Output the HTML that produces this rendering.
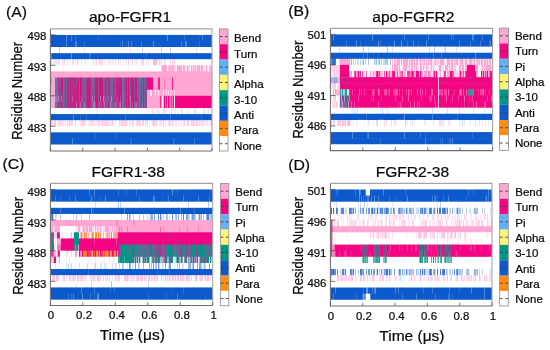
<!DOCTYPE html>
<html lang="en"><head><meta charset="utf-8"><title>Secondary structure timelines</title>
<style>html,body{margin:0;padding:0;background:#fff;overflow:hidden}svg{display:block}text{font-family:'Liberation Sans', Arial, Helvetica, sans-serif;fill:#0a0a0a;stroke:#0a0a0a;stroke-width:0.22px}</style></head><body>
<svg width="550" height="350" viewBox="0 0 550 350">
<defs><filter id="soft" x="-2%" y="-2%" width="104%" height="104%" color-interpolation-filters="sRGB"><feGaussianBlur stdDeviation="0.7 0.42"/></filter>
<clipPath id="clipA"><rect x="50.40" y="28.90" width="161.60" height="122.00"/></clipPath>
<clipPath id="clipB"><rect x="330.40" y="28.40" width="162.20" height="122.20"/></clipPath>
<clipPath id="clipC"><rect x="50.40" y="183.40" width="162.30" height="122.10"/></clipPath>
<clipPath id="clipD"><rect x="330.40" y="183.40" width="161.60" height="122.50"/></clipPath>
</defs>
<rect width="550" height="350" fill="#fff"/>
<g clip-path="url(#clipA)"><g filter="url(#soft)" transform="translate(51.00,28.80) scale(1.0000,1.0150)">
<rect x="0" y="0" width="162" height="6.5" fill="#ffffff"/>
<rect x="0" y="6" width="15" height="6.5" fill="#0c5acc"/>
<rect x="25" y="6" width="22" height="6.5" fill="#0c5acc"/>
<rect x="48" y="6" width="68" height="6.5" fill="#0c5acc"/>
<rect x="117" y="6" width="16" height="6.5" fill="#0c5acc"/>
<rect x="134" y="6" width="13" height="6.5" fill="#0c5acc"/>
<rect x="152" y="6" width="10" height="6.5" fill="#0c5acc"/>
<path d="M15 6h1v6.5h-1zM116 6h1v6.5h-1z" fill="#548ad8"/>
<path d="M16 6h4v6.5h-4zM21 6h3v6.5h-3zM148 6h3v6.5h-3z" fill="#0c5acc"/>
<path d="M20 6h1v6.5h-1z" fill="#3c78d8"/>
<path d="M24 6h1v6.5h-1z" fill="#3678d8"/>
<path d="M47 6h1v6.5h-1z" fill="#2a6cd2"/>
<path d="M133 6h1v6.5h-1z" fill="#3072d2"/>
<path d="M147 6h1v6.5h-1z" fill="#1e66d2"/>
<path d="M151 6h1v6.5h-1z" fill="#427ed8"/>
<rect x="0" y="12" width="15" height="6.5" fill="#0c5acc"/>
<rect x="16" y="12" width="8" height="6.5" fill="#0c5acc"/>
<rect x="26" y="12" width="7" height="6.5" fill="#0c5acc"/>
<rect x="34" y="12" width="35" height="6.5" fill="#0c5acc"/>
<rect x="81" y="12" width="9" height="6.5" fill="#0c5acc"/>
<rect x="91" y="12" width="11" height="6.5" fill="#0c5acc"/>
<rect x="103" y="12" width="27" height="6.5" fill="#0c5acc"/>
<rect x="136" y="12" width="12" height="6.5" fill="#0c5acc"/>
<rect x="149" y="12" width="13" height="6.5" fill="#0c5acc"/>
<path d="M15 12h1v6.5h-1zM24 12h1v6.5h-1zM71 12h1v6.5h-1z" fill="#4884d8"/>
<path d="M25 12h1v6.5h-1zM80 12h1v6.5h-1z" fill="#427ed8"/>
<path d="M33 12h1v6.5h-1z" fill="#3072d2"/>
<path d="M69 12h1v6.5h-1z" fill="#2466d2"/>
<path d="M70 12h1v6.5h-1zM72 12h3v6.5h-3zM76 12h1v6.5h-1zM78 12h2v6.5h-2zM131 12h3v6.5h-3z" fill="#0c5acc"/>
<path d="M75 12h1v6.5h-1z" fill="#246cd2"/>
<path d="M77 12h1v6.5h-1z" fill="#4e8ad8"/>
<path d="M90 12h1v6.5h-1zM130 12h1v6.5h-1z" fill="#3c78d8"/>
<path d="M102 12h1v6.5h-1z" fill="#548ad8"/>
<path d="M134 12h2v6.5h-2z" fill="#4e84d8"/>
<path d="M148 12h1v6.5h-1z" fill="#2a72d2"/>
<rect x="0" y="18" width="8" height="6.5" fill="#ffffff"/>
<rect x="9" y="18" width="24" height="6.5" fill="#ffffff"/>
<rect x="34" y="18" width="45" height="6.5" fill="#ffffff"/>
<rect x="80" y="18" width="11" height="6.5" fill="#ffffff"/>
<rect x="92" y="18" width="18" height="6.5" fill="#ffffff"/>
<rect x="111" y="18" width="8" height="6.5" fill="#ffffff"/>
<rect x="120" y="18" width="25" height="6.5" fill="#ffffff"/>
<rect x="146" y="18" width="16" height="6.5" fill="#ffffff"/>
<path d="M8 18h1v6.5h-1z" fill="#baccf0"/>
<path d="M33 18h1v6.5h-1zM79 18h1v6.5h-1z" fill="#deeaf6"/>
<path d="M91 18h1v6.5h-1z" fill="#ccdef6"/>
<path d="M110 18h1v6.5h-1z" fill="#c6d8f0"/>
<path d="M119 18h1v6.5h-1z" fill="#bad2f0"/>
<path d="M145 18h1v6.5h-1z" fill="#d8e4f6"/>
<rect x="1" y="24" width="19" height="6.5" fill="#0c5acc"/>
<rect x="21" y="24" width="17" height="6.5" fill="#0c5acc"/>
<rect x="40" y="24" width="55" height="6.5" fill="#0c5acc"/>
<rect x="96" y="24" width="66" height="6.5" fill="#0c5acc"/>
<path d="M0 24h1v6.5h-1z" fill="#427ed8"/>
<path d="M20 24h1v6.5h-1z" fill="#548ad8"/>
<path d="M38 24h1v6.5h-1z" fill="#3072d2"/>
<path d="M39 24h1v6.5h-1z" fill="#2a6cd2"/>
<path d="M95 24h1v6.5h-1z" fill="#246cd2"/>
<rect x="35" y="30" width="7" height="6.5" fill="#ffffff"/>
<rect x="124" y="30" width="38" height="6.5" fill="#ffffff"/>
<path d="M0 30h1v6.5h-1zM13 30h1v6.5h-1zM49 30h1v6.5h-1zM67 30h1v6.5h-1zM77 30h1v6.5h-1zM123 30h1v6.5h-1z" fill="#fccce4"/>
<path d="M1 30h1v6.5h-1zM6 30h1v6.5h-1zM9 30h2v6.5h-2zM14 30h2v6.5h-2zM17 30h1v6.5h-1zM19 30h2v6.5h-2zM23 30h1v6.5h-1zM25 30h1v6.5h-1zM28 30h2v6.5h-2zM31 30h3v6.5h-3zM43 30h1v6.5h-1zM46 30h1v6.5h-1zM52 30h1v6.5h-1zM54 30h3v6.5h-3zM60 30h1v6.5h-1zM63 30h1v6.5h-1zM65 30h2v6.5h-2zM68 30h1v6.5h-1zM70 30h2v6.5h-2zM73 30h2v6.5h-2zM76 30h1v6.5h-1zM78 30h1v6.5h-1zM80 30h1v6.5h-1zM82 30h2v6.5h-2zM86 30h4v6.5h-4zM93 30h2v6.5h-2zM96 30h1v6.5h-1zM98 30h4v6.5h-4zM107 30h1v6.5h-1zM111 30h2v6.5h-2zM115 30h4v6.5h-4zM120 30h1v6.5h-1zM122 30h1v6.5h-1z" fill="#ffffff"/>
<path d="M2 30h3v6.5h-3zM27 30h1v6.5h-1zM44 30h1v6.5h-1zM48 30h1v6.5h-1zM50 30h1v6.5h-1zM85 30h1v6.5h-1zM95 30h1v6.5h-1zM109 30h2v6.5h-2zM114 30h1v6.5h-1zM119 30h1v6.5h-1z" fill="#fce4f0"/>
<path d="M5 30h1v6.5h-1zM121 30h1v6.5h-1z" fill="#fcd8f0"/>
<path d="M7 30h1v6.5h-1zM22 30h1v6.5h-1zM26 30h1v6.5h-1zM34 30h1v6.5h-1zM45 30h1v6.5h-1zM81 30h1v6.5h-1zM91 30h2v6.5h-2zM108 30h1v6.5h-1z" fill="#fcd2ea"/>
<path d="M8 30h1v6.5h-1zM24 30h1v6.5h-1zM47 30h1v6.5h-1zM58 30h1v6.5h-1zM61 30h2v6.5h-2zM84 30h1v6.5h-1z" fill="#fceaf6"/>
<path d="M11 30h1v6.5h-1zM18 30h1v6.5h-1zM53 30h1v6.5h-1zM57 30h1v6.5h-1zM72 30h1v6.5h-1zM79 30h1v6.5h-1z" fill="#fcf0f6"/>
<path d="M12 30h1v6.5h-1zM16 30h1v6.5h-1zM30 30h1v6.5h-1zM64 30h1v6.5h-1zM69 30h1v6.5h-1zM75 30h1v6.5h-1zM90 30h1v6.5h-1zM97 30h1v6.5h-1zM106 30h1v6.5h-1z" fill="#fcdef0"/>
<path d="M21 30h1v6.5h-1zM42 30h1v6.5h-1zM51 30h1v6.5h-1zM59 30h1v6.5h-1zM113 30h1v6.5h-1z" fill="#fcd8ea"/>
<path d="M102 30h4v6.5h-4z" fill="#fcbade"/>
<rect x="0" y="36" width="6" height="6.5" fill="#ffffff"/>
<rect x="13" y="36" width="53" height="6.5" fill="#ffffff"/>
<rect x="67" y="36" width="10" height="6.5" fill="#ffffff"/>
<rect x="78" y="36" width="10" height="6.5" fill="#ffffff"/>
<rect x="89" y="36" width="21" height="6.5" fill="#ffffff"/>
<path d="M6 36h1v6.5h-1zM12 36h1v6.5h-1zM134 36h1v6.5h-1zM152 36h1v6.5h-1z" fill="#fcf0f6"/>
<path d="M7 36h5v6.5h-5z" fill="#ffffff"/>
<path d="M66 36h1v6.5h-1zM125 36h1v6.5h-1zM139 36h1v6.5h-1zM154 36h1v6.5h-1zM157 36h1v6.5h-1zM160 36h2v6.5h-2z" fill="#fcf6fc"/>
<path d="M77 36h1v6.5h-1z" fill="#fcf0fc"/>
<path d="M88 36h1v6.5h-1zM131 36h1v6.5h-1z" fill="#fceaf6"/>
<path d="M110 36h1v6.5h-1zM117 36h1v6.5h-1zM120 36h1v6.5h-1zM158 36h1v6.5h-1z" fill="#fcc6e4"/>
<path d="M111 36h5v6.5h-5zM118 36h2v6.5h-2zM121 36h2v6.5h-2zM126 36h5v6.5h-5zM132 36h2v6.5h-2zM136 36h1v6.5h-1zM140 36h1v6.5h-1zM142 36h1v6.5h-1zM144 36h1v6.5h-1zM146 36h3v6.5h-3zM150 36h2v6.5h-2zM155 36h1v6.5h-1zM159 36h1v6.5h-1z" fill="#ffa6d3"/>
<path d="M116 36h1v6.5h-1zM156 36h1v6.5h-1z" fill="#fce4f0"/>
<path d="M123 36h1v6.5h-1zM138 36h1v6.5h-1zM149 36h1v6.5h-1z" fill="#fcd2ea"/>
<path d="M124 36h1v6.5h-1zM137 36h1v6.5h-1z" fill="#fccce4"/>
<path d="M135 36h1v6.5h-1zM145 36h1v6.5h-1zM153 36h1v6.5h-1z" fill="#fcdef0"/>
<path d="M141 36h1v6.5h-1z" fill="#fcd8ea"/>
<path d="M143 36h1v6.5h-1z" fill="#fcc0e4"/>
<rect x="0" y="42" width="162" height="6.5" fill="#ffa6d3"/>
<rect x="96" y="48" width="6" height="6.5" fill="#f20482"/>
<rect x="114" y="48" width="7" height="6.5" fill="#ffa6d3"/>
<rect x="122" y="48" width="40" height="6.5" fill="#ffa6d3"/>
<path d="M0 48h1v6.5h-1zM113 48h1v6.5h-1z" fill="#fc78ba"/>
<path d="M1 48h3v6.5h-3zM102 48h5v6.5h-5zM109 48h4v6.5h-4z" fill="#ffa6d3"/>
<path d="M4 48h3v6.5h-3z" fill="#6078a8"/>
<path d="M7 48h1v6.5h-1zM39 48h1v6.5h-1zM68 48h1v6.5h-1z" fill="#ae308a"/>
<path d="M8 48h1v6.5h-1zM40 48h1v6.5h-1zM47 48h1v6.5h-1zM73 48h1v6.5h-1z" fill="#7e5a9c"/>
<path d="M9 48h1v6.5h-1zM94 48h2v6.5h-2z" fill="#904890"/>
<path d="M10 48h2v6.5h-2zM27 48h1v6.5h-1zM29 48h2v6.5h-2zM37 48h2v6.5h-2zM44 48h3v6.5h-3zM48 48h3v6.5h-3zM69 48h2v6.5h-2zM75 48h1v6.5h-1zM77 48h1v6.5h-1zM80 48h3v6.5h-3zM84 48h2v6.5h-2zM92 48h1v6.5h-1z" fill="#d81278"/>
<path d="M12 48h1v6.5h-1z" fill="#6072a8"/>
<path d="M13 48h1v6.5h-1zM15 48h1v6.5h-1zM34 48h1v6.5h-1zM52 48h1v6.5h-1zM59 48h3v6.5h-3zM64 48h1v6.5h-1zM76 48h1v6.5h-1zM83 48h1v6.5h-1z" fill="#76609c"/>
<path d="M14 48h1v6.5h-1z" fill="#d2187e"/>
<path d="M16 48h1v6.5h-1zM18 48h5v6.5h-5zM57 48h1v6.5h-1z" fill="#ba2a84"/>
<path d="M17 48h1v6.5h-1z" fill="#9c3c90"/>
<path d="M23 48h2v6.5h-2zM26 48h1v6.5h-1z" fill="#b42a84"/>
<path d="M25 48h1v6.5h-1z" fill="#8a549c"/>
<path d="M28 48h1v6.5h-1z" fill="#72669c"/>
<path d="M31 48h2v6.5h-2z" fill="#72609c"/>
<path d="M33 48h1v6.5h-1zM35 48h1v6.5h-1zM55 48h1v6.5h-1z" fill="#845496"/>
<path d="M36 48h1v6.5h-1z" fill="#cc187e"/>
<path d="M41 48h3v6.5h-3z" fill="#845a9c"/>
<path d="M51 48h1v6.5h-1zM74 48h1v6.5h-1z" fill="#b43084"/>
<path d="M53 48h1v6.5h-1z" fill="#84549c"/>
<path d="M54 48h1v6.5h-1zM65 48h3v6.5h-3z" fill="#c02484"/>
<path d="M56 48h1v6.5h-1zM62 48h1v6.5h-1z" fill="#964890"/>
<path d="M58 48h1v6.5h-1z" fill="#cc1e7e"/>
<path d="M63 48h1v6.5h-1z" fill="#a23c90"/>
<path d="M71 48h2v6.5h-2z" fill="#6078ae"/>
<path d="M78 48h1v6.5h-1z" fill="#9c4290"/>
<path d="M79 48h1v6.5h-1z" fill="#904e96"/>
<path d="M86 48h1v6.5h-1z" fill="#7860a2"/>
<path d="M87 48h1v6.5h-1z" fill="#7e60a2"/>
<path d="M88 48h2v6.5h-2z" fill="#666ca8"/>
<path d="M90 48h1v6.5h-1z" fill="#a83c8a"/>
<path d="M91 48h1v6.5h-1z" fill="#6672a8"/>
<path d="M93 48h1v6.5h-1z" fill="#78609c"/>
<path d="M107 48h2v6.5h-2zM121 48h1v6.5h-1z" fill="#f61e90"/>
<rect x="96" y="54" width="6" height="6.5" fill="#f20482"/>
<rect x="114" y="54" width="7" height="6.5" fill="#ffa6d3"/>
<rect x="122" y="54" width="40" height="6.5" fill="#ffa6d3"/>
<path d="M0 54h4v6.5h-4zM102 54h5v6.5h-5zM109 54h4v6.5h-4z" fill="#ffa6d3"/>
<path d="M4 54h3v6.5h-3z" fill="#6078a8"/>
<path d="M7 54h1v6.5h-1zM39 54h1v6.5h-1z" fill="#ae308a"/>
<path d="M8 54h2v6.5h-2zM95 54h1v6.5h-1z" fill="#904890"/>
<path d="M10 54h2v6.5h-2zM27 54h1v6.5h-1zM29 54h2v6.5h-2zM37 54h2v6.5h-2zM44 54h3v6.5h-3zM48 54h4v6.5h-4zM68 54h3v6.5h-3zM75 54h1v6.5h-1zM77 54h1v6.5h-1zM80 54h1v6.5h-1zM82 54h1v6.5h-1zM84 54h2v6.5h-2zM90 54h1v6.5h-1zM92 54h1v6.5h-1z" fill="#d81278"/>
<path d="M12 54h1v6.5h-1z" fill="#6072a8"/>
<path d="M13 54h1v6.5h-1zM15 54h1v6.5h-1zM34 54h1v6.5h-1zM52 54h1v6.5h-1zM59 54h3v6.5h-3zM64 54h1v6.5h-1zM76 54h1v6.5h-1zM83 54h1v6.5h-1z" fill="#76609c"/>
<path d="M14 54h1v6.5h-1z" fill="#d2187e"/>
<path d="M16 54h3v6.5h-3zM21 54h2v6.5h-2z" fill="#ba2a84"/>
<path d="M19 54h1v6.5h-1z" fill="#c61e84"/>
<path d="M20 54h1v6.5h-1z" fill="#a83c90"/>
<path d="M23 54h1v6.5h-1z" fill="#964890"/>
<path d="M24 54h3v6.5h-3zM81 54h1v6.5h-1z" fill="#b42a84"/>
<path d="M28 54h1v6.5h-1z" fill="#72669c"/>
<path d="M31 54h1v6.5h-1zM78 54h1v6.5h-1zM93 54h1v6.5h-1z" fill="#78609c"/>
<path d="M32 54h1v6.5h-1z" fill="#72609c"/>
<path d="M33 54h1v6.5h-1zM55 54h2v6.5h-2z" fill="#845496"/>
<path d="M35 54h1v6.5h-1zM94 54h1v6.5h-1z" fill="#a8368a"/>
<path d="M36 54h1v6.5h-1z" fill="#cc187e"/>
<path d="M40 54h1v6.5h-1z" fill="#9c4290"/>
<path d="M41 54h3v6.5h-3z" fill="#845a9c"/>
<path d="M47 54h1v6.5h-1z" fill="#7e5a9c"/>
<path d="M53 54h1v6.5h-1z" fill="#84549c"/>
<path d="M54 54h1v6.5h-1zM67 54h1v6.5h-1z" fill="#c02484"/>
<path d="M57 54h1v6.5h-1z" fill="#a83690"/>
<path d="M58 54h1v6.5h-1z" fill="#cc1e7e"/>
<path d="M62 54h1v6.5h-1z" fill="#ba2484"/>
<path d="M63 54h1v6.5h-1z" fill="#904896"/>
<path d="M65 54h2v6.5h-2z" fill="#c61e7e"/>
<path d="M71 54h1v6.5h-1z" fill="#6078ae"/>
<path d="M72 54h1v6.5h-1z" fill="#8a549c"/>
<path d="M73 54h1v6.5h-1z" fill="#785a9c"/>
<path d="M74 54h1v6.5h-1z" fill="#b43084"/>
<path d="M79 54h1v6.5h-1zM87 54h1v6.5h-1z" fill="#904e96"/>
<path d="M86 54h1v6.5h-1z" fill="#7860a2"/>
<path d="M88 54h2v6.5h-2z" fill="#666ca8"/>
<path d="M91 54h1v6.5h-1z" fill="#6672a8"/>
<path d="M107 54h2v6.5h-2zM121 54h1v6.5h-1z" fill="#f61e90"/>
<path d="M113 54h1v6.5h-1z" fill="#fc78ba"/>
<rect x="16" y="60" width="7" height="6.5" fill="#ba2a84"/>
<rect x="124" y="60" width="38" height="6.5" fill="#ffa6d3"/>
<path d="M0 60h4v6.5h-4zM96 60h3v6.5h-3zM101 60h3v6.5h-3zM105 60h2v6.5h-2zM108 60h4v6.5h-4zM113 60h2v6.5h-2zM116 60h1v6.5h-1zM118 60h1v6.5h-1zM120 60h3v6.5h-3z" fill="#ffa6d3"/>
<path d="M4 60h3v6.5h-3z" fill="#6078a8"/>
<path d="M7 60h1v6.5h-1zM39 60h1v6.5h-1z" fill="#ae308a"/>
<path d="M8 60h2v6.5h-2zM94 60h2v6.5h-2z" fill="#904890"/>
<path d="M10 60h1v6.5h-1zM27 60h1v6.5h-1zM29 60h2v6.5h-2zM37 60h2v6.5h-2zM44 60h3v6.5h-3zM48 60h4v6.5h-4zM68 60h3v6.5h-3zM75 60h1v6.5h-1zM77 60h1v6.5h-1zM80 60h3v6.5h-3zM84 60h2v6.5h-2zM90 60h1v6.5h-1zM92 60h1v6.5h-1z" fill="#d81278"/>
<path d="M11 60h1v6.5h-1z" fill="#a8368a"/>
<path d="M12 60h1v6.5h-1z" fill="#6072a8"/>
<path d="M13 60h1v6.5h-1zM15 60h1v6.5h-1zM52 60h1v6.5h-1zM59 60h3v6.5h-3zM64 60h1v6.5h-1zM76 60h1v6.5h-1zM83 60h1v6.5h-1z" fill="#76609c"/>
<path d="M14 60h1v6.5h-1z" fill="#d2187e"/>
<path d="M23 60h1v6.5h-1z" fill="#c61e7e"/>
<path d="M24 60h3v6.5h-3z" fill="#b42a84"/>
<path d="M28 60h1v6.5h-1z" fill="#72669c"/>
<path d="M31 60h2v6.5h-2z" fill="#72609c"/>
<path d="M33 60h1v6.5h-1zM55 60h1v6.5h-1z" fill="#845496"/>
<path d="M34 60h1v6.5h-1z" fill="#6c66a2"/>
<path d="M35 60h1v6.5h-1z" fill="#a83c8a"/>
<path d="M36 60h1v6.5h-1z" fill="#cc187e"/>
<path d="M40 60h2v6.5h-2zM43 60h1v6.5h-1z" fill="#845a9c"/>
<path d="M42 60h1v6.5h-1zM62 60h2v6.5h-2z" fill="#a23c90"/>
<path d="M47 60h1v6.5h-1zM73 60h1v6.5h-1z" fill="#7e5a9c"/>
<path d="M53 60h1v6.5h-1z" fill="#84549c"/>
<path d="M54 60h1v6.5h-1zM65 60h3v6.5h-3z" fill="#c02484"/>
<path d="M56 60h1v6.5h-1zM78 60h1v6.5h-1z" fill="#785a9c"/>
<path d="M57 60h1v6.5h-1z" fill="#a83690"/>
<path d="M58 60h1v6.5h-1z" fill="#cc1e7e"/>
<path d="M71 60h2v6.5h-2z" fill="#6078ae"/>
<path d="M74 60h1v6.5h-1z" fill="#964896"/>
<path d="M79 60h1v6.5h-1z" fill="#7e609c"/>
<path d="M86 60h1v6.5h-1z" fill="#7860a2"/>
<path d="M87 60h1v6.5h-1z" fill="#904e96"/>
<path d="M88 60h1v6.5h-1zM91 60h1v6.5h-1z" fill="#6672a8"/>
<path d="M89 60h1v6.5h-1z" fill="#666ca8"/>
<path d="M93 60h1v6.5h-1z" fill="#78609c"/>
<path d="M99 60h1v6.5h-1zM107 60h1v6.5h-1zM112 60h1v6.5h-1z" fill="#fceaf6"/>
<path d="M100 60h1v6.5h-1z" fill="#fce4f0"/>
<path d="M104 60h1v6.5h-1z" fill="#fcf0fc"/>
<path d="M115 60h1v6.5h-1z" fill="#fcd8ea"/>
<path d="M117 60h1v6.5h-1z" fill="#fcd2ea"/>
<path d="M119 60h1v6.5h-1zM123 60h1v6.5h-1z" fill="#fcc6e4"/>
<rect x="96" y="66" width="13" height="6.5" fill="#ffa6d3"/>
<rect x="124" y="66" width="38" height="6.5" fill="#f20482"/>
<path d="M0 66h4v6.5h-4z" fill="#ffa6d3"/>
<path d="M4 66h1v6.5h-1z" fill="#968ac0"/>
<path d="M5 66h1v6.5h-1z" fill="#7e84b4"/>
<path d="M6 66h1v6.5h-1z" fill="#6078a8"/>
<path d="M7 66h1v6.5h-1z" fill="#c078b4"/>
<path d="M8 66h2v6.5h-2zM94 66h2v6.5h-2z" fill="#904890"/>
<path d="M10 66h1v6.5h-1z" fill="#d254a2"/>
<path d="M11 66h1v6.5h-1z" fill="#a8368a"/>
<path d="M12 66h1v6.5h-1z" fill="#6072a8"/>
<path d="M13 66h1v6.5h-1zM15 66h1v6.5h-1zM59 66h1v6.5h-1zM61 66h1v6.5h-1zM64 66h1v6.5h-1zM76 66h1v6.5h-1zM83 66h1v6.5h-1z" fill="#76609c"/>
<path d="M14 66h1v6.5h-1z" fill="#d2187e"/>
<path d="M16 66h5v6.5h-5zM22 66h1v6.5h-1z" fill="#ba2a84"/>
<path d="M21 66h1v6.5h-1z" fill="#c054a2"/>
<path d="M23 66h1v6.5h-1z" fill="#c61e7e"/>
<path d="M24 66h3v6.5h-3z" fill="#b42a84"/>
<path d="M27 66h1v6.5h-1zM29 66h1v6.5h-1zM37 66h2v6.5h-2zM44 66h3v6.5h-3zM48 66h1v6.5h-1zM50 66h2v6.5h-2zM68 66h1v6.5h-1zM70 66h1v6.5h-1zM75 66h1v6.5h-1zM77 66h1v6.5h-1zM80 66h3v6.5h-3zM84 66h2v6.5h-2zM90 66h1v6.5h-1zM92 66h1v6.5h-1z" fill="#d81278"/>
<path d="M28 66h1v6.5h-1z" fill="#72669c"/>
<path d="M30 66h1v6.5h-1z" fill="#d24296"/>
<path d="M31 66h2v6.5h-2z" fill="#72609c"/>
<path d="M33 66h1v6.5h-1zM55 66h1v6.5h-1z" fill="#845496"/>
<path d="M34 66h1v6.5h-1z" fill="#6c66a2"/>
<path d="M35 66h1v6.5h-1z" fill="#a83c8a"/>
<path d="M36 66h1v6.5h-1z" fill="#cc187e"/>
<path d="M39 66h1v6.5h-1z" fill="#ae308a"/>
<path d="M40 66h1v6.5h-1z" fill="#845a9c"/>
<path d="M41 66h1v6.5h-1z" fill="#9c78b4"/>
<path d="M42 66h1v6.5h-1zM62 66h2v6.5h-2z" fill="#a23c90"/>
<path d="M43 66h1v6.5h-1z" fill="#9c72ae"/>
<path d="M47 66h1v6.5h-1zM73 66h1v6.5h-1z" fill="#7e5a9c"/>
<path d="M49 66h1v6.5h-1z" fill="#d260a8"/>
<path d="M52 66h1v6.5h-1z" fill="#a284ba"/>
<path d="M53 66h1v6.5h-1z" fill="#84549c"/>
<path d="M54 66h1v6.5h-1z" fill="#c64296"/>
<path d="M56 66h1v6.5h-1zM78 66h1v6.5h-1z" fill="#785a9c"/>
<path d="M57 66h1v6.5h-1z" fill="#b454a2"/>
<path d="M58 66h1v6.5h-1z" fill="#cc1e7e"/>
<path d="M60 66h1v6.5h-1z" fill="#a88aba"/>
<path d="M65 66h1v6.5h-1zM67 66h1v6.5h-1z" fill="#c02484"/>
<path d="M66 66h1v6.5h-1z" fill="#c04296"/>
<path d="M69 66h1v6.5h-1z" fill="#d23c96"/>
<path d="M71 66h2v6.5h-2z" fill="#6078ae"/>
<path d="M74 66h1v6.5h-1z" fill="#964896"/>
<path d="M79 66h1v6.5h-1z" fill="#a884ba"/>
<path d="M86 66h1v6.5h-1z" fill="#7860a2"/>
<path d="M87 66h1v6.5h-1z" fill="#904e96"/>
<path d="M88 66h1v6.5h-1zM91 66h1v6.5h-1z" fill="#6672a8"/>
<path d="M89 66h1v6.5h-1z" fill="#666ca8"/>
<path d="M93 66h1v6.5h-1z" fill="#78609c"/>
<path d="M109 66h1v6.5h-1z" fill="#f6309c"/>
<path d="M110 66h1v6.5h-1z" fill="#fc84c0"/>
<path d="M111 66h1v6.5h-1z" fill="#fcfcfc"/>
<path d="M112 66h1v6.5h-1z" fill="#fca2d2"/>
<path d="M113 66h1v6.5h-1zM117 66h1v6.5h-1zM122 66h1v6.5h-1z" fill="#f20482"/>
<path d="M114 66h1v6.5h-1zM121 66h1v6.5h-1z" fill="#fc6cb4"/>
<path d="M115 66h1v6.5h-1z" fill="#f0128a"/>
<path d="M116 66h1v6.5h-1z" fill="#fcb4d8"/>
<path d="M118 66h1v6.5h-1z" fill="#f648a2"/>
<path d="M119 66h1v6.5h-1z" fill="#f66cb4"/>
<path d="M120 66h1v6.5h-1z" fill="#f642a2"/>
<path d="M123 66h1v6.5h-1z" fill="#fcf6fc"/>
<rect x="16" y="72" width="7" height="6.5" fill="#ba2a84"/>
<rect x="96" y="72" width="13" height="6.5" fill="#ffa6d3"/>
<rect x="124" y="72" width="38" height="6.5" fill="#f20482"/>
<path d="M0 72h4v6.5h-4z" fill="#ffa6d3"/>
<path d="M4 72h3v6.5h-3z" fill="#6078a8"/>
<path d="M7 72h1v6.5h-1zM39 72h1v6.5h-1z" fill="#ae308a"/>
<path d="M8 72h2v6.5h-2zM94 72h2v6.5h-2z" fill="#904890"/>
<path d="M10 72h1v6.5h-1zM27 72h1v6.5h-1zM30 72h1v6.5h-1zM37 72h2v6.5h-2zM45 72h2v6.5h-2zM49 72h1v6.5h-1zM51 72h1v6.5h-1zM70 72h1v6.5h-1zM75 72h1v6.5h-1zM77 72h1v6.5h-1zM80 72h1v6.5h-1zM82 72h1v6.5h-1zM90 72h1v6.5h-1zM92 72h1v6.5h-1z" fill="#d81278"/>
<path d="M11 72h1v6.5h-1z" fill="#a8368a"/>
<path d="M12 72h1v6.5h-1z" fill="#6072a8"/>
<path d="M13 72h1v6.5h-1zM15 72h1v6.5h-1zM52 72h1v6.5h-1zM60 72h2v6.5h-2zM64 72h1v6.5h-1zM76 72h1v6.5h-1zM83 72h1v6.5h-1z" fill="#76609c"/>
<path d="M14 72h1v6.5h-1z" fill="#d2187e"/>
<path d="M23 72h1v6.5h-1z" fill="#c61e7e"/>
<path d="M24 72h1v6.5h-1zM26 72h1v6.5h-1z" fill="#b42a84"/>
<path d="M25 72h1v6.5h-1z" fill="#c06cae"/>
<path d="M28 72h1v6.5h-1z" fill="#72669c"/>
<path d="M29 72h1v6.5h-1z" fill="#d260a8"/>
<path d="M31 72h2v6.5h-2z" fill="#72609c"/>
<path d="M33 72h1v6.5h-1z" fill="#a878b4"/>
<path d="M34 72h1v6.5h-1z" fill="#6c66a2"/>
<path d="M35 72h1v6.5h-1z" fill="#a83c8a"/>
<path d="M36 72h1v6.5h-1z" fill="#cc187e"/>
<path d="M40 72h2v6.5h-2z" fill="#845a9c"/>
<path d="M42 72h1v6.5h-1z" fill="#ba78ba"/>
<path d="M43 72h1v6.5h-1z" fill="#9c72b4"/>
<path d="M44 72h1v6.5h-1z" fill="#d23690"/>
<path d="M47 72h1v6.5h-1zM73 72h1v6.5h-1z" fill="#7e5a9c"/>
<path d="M48 72h1v6.5h-1zM68 72h1v6.5h-1zM84 72h1v6.5h-1z" fill="#d2489c"/>
<path d="M50 72h1v6.5h-1z" fill="#d24296"/>
<path d="M53 72h1v6.5h-1z" fill="#a278b4"/>
<path d="M54 72h1v6.5h-1zM66 72h2v6.5h-2z" fill="#c02484"/>
<path d="M55 72h1v6.5h-1z" fill="#845496"/>
<path d="M56 72h1v6.5h-1zM78 72h1v6.5h-1z" fill="#785a9c"/>
<path d="M57 72h1v6.5h-1z" fill="#a83690"/>
<path d="M58 72h1v6.5h-1z" fill="#cc1e7e"/>
<path d="M59 72h1v6.5h-1z" fill="#a884ba"/>
<path d="M62 72h1v6.5h-1z" fill="#a23c90"/>
<path d="M63 72h1v6.5h-1z" fill="#ae5aa2"/>
<path d="M65 72h1v6.5h-1z" fill="#c65aa2"/>
<path d="M69 72h1v6.5h-1z" fill="#d266ae"/>
<path d="M71 72h2v6.5h-2z" fill="#6078ae"/>
<path d="M74 72h1v6.5h-1z" fill="#964896"/>
<path d="M79 72h1v6.5h-1z" fill="#9c78b4"/>
<path d="M81 72h1v6.5h-1z" fill="#d2429c"/>
<path d="M85 72h1v6.5h-1z" fill="#d254a2"/>
<path d="M86 72h1v6.5h-1z" fill="#7860a2"/>
<path d="M87 72h1v6.5h-1z" fill="#904e96"/>
<path d="M88 72h1v6.5h-1z" fill="#6672a8"/>
<path d="M89 72h1v6.5h-1z" fill="#666ca8"/>
<path d="M91 72h1v6.5h-1z" fill="#7e7eb4"/>
<path d="M93 72h1v6.5h-1z" fill="#78609c"/>
<path d="M109 72h1v6.5h-1z" fill="#f6309c"/>
<path d="M110 72h1v6.5h-1z" fill="#fc84c0"/>
<path d="M111 72h1v6.5h-1z" fill="#fcfcfc"/>
<path d="M112 72h1v6.5h-1z" fill="#fca2d2"/>
<path d="M113 72h1v6.5h-1zM117 72h1v6.5h-1zM122 72h1v6.5h-1z" fill="#f20482"/>
<path d="M114 72h1v6.5h-1zM121 72h1v6.5h-1z" fill="#fc6cb4"/>
<path d="M115 72h1v6.5h-1z" fill="#f0128a"/>
<path d="M116 72h1v6.5h-1z" fill="#fcb4d8"/>
<path d="M118 72h1v6.5h-1z" fill="#f648a2"/>
<path d="M119 72h1v6.5h-1z" fill="#f66cb4"/>
<path d="M120 72h1v6.5h-1z" fill="#f642a2"/>
<path d="M123 72h1v6.5h-1z" fill="#fcf6fc"/>
<rect x="0" y="78" width="22" height="6.5" fill="#ffffff"/>
<rect x="23" y="78" width="15" height="6.5" fill="#ffffff"/>
<rect x="39" y="78" width="6" height="6.5" fill="#ffffff"/>
<rect x="47" y="78" width="6" height="6.5" fill="#ffffff"/>
<rect x="54" y="78" width="8" height="6.5" fill="#ffffff"/>
<rect x="63" y="78" width="13" height="6.5" fill="#ffffff"/>
<rect x="77" y="78" width="8" height="6.5" fill="#ffffff"/>
<rect x="89" y="78" width="6" height="6.5" fill="#ffffff"/>
<path d="M22 78h1v6.5h-1zM38 78h1v6.5h-1zM102 78h1v6.5h-1zM108 78h1v6.5h-1zM112 78h1v6.5h-1zM136 78h1v6.5h-1zM157 78h1v6.5h-1z" fill="#fce4f0"/>
<path d="M45 78h1v6.5h-1zM100 78h1v6.5h-1zM115 78h1v6.5h-1zM124 78h1v6.5h-1zM131 78h1v6.5h-1z" fill="#fceaf6"/>
<path d="M46 78h1v6.5h-1zM85 78h1v6.5h-1zM88 78h1v6.5h-1zM95 78h1v6.5h-1zM137 78h1v6.5h-1zM155 78h1v6.5h-1z" fill="#fcf6fc"/>
<path d="M53 78h1v6.5h-1zM62 78h1v6.5h-1zM76 78h1v6.5h-1zM107 78h1v6.5h-1zM110 78h1v6.5h-1zM114 78h1v6.5h-1zM121 78h1v6.5h-1zM127 78h1v6.5h-1zM139 78h1v6.5h-1zM146 78h1v6.5h-1zM152 78h1v6.5h-1zM154 78h1v6.5h-1zM156 78h1v6.5h-1z" fill="#fcf0f6"/>
<path d="M86 78h2v6.5h-2zM96 78h4v6.5h-4zM103 78h1v6.5h-1zM105 78h1v6.5h-1zM109 78h1v6.5h-1zM111 78h1v6.5h-1zM116 78h4v6.5h-4zM122 78h2v6.5h-2zM125 78h2v6.5h-2zM128 78h2v6.5h-2zM132 78h4v6.5h-4zM138 78h1v6.5h-1zM140 78h3v6.5h-3zM145 78h1v6.5h-1zM147 78h5v6.5h-5zM158 78h4v6.5h-4z" fill="#ffffff"/>
<path d="M101 78h1v6.5h-1zM120 78h1v6.5h-1zM130 78h1v6.5h-1z" fill="#fcd8f0"/>
<path d="M104 78h1v6.5h-1zM144 78h1v6.5h-1z" fill="#fcdef0"/>
<path d="M106 78h1v6.5h-1zM113 78h1v6.5h-1zM143 78h1v6.5h-1zM153 78h1v6.5h-1z" fill="#fcd8ea"/>
<rect x="0" y="84" width="22" height="6.5" fill="#0c5acc"/>
<rect x="23" y="84" width="6" height="6.5" fill="#0c5acc"/>
<rect x="36" y="84" width="38" height="6.5" fill="#0c5acc"/>
<rect x="75" y="84" width="44" height="6.5" fill="#0c5acc"/>
<rect x="120" y="84" width="30" height="6.5" fill="#0c5acc"/>
<rect x="151" y="84" width="11" height="6.5" fill="#0c5acc"/>
<path d="M22 84h1v6.5h-1z" fill="#4884d8"/>
<path d="M29 84h1v6.5h-1zM150 84h1v6.5h-1z" fill="#2a6cd2"/>
<path d="M30 84h5v6.5h-5z" fill="#0c5acc"/>
<path d="M35 84h1v6.5h-1z" fill="#3072d2"/>
<path d="M74 84h1v6.5h-1zM119 84h1v6.5h-1z" fill="#3c78d8"/>
<path d="M0 90h2v6.5h-2zM3 90h2v6.5h-2zM18 90h1v6.5h-1zM48 90h1v6.5h-1zM51 90h1v6.5h-1zM70 90h1v6.5h-1zM74 90h1v6.5h-1zM102 90h2v6.5h-2zM145 90h1v6.5h-1z" fill="#fcc6e4"/>
<path d="M2 90h1v6.5h-1zM5 90h1v6.5h-1zM15 90h1v6.5h-1zM22 90h2v6.5h-2zM25 90h1v6.5h-1zM27 90h1v6.5h-1zM35 90h2v6.5h-2zM49 90h1v6.5h-1zM63 90h1v6.5h-1zM65 90h3v6.5h-3zM77 90h1v6.5h-1zM80 90h1v6.5h-1zM83 90h2v6.5h-2zM90 90h1v6.5h-1zM93 90h1v6.5h-1zM97 90h1v6.5h-1zM99 90h1v6.5h-1zM107 90h1v6.5h-1zM113 90h1v6.5h-1zM116 90h1v6.5h-1zM120 90h1v6.5h-1zM123 90h1v6.5h-1zM126 90h1v6.5h-1zM128 90h1v6.5h-1zM131 90h1v6.5h-1zM134 90h1v6.5h-1zM138 90h1v6.5h-1zM158 90h1v6.5h-1z" fill="#ffffff"/>
<path d="M6 90h1v6.5h-1zM10 90h1v6.5h-1zM12 90h1v6.5h-1zM17 90h1v6.5h-1zM29 90h1v6.5h-1zM52 90h1v6.5h-1zM59 90h1v6.5h-1zM64 90h1v6.5h-1zM69 90h1v6.5h-1zM98 90h1v6.5h-1zM105 90h1v6.5h-1zM108 90h1v6.5h-1zM110 90h1v6.5h-1zM117 90h1v6.5h-1zM122 90h1v6.5h-1zM139 90h1v6.5h-1zM149 90h1v6.5h-1zM153 90h2v6.5h-2z" fill="#fce4f0"/>
<path d="M7 90h1v6.5h-1zM9 90h1v6.5h-1zM16 90h1v6.5h-1zM19 90h1v6.5h-1zM33 90h2v6.5h-2zM41 90h1v6.5h-1zM45 90h1v6.5h-1zM47 90h1v6.5h-1zM54 90h1v6.5h-1zM57 90h2v6.5h-2zM60 90h1v6.5h-1zM62 90h1v6.5h-1zM76 90h1v6.5h-1zM79 90h1v6.5h-1zM95 90h1v6.5h-1zM101 90h1v6.5h-1zM124 90h2v6.5h-2zM132 90h1v6.5h-1zM151 90h1v6.5h-1z" fill="#fcdef0"/>
<path d="M8 90h1v6.5h-1zM53 90h1v6.5h-1zM55 90h2v6.5h-2zM61 90h1v6.5h-1zM73 90h1v6.5h-1zM81 90h1v6.5h-1zM91 90h1v6.5h-1zM112 90h1v6.5h-1zM119 90h1v6.5h-1zM133 90h1v6.5h-1zM137 90h1v6.5h-1zM142 90h1v6.5h-1zM146 90h1v6.5h-1zM160 90h2v6.5h-2z" fill="#fccce4"/>
<path d="M11 90h1v6.5h-1zM21 90h1v6.5h-1zM24 90h1v6.5h-1zM40 90h1v6.5h-1zM50 90h1v6.5h-1zM72 90h1v6.5h-1zM78 90h1v6.5h-1zM82 90h1v6.5h-1zM85 90h1v6.5h-1zM87 90h1v6.5h-1zM89 90h1v6.5h-1zM94 90h1v6.5h-1zM96 90h1v6.5h-1zM127 90h1v6.5h-1zM143 90h1v6.5h-1zM152 90h1v6.5h-1zM156 90h1v6.5h-1z" fill="#fcd8ea"/>
<path d="M13 90h1v6.5h-1zM37 90h1v6.5h-1zM43 90h1v6.5h-1zM46 90h1v6.5h-1zM115 90h1v6.5h-1zM144 90h1v6.5h-1zM147 90h1v6.5h-1zM155 90h1v6.5h-1zM157 90h1v6.5h-1z" fill="#fcf0f6"/>
<path d="M14 90h1v6.5h-1zM109 90h1v6.5h-1zM159 90h1v6.5h-1z" fill="#fcd8f0"/>
<path d="M20 90h1v6.5h-1zM30 90h3v6.5h-3zM38 90h1v6.5h-1zM42 90h1v6.5h-1zM68 90h1v6.5h-1zM71 90h1v6.5h-1zM75 90h1v6.5h-1zM86 90h1v6.5h-1zM88 90h1v6.5h-1zM92 90h1v6.5h-1zM104 90h1v6.5h-1zM106 90h1v6.5h-1zM118 90h1v6.5h-1zM121 90h1v6.5h-1zM136 90h1v6.5h-1zM140 90h2v6.5h-2zM148 90h1v6.5h-1zM150 90h1v6.5h-1z" fill="#fcd2ea"/>
<path d="M26 90h1v6.5h-1zM28 90h1v6.5h-1zM39 90h1v6.5h-1zM44 90h1v6.5h-1zM100 90h1v6.5h-1zM111 90h1v6.5h-1zM114 90h1v6.5h-1zM130 90h1v6.5h-1zM135 90h1v6.5h-1z" fill="#fceaf6"/>
<path d="M129 90h1v6.5h-1z" fill="#fceaf0"/>
<rect x="0" y="96" width="162" height="6.5" fill="#ffffff"/>
<rect x="0" y="102" width="44" height="6.5" fill="#0c5acc"/>
<rect x="45" y="102" width="19" height="6.5" fill="#0c5acc"/>
<rect x="65" y="102" width="97" height="6.5" fill="#0c5acc"/>
<path d="M44 102h1v6.5h-1z" fill="#246cd2"/>
<path d="M64 102h1v6.5h-1z" fill="#2a6cd2"/>
<rect x="0" y="108" width="21" height="6.5" fill="#0c5acc"/>
<rect x="22" y="108" width="57" height="6.5" fill="#0c5acc"/>
<rect x="81" y="108" width="41" height="6.5" fill="#0c5acc"/>
<rect x="124" y="108" width="19" height="6.5" fill="#0c5acc"/>
<rect x="144" y="108" width="18" height="6.5" fill="#0c5acc"/>
<path d="M21 108h1v6.5h-1z" fill="#4e84d8"/>
<path d="M79 108h1v6.5h-1z" fill="#1e66d2"/>
<path d="M80 108h1v6.5h-1z" fill="#3072d2"/>
<path d="M122 108h1v6.5h-1z" fill="#2a72d2"/>
<path d="M123 108h1v6.5h-1z" fill="#2a6cd2"/>
<path d="M143 108h1v6.5h-1z" fill="#3c78d8"/>
<rect x="0" y="114" width="162" height="6" fill="#ffffff"/>
</g></g>
<g clip-path="url(#clipB)"><g filter="url(#soft)" transform="translate(331.00,28.30) scale(1.0000,1.0175)">
<rect x="0" y="0" width="162" height="6.5" fill="#ffffff"/>
<rect x="3" y="6" width="38" height="6.5" fill="#0c5acc"/>
<rect x="42" y="6" width="31" height="6.5" fill="#0c5acc"/>
<rect x="74" y="6" width="23" height="6.5" fill="#0c5acc"/>
<rect x="98" y="6" width="22" height="6.5" fill="#0c5acc"/>
<rect x="123" y="6" width="18" height="6.5" fill="#0c5acc"/>
<rect x="143" y="6" width="8" height="6.5" fill="#0c5acc"/>
<rect x="152" y="6" width="10" height="6.5" fill="#0c5acc"/>
<path d="M0 6h2v6.5h-2zM121 6h1v6.5h-1z" fill="#0c5acc"/>
<path d="M2 6h1v6.5h-1zM41 6h1v6.5h-1z" fill="#548ad8"/>
<path d="M73 6h1v6.5h-1zM97 6h1v6.5h-1z" fill="#3c78d8"/>
<path d="M120 6h1v6.5h-1zM151 6h1v6.5h-1z" fill="#3678d2"/>
<path d="M122 6h1v6.5h-1z" fill="#2a6cd2"/>
<path d="M141 6h1v6.5h-1z" fill="#4884d8"/>
<path d="M142 6h1v6.5h-1z" fill="#427ed8"/>
<rect x="0" y="12" width="15" height="6.5" fill="#0c5acc"/>
<rect x="16" y="12" width="9" height="6.5" fill="#0c5acc"/>
<rect x="30" y="12" width="17" height="6.5" fill="#0c5acc"/>
<rect x="50" y="12" width="13" height="6.5" fill="#0c5acc"/>
<rect x="64" y="12" width="6" height="6.5" fill="#0c5acc"/>
<rect x="88" y="12" width="7" height="6.5" fill="#0c5acc"/>
<rect x="96" y="12" width="32" height="6.5" fill="#0c5acc"/>
<rect x="129" y="12" width="10" height="6.5" fill="#0c5acc"/>
<rect x="140" y="12" width="9" height="6.5" fill="#0c5acc"/>
<rect x="150" y="12" width="8" height="6.5" fill="#0c5acc"/>
<path d="M15 12h1v6.5h-1z" fill="#3678d8"/>
<path d="M25 12h1v6.5h-1zM63 12h1v6.5h-1z" fill="#5490de"/>
<path d="M26 12h3v6.5h-3zM48 12h1v6.5h-1zM71 12h5v6.5h-5zM77 12h5v6.5h-5zM83 12h4v6.5h-4zM160 12h2v6.5h-2z" fill="#0c5acc"/>
<path d="M29 12h1v6.5h-1zM87 12h1v6.5h-1zM158 12h1v6.5h-1z" fill="#246cd2"/>
<path d="M47 12h1v6.5h-1zM95 12h1v6.5h-1z" fill="#548ad8"/>
<path d="M49 12h1v6.5h-1z" fill="#3072d2"/>
<path d="M70 12h1v6.5h-1z" fill="#5a90de"/>
<path d="M76 12h1v6.5h-1z" fill="#3078d2"/>
<path d="M82 12h1v6.5h-1z" fill="#4884d8"/>
<path d="M128 12h1v6.5h-1z" fill="#427ed8"/>
<path d="M139 12h1v6.5h-1zM149 12h1v6.5h-1z" fill="#3c78d8"/>
<path d="M159 12h1v6.5h-1z" fill="#4e8ad8"/>
<rect x="0" y="18" width="8" height="6.5" fill="#ffffff"/>
<rect x="9" y="18" width="23" height="6.5" fill="#ffffff"/>
<rect x="38" y="18" width="18" height="6.5" fill="#ffffff"/>
<rect x="62" y="18" width="36" height="6.5" fill="#ffffff"/>
<rect x="104" y="18" width="9" height="6.5" fill="#ffffff"/>
<rect x="115" y="18" width="10" height="6.5" fill="#ffffff"/>
<rect x="126" y="18" width="36" height="6.5" fill="#ffffff"/>
<path d="M8 18h1v6.5h-1z" fill="#d2def6"/>
<path d="M32 18h1v6.5h-1z" fill="#b4ccf0"/>
<path d="M33 18h4v6.5h-4zM57 18h4v6.5h-4zM99 18h4v6.5h-4z" fill="#ffffff"/>
<path d="M37 18h1v6.5h-1zM61 18h1v6.5h-1zM113 18h1v6.5h-1z" fill="#deeaf6"/>
<path d="M56 18h1v6.5h-1z" fill="#aeccf0"/>
<path d="M98 18h1v6.5h-1z" fill="#ccd8f6"/>
<path d="M103 18h1v6.5h-1z" fill="#bad2f0"/>
<path d="M114 18h1v6.5h-1z" fill="#c6d8f0"/>
<path d="M125 18h1v6.5h-1z" fill="#d2e4f6"/>
<rect x="0" y="24" width="32" height="6.5" fill="#0c5acc"/>
<rect x="37" y="24" width="10" height="6.5" fill="#0c5acc"/>
<rect x="48" y="24" width="54" height="6.5" fill="#0c5acc"/>
<rect x="103" y="24" width="7" height="6.5" fill="#0c5acc"/>
<rect x="111" y="24" width="33" height="6.5" fill="#0c5acc"/>
<rect x="145" y="24" width="17" height="6.5" fill="#0c5acc"/>
<path d="M32 24h1v6.5h-1zM36 24h1v6.5h-1z" fill="#427ed8"/>
<path d="M33 24h3v6.5h-3z" fill="#0c5acc"/>
<path d="M47 24h1v6.5h-1z" fill="#246cd2"/>
<path d="M102 24h1v6.5h-1z" fill="#3c78d8"/>
<path d="M110 24h1v6.5h-1z" fill="#3072d2"/>
<path d="M144 24h1v6.5h-1z" fill="#548ad8"/>
<rect x="9" y="30" width="9" height="6.5" fill="#ffa6d3"/>
<path d="M0 30h1v6.5h-1z" fill="#5490de"/>
<path d="M1 30h1v6.5h-1z" fill="#3678d8"/>
<path d="M2 30h1v6.5h-1z" fill="#246cd2"/>
<path d="M3 30h1v6.5h-1z" fill="#2a6cd2"/>
<path d="M4 30h1v6.5h-1z" fill="#427ed8"/>
<path d="M5 30h3v6.5h-3zM19 30h1v6.5h-1zM21 30h1v6.5h-1zM23 30h1v6.5h-1zM25 30h1v6.5h-1zM28 30h1v6.5h-1zM30 30h1v6.5h-1zM33 30h1v6.5h-1zM35 30h2v6.5h-2zM38 30h5v6.5h-5zM46 30h1v6.5h-1zM49 30h1v6.5h-1zM51 30h1v6.5h-1zM57 30h2v6.5h-2zM60 30h1v6.5h-1z" fill="#ffffff"/>
<path d="M8 30h1v6.5h-1zM61 30h1v6.5h-1z" fill="#fcc0de"/>
<path d="M18 30h1v6.5h-1zM32 30h1v6.5h-1z" fill="#96c0f0"/>
<path d="M20 30h1v6.5h-1zM45 30h1v6.5h-1zM48 30h1v6.5h-1z" fill="#90c0f0"/>
<path d="M22 30h1v6.5h-1zM37 30h1v6.5h-1zM54 30h1v6.5h-1z" fill="#aeccf0"/>
<path d="M24 30h1v6.5h-1zM52 30h2v6.5h-2z" fill="#c6def6"/>
<path d="M26 30h1v6.5h-1zM34 30h1v6.5h-1zM47 30h1v6.5h-1z" fill="#bad8f6"/>
<path d="M27 30h1v6.5h-1zM44 30h1v6.5h-1z" fill="#d2e4f6"/>
<path d="M29 30h1v6.5h-1z" fill="#c0d8f6"/>
<path d="M31 30h1v6.5h-1z" fill="#c0def6"/>
<path d="M43 30h1v6.5h-1zM55 30h1v6.5h-1z" fill="#a8ccf0"/>
<path d="M50 30h1v6.5h-1z" fill="#b4d2f0"/>
<path d="M56 30h1v6.5h-1z" fill="#9cc0f0"/>
<path d="M59 30h1v6.5h-1z" fill="#9cc6f0"/>
<path d="M62 30h1v6.5h-1zM87 30h1v6.5h-1zM101 30h1v6.5h-1zM108 30h1v6.5h-1zM144 30h1v6.5h-1z" fill="#fceaf6"/>
<path d="M63 30h1v6.5h-1zM66 30h3v6.5h-3zM70 30h1v6.5h-1zM72 30h5v6.5h-5zM78 30h1v6.5h-1zM80 30h2v6.5h-2zM83 30h1v6.5h-1zM85 30h2v6.5h-2zM89 30h1v6.5h-1zM93 30h1v6.5h-1zM95 30h1v6.5h-1zM97 30h1v6.5h-1zM99 30h2v6.5h-2zM104 30h1v6.5h-1zM109 30h4v6.5h-4zM116 30h3v6.5h-3zM120 30h2v6.5h-2zM123 30h1v6.5h-1zM125 30h2v6.5h-2zM129 30h3v6.5h-3zM134 30h2v6.5h-2zM138 30h3v6.5h-3zM143 30h1v6.5h-1zM146 30h1v6.5h-1zM148 30h1v6.5h-1zM150 30h2v6.5h-2zM153 30h2v6.5h-2zM156 30h1v6.5h-1zM158 30h2v6.5h-2z" fill="#ffa6d3"/>
<path d="M64 30h1v6.5h-1zM90 30h1v6.5h-1zM105 30h1v6.5h-1zM142 30h1v6.5h-1z" fill="#fccce4"/>
<path d="M65 30h1v6.5h-1zM79 30h1v6.5h-1zM92 30h1v6.5h-1zM107 30h1v6.5h-1zM124 30h1v6.5h-1zM145 30h1v6.5h-1z" fill="#fcc6e4"/>
<path d="M69 30h1v6.5h-1zM71 30h1v6.5h-1zM84 30h1v6.5h-1zM96 30h1v6.5h-1zM152 30h1v6.5h-1z" fill="#fcf0f6"/>
<path d="M77 30h1v6.5h-1zM113 30h1v6.5h-1zM115 30h1v6.5h-1zM119 30h1v6.5h-1zM127 30h1v6.5h-1zM149 30h1v6.5h-1zM157 30h1v6.5h-1z" fill="#fce4f0"/>
<path d="M82 30h1v6.5h-1zM91 30h1v6.5h-1z" fill="#fcc0e4"/>
<path d="M88 30h1v6.5h-1zM102 30h1v6.5h-1z" fill="#fcd8ea"/>
<path d="M94 30h1v6.5h-1zM114 30h1v6.5h-1z" fill="#fcf6fc"/>
<path d="M98 30h1v6.5h-1zM141 30h1v6.5h-1z" fill="#fcd8f0"/>
<path d="M103 30h1v6.5h-1zM106 30h1v6.5h-1zM147 30h1v6.5h-1zM155 30h1v6.5h-1z" fill="#fcd2ea"/>
<path d="M122 30h1v6.5h-1z" fill="#fceaf0"/>
<path d="M128 30h1v6.5h-1zM132 30h2v6.5h-2zM136 30h2v6.5h-2z" fill="#fcdef0"/>
<path d="M160 30h2v6.5h-2z" fill="#fcf0fc"/>
<rect x="9" y="36" width="9" height="6.5" fill="#f20482"/>
<rect x="18" y="36" width="11" height="6.5" fill="#ffffff"/>
<rect x="33" y="36" width="16" height="6.5" fill="#ffffff"/>
<rect x="50" y="36" width="9" height="6.5" fill="#ffffff"/>
<rect x="136" y="36" width="8" height="6.5" fill="#f20482"/>
<path d="M0 36h1v6.5h-1zM2 36h1v6.5h-1zM77 36h1v6.5h-1zM98 36h1v6.5h-1zM102 36h1v6.5h-1zM112 36h1v6.5h-1zM152 36h1v6.5h-1z" fill="#fcd8ea"/>
<path d="M1 36h1v6.5h-1zM67 36h1v6.5h-1zM93 36h1v6.5h-1zM97 36h1v6.5h-1zM103 36h1v6.5h-1zM144 36h1v6.5h-1z" fill="#fcd2ea"/>
<path d="M3 36h1v6.5h-1z" fill="#fcc0e4"/>
<path d="M4 36h1v6.5h-1zM76 36h1v6.5h-1zM110 36h1v6.5h-1zM160 36h2v6.5h-2z" fill="#fcd8f0"/>
<path d="M5 36h1v6.5h-1zM8 36h1v6.5h-1zM122 36h3v6.5h-3zM154 36h1v6.5h-1z" fill="#fccce4"/>
<path d="M6 36h1v6.5h-1zM62 36h1v6.5h-1zM87 36h1v6.5h-1zM99 36h1v6.5h-1zM117 36h1v6.5h-1zM119 36h1v6.5h-1zM149 36h1v6.5h-1z" fill="#fce4f0"/>
<path d="M7 36h1v6.5h-1z" fill="#fcc6e4"/>
<path d="M29 36h1v6.5h-1zM32 36h1v6.5h-1zM59 36h1v6.5h-1zM70 36h1v6.5h-1zM79 36h1v6.5h-1zM84 36h1v6.5h-1zM91 36h1v6.5h-1zM125 36h2v6.5h-2z" fill="#fcf0f6"/>
<path d="M30 36h2v6.5h-2zM60 36h1v6.5h-1zM113 36h1v6.5h-1z" fill="#ffffff"/>
<path d="M49 36h1v6.5h-1zM71 36h1v6.5h-1z" fill="#fcf0fc"/>
<path d="M61 36h1v6.5h-1zM63 36h4v6.5h-4zM68 36h1v6.5h-1zM72 36h4v6.5h-4zM78 36h1v6.5h-1zM80 36h2v6.5h-2zM83 36h1v6.5h-1zM85 36h1v6.5h-1zM89 36h2v6.5h-2zM92 36h1v6.5h-1zM95 36h1v6.5h-1zM100 36h1v6.5h-1zM108 36h2v6.5h-2zM114 36h3v6.5h-3zM118 36h1v6.5h-1zM120 36h2v6.5h-2zM128 36h2v6.5h-2zM131 36h2v6.5h-2zM134 36h2v6.5h-2zM145 36h2v6.5h-2zM151 36h1v6.5h-1zM153 36h1v6.5h-1zM155 36h5v6.5h-5z" fill="#ffa6d3"/>
<path d="M69 36h1v6.5h-1zM88 36h1v6.5h-1zM127 36h1v6.5h-1zM133 36h1v6.5h-1z" fill="#fcf6fc"/>
<path d="M82 36h1v6.5h-1zM86 36h1v6.5h-1zM106 36h1v6.5h-1zM111 36h1v6.5h-1zM147 36h1v6.5h-1z" fill="#fceaf6"/>
<path d="M94 36h1v6.5h-1zM104 36h2v6.5h-2zM148 36h1v6.5h-1z" fill="#fcfcfc"/>
<path d="M96 36h1v6.5h-1zM101 36h1v6.5h-1zM107 36h1v6.5h-1zM130 36h1v6.5h-1zM150 36h1v6.5h-1z" fill="#fcdef0"/>
<rect x="9" y="42" width="9" height="6.5" fill="#f20482"/>
<rect x="136" y="42" width="9" height="6.5" fill="#f20482"/>
<path d="M0 42h1v6.5h-1zM5 42h1v6.5h-1zM33 42h1v6.5h-1zM67 42h1v6.5h-1z" fill="#fcd8ea"/>
<path d="M1 42h1v6.5h-1zM22 42h1v6.5h-1zM72 42h1v6.5h-1zM108 42h1v6.5h-1zM127 42h1v6.5h-1z" fill="#fce4f0"/>
<path d="M2 42h1v6.5h-1zM124 42h1v6.5h-1z" fill="#fcdef0"/>
<path d="M3 42h1v6.5h-1zM6 42h1v6.5h-1zM43 42h1v6.5h-1zM51 42h1v6.5h-1zM106 42h1v6.5h-1z" fill="#fccce4"/>
<path d="M4 42h1v6.5h-1z" fill="#fcd8f0"/>
<path d="M7 42h1v6.5h-1zM101 42h1v6.5h-1zM125 42h1v6.5h-1zM133 42h1v6.5h-1z" fill="#fcd2ea"/>
<path d="M8 42h1v6.5h-1zM19 42h1v6.5h-1zM41 42h1v6.5h-1zM44 42h1v6.5h-1zM123 42h1v6.5h-1z" fill="#fcc6e4"/>
<path d="M18 42h1v6.5h-1z" fill="#fc8ac6"/>
<path d="M20 42h1v6.5h-1zM56 42h1v6.5h-1zM94 42h2v6.5h-2zM98 42h1v6.5h-1z" fill="#fc9ccc"/>
<path d="M21 42h1v6.5h-1zM75 42h1v6.5h-1z" fill="#fcfcfc"/>
<path d="M23 42h1v6.5h-1z" fill="#f660b4"/>
<path d="M24 42h1v6.5h-1z" fill="#f61e90"/>
<path d="M25 42h1v6.5h-1zM39 42h1v6.5h-1zM42 42h1v6.5h-1zM49 42h2v6.5h-2zM57 42h1v6.5h-1zM68 42h1v6.5h-1zM73 42h1v6.5h-1zM83 42h2v6.5h-2zM88 42h1v6.5h-1zM91 42h1v6.5h-1zM93 42h1v6.5h-1zM99 42h1v6.5h-1zM104 42h1v6.5h-1zM109 42h1v6.5h-1zM116 42h3v6.5h-3zM130 42h2v6.5h-2zM145 42h2v6.5h-2zM151 42h1v6.5h-1zM153 42h1v6.5h-1z" fill="#ffa6d3"/>
<path d="M26 42h1v6.5h-1z" fill="#f678ba"/>
<path d="M27 42h1v6.5h-1zM105 42h1v6.5h-1z" fill="#f00684"/>
<path d="M28 42h1v6.5h-1z" fill="#fc96cc"/>
<path d="M29 42h1v6.5h-1z" fill="#f62496"/>
<path d="M30 42h1v6.5h-1zM32 42h1v6.5h-1zM34 42h1v6.5h-1zM36 42h2v6.5h-2zM54 42h1v6.5h-1zM92 42h1v6.5h-1zM96 42h1v6.5h-1zM110 42h2v6.5h-2z" fill="#ffffff"/>
<path d="M31 42h1v6.5h-1zM80 42h1v6.5h-1zM82 42h1v6.5h-1zM113 42h1v6.5h-1z" fill="#f648a2"/>
<path d="M35 42h1v6.5h-1zM70 42h1v6.5h-1zM79 42h1v6.5h-1z" fill="#fc72ba"/>
<path d="M38 42h1v6.5h-1zM40 42h1v6.5h-1zM100 42h1v6.5h-1zM107 42h1v6.5h-1zM148 42h1v6.5h-1z" fill="#fceaf6"/>
<path d="M45 42h1v6.5h-1z" fill="#f6369c"/>
<path d="M46 42h1v6.5h-1zM55 42h1v6.5h-1zM62 42h2v6.5h-2zM81 42h1v6.5h-1zM86 42h1v6.5h-1zM119 42h1v6.5h-1zM129 42h1v6.5h-1zM150 42h1v6.5h-1zM152 42h1v6.5h-1z" fill="#f20482"/>
<path d="M47 42h1v6.5h-1z" fill="#fc6cb4"/>
<path d="M48 42h1v6.5h-1zM71 42h1v6.5h-1zM114 42h1v6.5h-1z" fill="#f63c9c"/>
<path d="M52 42h1v6.5h-1zM115 42h1v6.5h-1z" fill="#fcf0fc"/>
<path d="M53 42h1v6.5h-1z" fill="#f654a8"/>
<path d="M58 42h1v6.5h-1zM132 42h1v6.5h-1zM134 42h1v6.5h-1z" fill="#f64ea8"/>
<path d="M59 42h1v6.5h-1zM65 42h1v6.5h-1zM74 42h1v6.5h-1z" fill="#fcb4d8"/>
<path d="M60 42h1v6.5h-1zM157 42h1v6.5h-1z" fill="#fcaed8"/>
<path d="M61 42h1v6.5h-1z" fill="#f62a96"/>
<path d="M64 42h1v6.5h-1zM149 42h1v6.5h-1z" fill="#fcf6fc"/>
<path d="M66 42h1v6.5h-1z" fill="#fc66b4"/>
<path d="M69 42h1v6.5h-1zM97 42h1v6.5h-1z" fill="#fc78ba"/>
<path d="M76 42h1v6.5h-1zM154 42h1v6.5h-1z" fill="#f648a8"/>
<path d="M77 42h1v6.5h-1zM121 42h1v6.5h-1z" fill="#f642a2"/>
<path d="M78 42h1v6.5h-1z" fill="#fc54a8"/>
<path d="M85 42h1v6.5h-1zM120 42h1v6.5h-1zM156 42h1v6.5h-1z" fill="#f00c84"/>
<path d="M87 42h1v6.5h-1zM89 42h1v6.5h-1zM135 42h1v6.5h-1zM159 42h1v6.5h-1z" fill="#f0128a"/>
<path d="M90 42h1v6.5h-1z" fill="#f672ba"/>
<path d="M102 42h1v6.5h-1zM128 42h1v6.5h-1z" fill="#fc84c0"/>
<path d="M103 42h1v6.5h-1z" fill="#f0188a"/>
<path d="M112 42h1v6.5h-1z" fill="#fcbade"/>
<path d="M122 42h1v6.5h-1z" fill="#fc5aae"/>
<path d="M126 42h1v6.5h-1z" fill="#fcc0e4"/>
<path d="M147 42h1v6.5h-1z" fill="#fcf0f6"/>
<path d="M155 42h1v6.5h-1z" fill="#f67ec0"/>
<path d="M158 42h1v6.5h-1z" fill="#fc78c0"/>
<path d="M160 42h2v6.5h-2z" fill="#f6188a"/>
<rect x="23" y="48" width="7" height="6.5" fill="#f20482"/>
<rect x="32" y="48" width="10" height="6.5" fill="#f20482"/>
<rect x="43" y="48" width="14" height="6.5" fill="#f20482"/>
<rect x="61" y="48" width="21" height="6.5" fill="#f20482"/>
<rect x="83" y="48" width="7" height="6.5" fill="#f20482"/>
<rect x="91" y="48" width="13" height="6.5" fill="#f20482"/>
<rect x="117" y="48" width="8" height="6.5" fill="#f20482"/>
<rect x="142" y="48" width="20" height="6.5" fill="#f20482"/>
<path d="M0 48h1v6.5h-1zM3 48h1v6.5h-1z" fill="#62b0f6"/>
<path d="M1 48h1v6.5h-1zM6 48h3v6.5h-3z" fill="#ffa6d3"/>
<path d="M2 48h1v6.5h-1z" fill="#cca8de"/>
<path d="M4 48h1v6.5h-1z" fill="#b4a8e4"/>
<path d="M5 48h1v6.5h-1z" fill="#7eaeea"/>
<path d="M9 48h2v6.5h-2zM12 48h3v6.5h-3zM17 48h2v6.5h-2zM20 48h2v6.5h-2zM58 48h2v6.5h-2zM105 48h2v6.5h-2zM108 48h3v6.5h-3zM112 48h3v6.5h-3zM126 48h4v6.5h-4zM131 48h4v6.5h-4zM136 48h5v6.5h-5z" fill="#f20482"/>
<path d="M11 48h1v6.5h-1zM15 48h2v6.5h-2z" fill="#b43090"/>
<path d="M19 48h1v6.5h-1zM42 48h1v6.5h-1z" fill="#e40c84"/>
<path d="M22 48h1v6.5h-1zM130 48h1v6.5h-1z" fill="#d8188a"/>
<path d="M30 48h1v6.5h-1zM115 48h1v6.5h-1z" fill="#d81884"/>
<path d="M31 48h1v6.5h-1z" fill="#cc1e8a"/>
<path d="M57 48h1v6.5h-1zM60 48h1v6.5h-1zM90 48h1v6.5h-1zM111 48h1v6.5h-1z" fill="#d21e8a"/>
<path d="M82 48h1v6.5h-1z" fill="#de1284"/>
<path d="M104 48h1v6.5h-1zM125 48h1v6.5h-1zM135 48h1v6.5h-1z" fill="#e41284"/>
<path d="M107 48h1v6.5h-1z" fill="#fcc0de"/>
<path d="M116 48h1v6.5h-1zM141 48h1v6.5h-1z" fill="#d2188a"/>
<rect x="10" y="54" width="14" height="6.5" fill="#f20482"/>
<rect x="25" y="54" width="7" height="6.5" fill="#f20482"/>
<rect x="39" y="54" width="8" height="6.5" fill="#f20482"/>
<rect x="50" y="54" width="17" height="6.5" fill="#f20482"/>
<rect x="73" y="54" width="6" height="6.5" fill="#f20482"/>
<rect x="80" y="54" width="19" height="6.5" fill="#f20482"/>
<rect x="100" y="54" width="7" height="6.5" fill="#f20482"/>
<rect x="113" y="54" width="24" height="6.5" fill="#f20482"/>
<rect x="138" y="54" width="7" height="6.5" fill="#f20482"/>
<rect x="153" y="54" width="9" height="6.5" fill="#f20482"/>
<path d="M0 54h1v6.5h-1z" fill="#fce4f0"/>
<path d="M1 54h1v6.5h-1zM7 54h1v6.5h-1z" fill="#fcdef0"/>
<path d="M2 54h1v6.5h-1z" fill="#fccce4"/>
<path d="M3 54h2v6.5h-2zM8 54h1v6.5h-1z" fill="#fcc6e4"/>
<path d="M5 54h1v6.5h-1z" fill="#ffffff"/>
<path d="M6 54h1v6.5h-1z" fill="#fcd2ea"/>
<path d="M9 54h1v6.5h-1zM72 54h1v6.5h-1z" fill="#e41284"/>
<path d="M24 54h1v6.5h-1zM49 54h1v6.5h-1zM99 54h1v6.5h-1zM112 54h1v6.5h-1zM137 54h1v6.5h-1zM152 54h1v6.5h-1z" fill="#de1284"/>
<path d="M32 54h1v6.5h-1z" fill="#d21e8a"/>
<path d="M33 54h5v6.5h-5zM48 54h1v6.5h-1zM68 54h4v6.5h-4zM108 54h4v6.5h-4zM146 54h2v6.5h-2zM149 54h3v6.5h-3z" fill="#f20482"/>
<path d="M38 54h1v6.5h-1z" fill="#d81884"/>
<path d="M47 54h1v6.5h-1z" fill="#de1884"/>
<path d="M67 54h1v6.5h-1zM148 54h1v6.5h-1z" fill="#d2188a"/>
<path d="M79 54h1v6.5h-1zM145 54h1v6.5h-1z" fill="#e40c84"/>
<path d="M107 54h1v6.5h-1z" fill="#fcc0de"/>
<rect x="22" y="60" width="6" height="6.5" fill="#f20482"/>
<rect x="34" y="60" width="7" height="6.5" fill="#f20482"/>
<path d="M0 60h1v6.5h-1z" fill="#fcf6fc"/>
<path d="M1 60h1v6.5h-1z" fill="#f6f0f6"/>
<path d="M2 60h1v6.5h-1z" fill="#fca8d2"/>
<path d="M3 60h1v6.5h-1z" fill="#fcf0f6"/>
<path d="M4 60h1v6.5h-1z" fill="#eaa8d2"/>
<path d="M5 60h2v6.5h-2z" fill="#fcb4d8"/>
<path d="M7 60h1v6.5h-1z" fill="#ffa6d3"/>
<path d="M8 60h1v6.5h-1z" fill="#dec0e4"/>
<path d="M9 60h1v6.5h-1zM11 60h1v6.5h-1zM14 60h2v6.5h-2z" fill="#309c9c"/>
<path d="M10 60h1v6.5h-1z" fill="#a8d2d2"/>
<path d="M12 60h1v6.5h-1z" fill="#b4d8d8"/>
<path d="M13 60h1v6.5h-1z" fill="#9ccccc"/>
<path d="M16 60h1v6.5h-1z" fill="#d8eaea"/>
<path d="M17 60h1v6.5h-1z" fill="#c6e4e4"/>
<path d="M18 60h1v6.5h-1zM21 60h1v6.5h-1zM75 60h1v6.5h-1zM158 60h1v6.5h-1z" fill="#f6369c"/>
<path d="M19 60h2v6.5h-2zM29 60h1v6.5h-1zM31 60h2v6.5h-2zM44 60h3v6.5h-3zM49 60h4v6.5h-4zM56 60h1v6.5h-1zM59 60h3v6.5h-3zM67 60h1v6.5h-1zM69 60h2v6.5h-2zM72 60h3v6.5h-3zM76 60h1v6.5h-1zM79 60h1v6.5h-1zM81 60h5v6.5h-5zM87 60h2v6.5h-2zM90 60h1v6.5h-1zM92 60h2v6.5h-2zM95 60h5v6.5h-5zM102 60h5v6.5h-5zM112 60h1v6.5h-1zM116 60h1v6.5h-1zM118 60h5v6.5h-5zM124 60h4v6.5h-4zM131 60h1v6.5h-1zM133 60h2v6.5h-2zM136 60h1v6.5h-1zM143 60h4v6.5h-4zM148 60h1v6.5h-1zM153 60h1v6.5h-1zM155 60h3v6.5h-3zM159 60h3v6.5h-3z" fill="#f20482"/>
<path d="M28 60h1v6.5h-1zM65 60h1v6.5h-1zM117 60h1v6.5h-1zM129 60h1v6.5h-1zM135 60h1v6.5h-1z" fill="#fc60ae"/>
<path d="M30 60h1v6.5h-1zM43 60h1v6.5h-1zM109 60h1v6.5h-1zM150 60h1v6.5h-1zM154 60h1v6.5h-1z" fill="#f6309c"/>
<path d="M33 60h1v6.5h-1zM66 60h1v6.5h-1zM80 60h1v6.5h-1zM113 60h1v6.5h-1zM115 60h1v6.5h-1z" fill="#f63c9c"/>
<path d="M41 60h2v6.5h-2zM53 60h2v6.5h-2zM58 60h1v6.5h-1zM94 60h1v6.5h-1zM108 60h1v6.5h-1zM110 60h1v6.5h-1zM151 60h1v6.5h-1z" fill="#f648a2"/>
<path d="M47 60h1v6.5h-1zM77 60h1v6.5h-1zM132 60h1v6.5h-1z" fill="#fc66b4"/>
<path d="M48 60h1v6.5h-1zM91 60h1v6.5h-1zM128 60h1v6.5h-1z" fill="#f648a8"/>
<path d="M55 60h1v6.5h-1zM100 60h1v6.5h-1zM152 60h1v6.5h-1z" fill="#fc5aae"/>
<path d="M57 60h1v6.5h-1zM63 60h1v6.5h-1z" fill="#f63096"/>
<path d="M62 60h1v6.5h-1zM130 60h1v6.5h-1z" fill="#f64ea8"/>
<path d="M64 60h1v6.5h-1z" fill="#fc54a8"/>
<path d="M68 60h1v6.5h-1zM111 60h1v6.5h-1zM114 60h1v6.5h-1zM149 60h1v6.5h-1z" fill="#f642a2"/>
<path d="M71 60h1v6.5h-1zM78 60h1v6.5h-1zM123 60h1v6.5h-1z" fill="#f62a96"/>
<path d="M86 60h1v6.5h-1zM101 60h1v6.5h-1z" fill="#fc60b4"/>
<path d="M89 60h1v6.5h-1z" fill="#f654a8"/>
<path d="M107 60h1v6.5h-1z" fill="#fccce4"/>
<path d="M137 60h1v6.5h-1zM140 60h3v6.5h-3z" fill="#3c9c9c"/>
<path d="M138 60h1v6.5h-1z" fill="#6c6c9c"/>
<path d="M139 60h1v6.5h-1z" fill="#60789c"/>
<path d="M147 60h1v6.5h-1z" fill="#f62490"/>
<rect x="19" y="66" width="8" height="6.5" fill="#f20482"/>
<rect x="28" y="66" width="12" height="6.5" fill="#f20482"/>
<rect x="43" y="66" width="7" height="6.5" fill="#f20482"/>
<rect x="51" y="66" width="13" height="6.5" fill="#f20482"/>
<rect x="65" y="66" width="6" height="6.5" fill="#f20482"/>
<rect x="78" y="66" width="12" height="6.5" fill="#f20482"/>
<rect x="91" y="66" width="7" height="6.5" fill="#f20482"/>
<rect x="108" y="66" width="7" height="6.5" fill="#f20482"/>
<rect x="142" y="66" width="14" height="6.5" fill="#f20482"/>
<path d="M0 66h1v6.5h-1zM2 66h2v6.5h-2z" fill="#fcd8ea"/>
<path d="M1 66h1v6.5h-1zM5 66h2v6.5h-2z" fill="#ffffff"/>
<path d="M4 66h1v6.5h-1z" fill="#fcc0e4"/>
<path d="M7 66h1v6.5h-1z" fill="#fce4f0"/>
<path d="M8 66h1v6.5h-1z" fill="#fcdef0"/>
<path d="M9 66h1v6.5h-1zM11 66h1v6.5h-1z" fill="#76609c"/>
<path d="M10 66h1v6.5h-1z" fill="#c09ccc"/>
<path d="M12 66h1v6.5h-1z" fill="#546084"/>
<path d="M13 66h1v6.5h-1z" fill="#a2a2c0"/>
<path d="M14 66h1v6.5h-1z" fill="#ba3090"/>
<path d="M15 66h1v6.5h-1z" fill="#9c3684"/>
<path d="M16 66h1v6.5h-1z" fill="#7e66a2"/>
<path d="M17 66h1v6.5h-1z" fill="#069684"/>
<path d="M18 66h1v6.5h-1zM77 66h1v6.5h-1zM160 66h2v6.5h-2z" fill="#fc5aae"/>
<path d="M27 66h1v6.5h-1z" fill="#f64ea8"/>
<path d="M40 66h1v6.5h-1zM50 66h1v6.5h-1z" fill="#f62a96"/>
<path d="M41 66h1v6.5h-1zM72 66h5v6.5h-5zM101 66h2v6.5h-2zM104 66h3v6.5h-3zM116 66h5v6.5h-5zM122 66h5v6.5h-5zM128 66h5v6.5h-5zM134 66h4v6.5h-4zM139 66h1v6.5h-1zM157 66h3v6.5h-3z" fill="#f20482"/>
<path d="M42 66h1v6.5h-1z" fill="#fc54a8"/>
<path d="M64 66h1v6.5h-1zM99 66h2v6.5h-2z" fill="#f63c9c"/>
<path d="M71 66h1v6.5h-1z" fill="#f648a8"/>
<path d="M90 66h1v6.5h-1zM141 66h1v6.5h-1z" fill="#f642a2"/>
<path d="M98 66h1v6.5h-1z" fill="#f63096"/>
<path d="M103 66h1v6.5h-1zM121 66h1v6.5h-1z" fill="#f648a2"/>
<path d="M107 66h1v6.5h-1z" fill="#fcc0de"/>
<path d="M115 66h1v6.5h-1zM133 66h1v6.5h-1z" fill="#fc60b4"/>
<path d="M127 66h1v6.5h-1z" fill="#f6369c"/>
<path d="M138 66h1v6.5h-1z" fill="#965a96"/>
<path d="M140 66h1v6.5h-1z" fill="#a83684"/>
<path d="M156 66h1v6.5h-1z" fill="#f654a8"/>
<rect x="24" y="72" width="23" height="6.5" fill="#f20482"/>
<rect x="48" y="72" width="19" height="6.5" fill="#f20482"/>
<rect x="71" y="72" width="8" height="6.5" fill="#f20482"/>
<rect x="89" y="72" width="15" height="6.5" fill="#f20482"/>
<rect x="108" y="72" width="25" height="6.5" fill="#f20482"/>
<rect x="146" y="72" width="7" height="6.5" fill="#f20482"/>
<rect x="155" y="72" width="7" height="6.5" fill="#f20482"/>
<path d="M0 72h1v6.5h-1zM7 72h1v6.5h-1z" fill="#ffffff"/>
<path d="M1 72h1v6.5h-1zM6 72h1v6.5h-1z" fill="#fcd8f0"/>
<path d="M2 72h1v6.5h-1zM4 72h1v6.5h-1z" fill="#fce4f0"/>
<path d="M3 72h1v6.5h-1z" fill="#fcd2ea"/>
<path d="M5 72h1v6.5h-1z" fill="#fcc6e4"/>
<path d="M8 72h1v6.5h-1z" fill="#fcdef0"/>
<path d="M9 72h1v6.5h-1zM12 72h1v6.5h-1zM15 72h1v6.5h-1z" fill="#76609c"/>
<path d="M10 72h1v6.5h-1z" fill="#3c9c9c"/>
<path d="M11 72h1v6.5h-1z" fill="#cda5d2"/>
<path d="M13 72h1v6.5h-1z" fill="#7e5a9c"/>
<path d="M14 72h1v6.5h-1z" fill="#2a9c96"/>
<path d="M16 72h1v6.5h-1z" fill="#307884"/>
<path d="M17 72h1v6.5h-1z" fill="#c09ccc"/>
<path d="M18 72h2v6.5h-2zM21 72h2v6.5h-2zM68 72h1v6.5h-1zM80 72h3v6.5h-3zM84 72h2v6.5h-2zM87 72h1v6.5h-1zM105 72h2v6.5h-2zM134 72h3v6.5h-3zM138 72h4v6.5h-4zM143 72h2v6.5h-2z" fill="#f20482"/>
<path d="M20 72h1v6.5h-1z" fill="#fc60ae"/>
<path d="M23 72h1v6.5h-1z" fill="#f648a8"/>
<path d="M47 72h1v6.5h-1zM79 72h1v6.5h-1zM83 72h1v6.5h-1zM86 72h1v6.5h-1z" fill="#f64ea8"/>
<path d="M67 72h1v6.5h-1zM133 72h1v6.5h-1z" fill="#f63096"/>
<path d="M69 72h1v6.5h-1z" fill="#f6369c"/>
<path d="M70 72h1v6.5h-1z" fill="#f6309c"/>
<path d="M88 72h1v6.5h-1zM154 72h1v6.5h-1z" fill="#f648a2"/>
<path d="M104 72h1v6.5h-1z" fill="#f654a8"/>
<path d="M107 72h1v6.5h-1z" fill="#fcc0de"/>
<path d="M137 72h1v6.5h-1z" fill="#b43084"/>
<path d="M142 72h1v6.5h-1z" fill="#f63ca2"/>
<path d="M145 72h1v6.5h-1z" fill="#fc5aae"/>
<path d="M153 72h1v6.5h-1z" fill="#f63c9c"/>
<rect x="0" y="78" width="15" height="6.5" fill="#ffffff"/>
<rect x="27" y="78" width="7" height="6.5" fill="#ffffff"/>
<rect x="35" y="78" width="16" height="6.5" fill="#ffffff"/>
<rect x="57" y="78" width="30" height="6.5" fill="#ffffff"/>
<rect x="88" y="78" width="13" height="6.5" fill="#ffffff"/>
<rect x="102" y="78" width="14" height="6.5" fill="#ffffff"/>
<rect x="117" y="78" width="11" height="6.5" fill="#ffffff"/>
<rect x="129" y="78" width="13" height="6.5" fill="#ffffff"/>
<rect x="143" y="78" width="10" height="6.5" fill="#ffffff"/>
<path d="M15 78h1v6.5h-1zM34 78h1v6.5h-1z" fill="#f0f6fc"/>
<path d="M16 78h5v6.5h-5zM22 78h1v6.5h-1zM25 78h1v6.5h-1zM52 78h4v6.5h-4zM154 78h5v6.5h-5zM160 78h2v6.5h-2z" fill="#ffffff"/>
<path d="M21 78h1v6.5h-1zM56 78h1v6.5h-1z" fill="#d8eafc"/>
<path d="M23 78h1v6.5h-1zM116 78h1v6.5h-1z" fill="#d2eafc"/>
<path d="M24 78h1v6.5h-1zM142 78h1v6.5h-1zM153 78h1v6.5h-1z" fill="#def0fc"/>
<path d="M26 78h1v6.5h-1zM51 78h1v6.5h-1zM101 78h1v6.5h-1zM128 78h1v6.5h-1z" fill="#cce4fc"/>
<path d="M87 78h1v6.5h-1z" fill="#eaf6fc"/>
<path d="M159 78h1v6.5h-1z" fill="#e4f0fc"/>
<rect x="0" y="84" width="35" height="6.5" fill="#0c5acc"/>
<rect x="36" y="84" width="37" height="6.5" fill="#0c5acc"/>
<rect x="74" y="84" width="27" height="6.5" fill="#0c5acc"/>
<rect x="102" y="84" width="24" height="6.5" fill="#0c5acc"/>
<rect x="127" y="84" width="35" height="6.5" fill="#0c5acc"/>
<path d="M35 84h1v6.5h-1z" fill="#3072d2"/>
<path d="M73 84h1v6.5h-1z" fill="#548ad8"/>
<path d="M101 84h1v6.5h-1z" fill="#427ed8"/>
<path d="M126 84h1v6.5h-1z" fill="#246cd2"/>
<rect x="26" y="90" width="7" height="6.5" fill="#ffffff"/>
<rect x="47" y="90" width="6" height="6.5" fill="#ffffff"/>
<rect x="65" y="90" width="9" height="6.5" fill="#ffffff"/>
<rect x="84" y="90" width="9" height="6.5" fill="#ffffff"/>
<rect x="120" y="90" width="8" height="6.5" fill="#ffffff"/>
<path d="M0 90h1v6.5h-1zM17 90h1v6.5h-1z" fill="#fcbade"/>
<path d="M1 90h1v6.5h-1zM4 90h2v6.5h-2zM10 90h1v6.5h-1zM15 90h1v6.5h-1zM20 90h2v6.5h-2zM23 90h2v6.5h-2zM34 90h2v6.5h-2zM39 90h3v6.5h-3zM43 90h2v6.5h-2zM54 90h1v6.5h-1zM56 90h4v6.5h-4zM61 90h2v6.5h-2zM75 90h1v6.5h-1zM77 90h2v6.5h-2zM80 90h1v6.5h-1zM82 90h1v6.5h-1zM95 90h3v6.5h-3zM99 90h3v6.5h-3zM103 90h5v6.5h-5zM113 90h4v6.5h-4zM118 90h1v6.5h-1zM130 90h1v6.5h-1zM132 90h1v6.5h-1zM134 90h4v6.5h-4zM140 90h3v6.5h-3zM145 90h1v6.5h-1zM147 90h1v6.5h-1zM149 90h2v6.5h-2zM152 90h2v6.5h-2zM155 90h2v6.5h-2zM158 90h4v6.5h-4z" fill="#ffffff"/>
<path d="M2 90h1v6.5h-1zM16 90h1v6.5h-1z" fill="#fccce4"/>
<path d="M3 90h1v6.5h-1zM11 90h1v6.5h-1z" fill="#fcc6e4"/>
<path d="M6 90h1v6.5h-1zM45 90h1v6.5h-1zM53 90h1v6.5h-1zM55 90h1v6.5h-1zM60 90h1v6.5h-1zM63 90h1v6.5h-1zM108 90h1v6.5h-1zM117 90h1v6.5h-1zM144 90h1v6.5h-1zM148 90h1v6.5h-1z" fill="#fcd8ea"/>
<path d="M7 90h1v6.5h-1zM12 90h1v6.5h-1z" fill="#fcc0e4"/>
<path d="M8 90h1v6.5h-1zM13 90h1v6.5h-1z" fill="#fcd2ea"/>
<path d="M9 90h1v6.5h-1zM14 90h1v6.5h-1zM18 90h1v6.5h-1z" fill="#fcc0de"/>
<path d="M19 90h1v6.5h-1zM22 90h1v6.5h-1zM37 90h1v6.5h-1zM64 90h1v6.5h-1zM76 90h1v6.5h-1zM83 90h1v6.5h-1zM93 90h2v6.5h-2zM151 90h1v6.5h-1z" fill="#fce4f0"/>
<path d="M25 90h1v6.5h-1zM128 90h1v6.5h-1z" fill="#d8eafc"/>
<path d="M33 90h1v6.5h-1zM129 90h1v6.5h-1zM138 90h1v6.5h-1z" fill="#fcf6fc"/>
<path d="M36 90h1v6.5h-1zM38 90h1v6.5h-1zM98 90h1v6.5h-1zM111 90h1v6.5h-1zM146 90h1v6.5h-1zM154 90h1v6.5h-1z" fill="#fcf0f6"/>
<path d="M42 90h1v6.5h-1zM79 90h1v6.5h-1zM119 90h1v6.5h-1z" fill="#fceaf6"/>
<path d="M46 90h1v6.5h-1z" fill="#deccea"/>
<path d="M74 90h1v6.5h-1z" fill="#c0d2f6"/>
<path d="M81 90h1v6.5h-1zM112 90h1v6.5h-1z" fill="#cce4fc"/>
<path d="M102 90h1v6.5h-1zM109 90h2v6.5h-2zM133 90h1v6.5h-1zM157 90h1v6.5h-1z" fill="#fcdef0"/>
<path d="M131 90h1v6.5h-1z" fill="#badefc"/>
<path d="M139 90h1v6.5h-1z" fill="#d8f0fc"/>
<path d="M143 90h1v6.5h-1z" fill="#fcf0fc"/>
<rect x="0" y="96" width="162" height="6.5" fill="#ffffff"/>
<rect x="0" y="102" width="21" height="6.5" fill="#0c5acc"/>
<rect x="22" y="102" width="14" height="6.5" fill="#0c5acc"/>
<rect x="38" y="102" width="35" height="6.5" fill="#0c5acc"/>
<rect x="74" y="102" width="15" height="6.5" fill="#0c5acc"/>
<rect x="95" y="102" width="46" height="6.5" fill="#0c5acc"/>
<rect x="142" y="102" width="20" height="6.5" fill="#0c5acc"/>
<path d="M21 102h1v6.5h-1z" fill="#548ad8"/>
<path d="M36 102h1v6.5h-1z" fill="#3678d8"/>
<path d="M37 102h1v6.5h-1z" fill="#4884d8"/>
<path d="M73 102h1v6.5h-1z" fill="#4e8ad8"/>
<path d="M89 102h1v6.5h-1z" fill="#3c78d8"/>
<path d="M90 102h4v6.5h-4z" fill="#0c5acc"/>
<path d="M94 102h1v6.5h-1z" fill="#2a6cd2"/>
<path d="M141 102h1v6.5h-1z" fill="#3072d2"/>
<rect x="0" y="108" width="49" height="6.5" fill="#0c5acc"/>
<rect x="50" y="108" width="44" height="6.5" fill="#0c5acc"/>
<rect x="95" y="108" width="14" height="6.5" fill="#0c5acc"/>
<rect x="112" y="108" width="6" height="6.5" fill="#0c5acc"/>
<rect x="122" y="108" width="40" height="6.5" fill="#0c5acc"/>
<path d="M49 108h1v6.5h-1zM118 108h1v6.5h-1z" fill="#2a72d2"/>
<path d="M94 108h1v6.5h-1z" fill="#3c7ed8"/>
<path d="M109 108h1v6.5h-1z" fill="#246cd2"/>
<path d="M110 108h1v6.5h-1zM120 108h1v6.5h-1z" fill="#0c5acc"/>
<path d="M111 108h1v6.5h-1zM119 108h1v6.5h-1z" fill="#3072d2"/>
<path d="M121 108h1v6.5h-1z" fill="#4e84d8"/>
<rect x="0" y="114" width="162" height="6" fill="#ffffff"/>
</g></g>
<g clip-path="url(#clipC)"><g filter="url(#soft)" transform="translate(51.00,183.30) scale(1.0000,1.0208)">
<rect x="0" y="0" width="162" height="6.5" fill="#ffffff"/>
<rect x="0" y="6" width="38" height="6.5" fill="#0c5acc"/>
<rect x="44" y="6" width="23" height="6.5" fill="#0c5acc"/>
<rect x="68" y="6" width="7" height="6.5" fill="#0c5acc"/>
<rect x="76" y="6" width="9" height="6.5" fill="#0c5acc"/>
<rect x="86" y="6" width="35" height="6.5" fill="#0c5acc"/>
<rect x="127" y="6" width="11" height="6.5" fill="#0c5acc"/>
<rect x="139" y="6" width="20" height="6.5" fill="#0c5acc"/>
<path d="M38 6h1v6.5h-1zM67 6h1v6.5h-1z" fill="#3c78d8"/>
<path d="M39 6h4v6.5h-4zM122 6h4v6.5h-4zM160 6h2v6.5h-2z" fill="#0c5acc"/>
<path d="M43 6h1v6.5h-1z" fill="#4e84d8"/>
<path d="M75 6h1v6.5h-1zM159 6h1v6.5h-1z" fill="#246cd2"/>
<path d="M85 6h1v6.5h-1z" fill="#3678d8"/>
<path d="M121 6h1v6.5h-1z" fill="#548ad8"/>
<path d="M126 6h1v6.5h-1z" fill="#2466d2"/>
<path d="M138 6h1v6.5h-1z" fill="#1e66d2"/>
<rect x="10" y="12" width="8" height="6.5" fill="#0c5acc"/>
<rect x="25" y="12" width="15" height="6.5" fill="#0c5acc"/>
<rect x="55" y="12" width="33" height="6.5" fill="#0c5acc"/>
<rect x="89" y="12" width="13" height="6.5" fill="#0c5acc"/>
<rect x="104" y="12" width="7" height="6.5" fill="#0c5acc"/>
<rect x="118" y="12" width="14" height="6.5" fill="#0c5acc"/>
<rect x="133" y="12" width="14" height="6.5" fill="#0c5acc"/>
<rect x="148" y="12" width="10" height="6.5" fill="#0c5acc"/>
<path d="M0 12h4v6.5h-4zM5 12h4v6.5h-4zM19 12h5v6.5h-5zM41 12h2v6.5h-2zM44 12h5v6.5h-5zM50 12h4v6.5h-4zM112 12h5v6.5h-5zM159 12h3v6.5h-3z" fill="#0c5acc"/>
<path d="M4 12h1v6.5h-1zM117 12h1v6.5h-1z" fill="#3c78d8"/>
<path d="M9 12h1v6.5h-1zM43 12h1v6.5h-1z" fill="#2a6cd2"/>
<path d="M18 12h1v6.5h-1zM88 12h1v6.5h-1z" fill="#3072d2"/>
<path d="M24 12h1v6.5h-1zM147 12h1v6.5h-1zM158 12h1v6.5h-1z" fill="#427ed8"/>
<path d="M40 12h1v6.5h-1z" fill="#4e84d8"/>
<path d="M49 12h1v6.5h-1z" fill="#246cd2"/>
<path d="M54 12h1v6.5h-1z" fill="#548ad8"/>
<path d="M102 12h1v6.5h-1z" fill="#4884d8"/>
<path d="M103 12h1v6.5h-1z" fill="#3678d8"/>
<path d="M111 12h1v6.5h-1z" fill="#1e66d2"/>
<path d="M132 12h1v6.5h-1z" fill="#3c7ed8"/>
<rect x="0" y="18" width="44" height="6.5" fill="#ffffff"/>
<rect x="45" y="18" width="22" height="6.5" fill="#ffffff"/>
<rect x="70" y="18" width="56" height="6.5" fill="#ffffff"/>
<rect x="127" y="18" width="10" height="6.5" fill="#ffffff"/>
<rect x="138" y="18" width="19" height="6.5" fill="#ffffff"/>
<path d="M44 18h1v6.5h-1z" fill="#d8e4f6"/>
<path d="M67 18h1v6.5h-1z" fill="#aeccf0"/>
<path d="M68 18h1v6.5h-1zM158 18h4v6.5h-4z" fill="#ffffff"/>
<path d="M69 18h1v6.5h-1z" fill="#c6d8f0"/>
<path d="M126 18h1v6.5h-1z" fill="#e4f0fc"/>
<path d="M137 18h1v6.5h-1z" fill="#ccd8f6"/>
<path d="M157 18h1v6.5h-1z" fill="#b4ccf0"/>
<rect x="0" y="24" width="9" height="6.5" fill="#0c5acc"/>
<rect x="10" y="24" width="30" height="6.5" fill="#0c5acc"/>
<rect x="43" y="24" width="30" height="6.5" fill="#0c5acc"/>
<rect x="74" y="24" width="55" height="6.5" fill="#0c5acc"/>
<rect x="130" y="24" width="13" height="6.5" fill="#0c5acc"/>
<rect x="144" y="24" width="18" height="6.5" fill="#0c5acc"/>
<path d="M9 24h1v6.5h-1z" fill="#427ed8"/>
<path d="M40 24h1v6.5h-1z" fill="#4e8ad8"/>
<path d="M41 24h1v6.5h-1z" fill="#0c5acc"/>
<path d="M42 24h1v6.5h-1z" fill="#246cd2"/>
<path d="M73 24h1v6.5h-1zM129 24h1v6.5h-1z" fill="#4884d8"/>
<path d="M143 24h1v6.5h-1z" fill="#3678d8"/>
<rect x="10" y="30" width="12" height="6.5" fill="#ffffff"/>
<rect x="31" y="30" width="7" height="6.5" fill="#ffffff"/>
<rect x="39" y="30" width="31" height="6.5" fill="#ffffff"/>
<path d="M0 30h1v6.5h-1z" fill="#5490de"/>
<path d="M1 30h1v6.5h-1z" fill="#3c7ed8"/>
<path d="M2 30h1v6.5h-1z" fill="#fcbade"/>
<path d="M3 30h1v6.5h-1zM6 30h3v6.5h-3zM23 30h2v6.5h-2zM26 30h4v6.5h-4zM71 30h5v6.5h-5zM77 30h1v6.5h-1zM80 30h2v6.5h-2zM83 30h5v6.5h-5zM89 30h3v6.5h-3zM93 30h3v6.5h-3zM97 30h1v6.5h-1zM102 30h1v6.5h-1zM104 30h3v6.5h-3zM108 30h1v6.5h-1zM111 30h1v6.5h-1zM113 30h2v6.5h-2zM117 30h1v6.5h-1zM119 30h2v6.5h-2zM122 30h2v6.5h-2zM126 30h1v6.5h-1zM128 30h2v6.5h-2zM131 30h1v6.5h-1zM133 30h2v6.5h-2zM139 30h1v6.5h-1zM145 30h2v6.5h-2zM151 30h1v6.5h-1zM153 30h2v6.5h-2z" fill="#ffffff"/>
<path d="M4 30h1v6.5h-1z" fill="#fccce4"/>
<path d="M5 30h1v6.5h-1z" fill="#fcd8ea"/>
<path d="M9 30h1v6.5h-1zM25 30h1v6.5h-1zM116 30h1v6.5h-1zM124 30h1v6.5h-1z" fill="#b4ccf0"/>
<path d="M22 30h1v6.5h-1z" fill="#dee4f6"/>
<path d="M30 30h1v6.5h-1zM149 30h1v6.5h-1zM158 30h1v6.5h-1z" fill="#c0d2f0"/>
<path d="M38 30h1v6.5h-1zM152 30h1v6.5h-1zM160 30h2v6.5h-2z" fill="#a8c0ea"/>
<path d="M70 30h1v6.5h-1z" fill="#d2def6"/>
<path d="M76 30h1v6.5h-1z" fill="#84a8e4"/>
<path d="M78 30h1v6.5h-1zM127 30h1v6.5h-1zM136 30h1v6.5h-1zM142 30h2v6.5h-2z" fill="#8aaee4"/>
<path d="M79 30h1v6.5h-1zM88 30h1v6.5h-1zM92 30h1v6.5h-1zM140 30h1v6.5h-1zM144 30h1v6.5h-1z" fill="#bad2f0"/>
<path d="M82 30h1v6.5h-1z" fill="#c6d8f0"/>
<path d="M96 30h1v6.5h-1zM147 30h1v6.5h-1z" fill="#ccdef6"/>
<path d="M98 30h1v6.5h-1z" fill="#deeaf6"/>
<path d="M99 30h1v6.5h-1zM115 30h1v6.5h-1zM137 30h1v6.5h-1z" fill="#aec6f0"/>
<path d="M100 30h1v6.5h-1z" fill="#90b4e4"/>
<path d="M101 30h1v6.5h-1z" fill="#90b4ea"/>
<path d="M103 30h1v6.5h-1z" fill="#6696de"/>
<path d="M107 30h1v6.5h-1z" fill="#6096de"/>
<path d="M109 30h1v6.5h-1z" fill="#6090de"/>
<path d="M110 30h1v6.5h-1z" fill="#baccf0"/>
<path d="M112 30h1v6.5h-1z" fill="#ccd8f6"/>
<path d="M118 30h1v6.5h-1zM138 30h1v6.5h-1z" fill="#d8e4f6"/>
<path d="M121 30h1v6.5h-1z" fill="#5a90de"/>
<path d="M125 30h1v6.5h-1zM130 30h1v6.5h-1z" fill="#9cbaea"/>
<path d="M132 30h1v6.5h-1z" fill="#4884d8"/>
<path d="M135 30h1v6.5h-1z" fill="#7ea8e4"/>
<path d="M141 30h1v6.5h-1z" fill="#6c9ce4"/>
<path d="M148 30h1v6.5h-1z" fill="#669cde"/>
<path d="M150 30h1v6.5h-1zM155 30h1v6.5h-1z" fill="#96b4ea"/>
<path d="M156 30h1v6.5h-1z" fill="#4e84d8"/>
<path d="M157 30h1v6.5h-1z" fill="#548ad8"/>
<path d="M159 30h1v6.5h-1z" fill="#aeccf0"/>
<rect x="0" y="36" width="6" height="6.5" fill="#ffa6d3"/>
<rect x="7" y="36" width="8" height="6.5" fill="#ffa6d3"/>
<rect x="19" y="36" width="29" height="6.5" fill="#ffa6d3"/>
<rect x="49" y="36" width="10" height="6.5" fill="#ffa6d3"/>
<rect x="67" y="36" width="15" height="6.5" fill="#ffa6d3"/>
<rect x="84" y="36" width="15" height="6.5" fill="#ffa6d3"/>
<rect x="100" y="36" width="8" height="6.5" fill="#ffa6d3"/>
<rect x="109" y="36" width="50" height="6.5" fill="#ffa6d3"/>
<path d="M6 36h1v6.5h-1zM48 36h1v6.5h-1zM83 36h1v6.5h-1zM99 36h1v6.5h-1zM108 36h1v6.5h-1z" fill="#fc9ccc"/>
<path d="M15 36h1v6.5h-1zM159 36h1v6.5h-1z" fill="#fc90c6"/>
<path d="M16 36h2v6.5h-2zM60 36h5v6.5h-5zM160 36h2v6.5h-2z" fill="#ffa6d3"/>
<path d="M18 36h1v6.5h-1zM59 36h1v6.5h-1z" fill="#fc96cc"/>
<path d="M65 36h2v6.5h-2z" fill="#fc84c6"/>
<path d="M82 36h1v6.5h-1z" fill="#fc8ac6"/>
<rect x="9" y="42" width="15" height="6.5" fill="#ffffff"/>
<rect x="77" y="42" width="32" height="6.5" fill="#ffa6d3"/>
<rect x="113" y="42" width="15" height="6.5" fill="#ffa6d3"/>
<rect x="129" y="42" width="7" height="6.5" fill="#ffa6d3"/>
<rect x="137" y="42" width="10" height="6.5" fill="#ffa6d3"/>
<rect x="148" y="42" width="14" height="6.5" fill="#ffa6d3"/>
<path d="M0 42h2v6.5h-2zM4 42h5v6.5h-5zM27 42h2v6.5h-2zM32 42h2v6.5h-2zM35 42h2v6.5h-2zM38 42h3v6.5h-3zM44 42h1v6.5h-1zM46 42h1v6.5h-1zM49 42h1v6.5h-1zM54 42h4v6.5h-4zM61 42h1v6.5h-1zM63 42h1v6.5h-1zM65 42h3v6.5h-3zM69 42h1v6.5h-1zM71 42h5v6.5h-5zM110 42h2v6.5h-2z" fill="#ffa6d3"/>
<path d="M2 42h1v6.5h-1zM34 42h1v6.5h-1zM42 42h1v6.5h-1zM47 42h1v6.5h-1zM50 42h1v6.5h-1z" fill="#fcd2ea"/>
<path d="M3 42h1v6.5h-1zM31 42h1v6.5h-1zM59 42h2v6.5h-2z" fill="#fccce4"/>
<path d="M24 42h1v6.5h-1z" fill="#fcf0f6"/>
<path d="M25 42h1v6.5h-1zM29 42h1v6.5h-1zM45 42h1v6.5h-1zM58 42h1v6.5h-1zM62 42h1v6.5h-1z" fill="#fce4f0"/>
<path d="M26 42h1v6.5h-1zM43 42h1v6.5h-1z" fill="#fcf0fc"/>
<path d="M30 42h1v6.5h-1z" fill="#fcfcfc"/>
<path d="M37 42h1v6.5h-1z" fill="#fceaf6"/>
<path d="M41 42h1v6.5h-1zM48 42h1v6.5h-1zM52 42h1v6.5h-1zM64 42h1v6.5h-1z" fill="#fcd8ea"/>
<path d="M51 42h1v6.5h-1z" fill="#fcf6fc"/>
<path d="M53 42h1v6.5h-1z" fill="#fcd8f0"/>
<path d="M68 42h1v6.5h-1zM70 42h1v6.5h-1z" fill="#fc72ba"/>
<path d="M76 42h1v6.5h-1zM136 42h1v6.5h-1zM147 42h1v6.5h-1z" fill="#fc7ec0"/>
<path d="M109 42h1v6.5h-1z" fill="#fc6cb4"/>
<path d="M112 42h1v6.5h-1z" fill="#fc8ac6"/>
<path d="M128 42h1v6.5h-1z" fill="#fc84c0"/>
<rect x="67" y="48" width="8" height="6.5" fill="#f20482"/>
<rect x="76" y="48" width="10" height="6.5" fill="#f20482"/>
<rect x="87" y="48" width="9" height="6.5" fill="#f20482"/>
<rect x="101" y="48" width="8" height="6.5" fill="#f20482"/>
<rect x="110" y="48" width="7" height="6.5" fill="#f20482"/>
<rect x="118" y="48" width="44" height="6.5" fill="#f20482"/>
<path d="M0 48h3v6.5h-3z" fill="#76609c"/>
<path d="M3 48h1v6.5h-1zM5 48h1v6.5h-1z" fill="#fccce4"/>
<path d="M4 48h1v6.5h-1z" fill="#fcd8f0"/>
<path d="M6 48h3v6.5h-3z" fill="#c02a8a"/>
<path d="M9 48h2v6.5h-2zM12 48h4v6.5h-4zM17 48h2v6.5h-2zM36 48h1v6.5h-1zM39 48h1v6.5h-1zM43 48h1v6.5h-1zM46 48h1v6.5h-1zM51 48h1v6.5h-1z" fill="#ffffff"/>
<path d="M11 48h1v6.5h-1z" fill="#fcdef0"/>
<path d="M16 48h1v6.5h-1zM21 48h1v6.5h-1z" fill="#fcf0f6"/>
<path d="M19 48h1v6.5h-1z" fill="#eaf6fc"/>
<path d="M20 48h1v6.5h-1z" fill="#ccccf0"/>
<path d="M22 48h1v6.5h-1zM50 48h1v6.5h-1z" fill="#fce4f0"/>
<path d="M23 48h5v6.5h-5z" fill="#009686"/>
<path d="M28 48h1v6.5h-1zM53 48h1v6.5h-1zM61 48h1v6.5h-1z" fill="#fcfcfc"/>
<path d="M29 48h1v6.5h-1z" fill="#fcb4d8"/>
<path d="M30 48h1v6.5h-1zM45 48h1v6.5h-1zM60 48h1v6.5h-1z" fill="#ff8c10"/>
<path d="M31 48h1v6.5h-1zM38 48h1v6.5h-1z" fill="#fcd2a2"/>
<path d="M32 48h1v6.5h-1zM37 48h1v6.5h-1z" fill="#fcc0de"/>
<path d="M33 48h1v6.5h-1z" fill="#fc9042"/>
<path d="M34 48h1v6.5h-1zM52 48h1v6.5h-1zM57 48h2v6.5h-2zM63 48h1v6.5h-1z" fill="#ffa6d3"/>
<path d="M35 48h1v6.5h-1z" fill="#fc965a"/>
<path d="M40 48h1v6.5h-1z" fill="#fcbade"/>
<path d="M41 48h1v6.5h-1zM44 48h1v6.5h-1z" fill="#fc9624"/>
<path d="M42 48h1v6.5h-1z" fill="#fca848"/>
<path d="M47 48h1v6.5h-1z" fill="#fc8a12"/>
<path d="M48 48h1v6.5h-1z" fill="#fcc684"/>
<path d="M49 48h1v6.5h-1z" fill="#fc9c96"/>
<path d="M54 48h1v6.5h-1z" fill="#fcd2ea"/>
<path d="M55 48h1v6.5h-1z" fill="#fcc07e"/>
<path d="M56 48h1v6.5h-1z" fill="#fca2c0"/>
<path d="M59 48h1v6.5h-1z" fill="#fce4c6"/>
<path d="M62 48h1v6.5h-1z" fill="#fcae54"/>
<path d="M64 48h1v6.5h-1z" fill="#fc9c84"/>
<path d="M65 48h1v6.5h-1z" fill="#fc9c6c"/>
<path d="M66 48h1v6.5h-1z" fill="#fc964e"/>
<path d="M75 48h1v6.5h-1z" fill="#d2188a"/>
<path d="M86 48h1v6.5h-1z" fill="#d81884"/>
<path d="M96 48h1v6.5h-1z" fill="#e40c84"/>
<path d="M97 48h3v6.5h-3z" fill="#f20482"/>
<path d="M100 48h1v6.5h-1z" fill="#d8188a"/>
<path d="M109 48h1v6.5h-1z" fill="#de1284"/>
<path d="M117 48h1v6.5h-1z" fill="#cc1e8a"/>
<rect x="10" y="54" width="13" height="6.5" fill="#f20482"/>
<rect x="28" y="54" width="15" height="6.5" fill="#f20482"/>
<rect x="44" y="54" width="21" height="6.5" fill="#f20482"/>
<rect x="66" y="54" width="8" height="6.5" fill="#f20482"/>
<rect x="75" y="54" width="17" height="6.5" fill="#f20482"/>
<rect x="93" y="54" width="6" height="6.5" fill="#f20482"/>
<rect x="105" y="54" width="7" height="6.5" fill="#f20482"/>
<rect x="130" y="54" width="25" height="6.5" fill="#f20482"/>
<rect x="156" y="54" width="6" height="6.5" fill="#f20482"/>
<path d="M0 54h3v6.5h-3z" fill="#76609c"/>
<path d="M3 54h1v6.5h-1zM5 54h1v6.5h-1z" fill="#ffffff"/>
<path d="M4 54h1v6.5h-1z" fill="#fce4f0"/>
<path d="M6 54h4v6.5h-4z" fill="#ffa6d3"/>
<path d="M23 54h1v6.5h-1zM25 54h1v6.5h-1zM27 54h1v6.5h-1z" fill="#009686"/>
<path d="M24 54h1v6.5h-1z" fill="#6c5484"/>
<path d="M26 54h1v6.5h-1z" fill="#a83084"/>
<path d="M43 54h1v6.5h-1z" fill="#f63096"/>
<path d="M65 54h1v6.5h-1z" fill="#f64ea8"/>
<path d="M74 54h1v6.5h-1zM92 54h1v6.5h-1zM99 54h1v6.5h-1zM112 54h1v6.5h-1zM124 54h1v6.5h-1z" fill="#de1284"/>
<path d="M100 54h4v6.5h-4zM113 54h5v6.5h-5zM119 54h5v6.5h-5zM125 54h2v6.5h-2zM128 54h1v6.5h-1z" fill="#f20482"/>
<path d="M104 54h1v6.5h-1zM127 54h1v6.5h-1zM155 54h1v6.5h-1z" fill="#d21e8a"/>
<path d="M118 54h1v6.5h-1z" fill="#e41284"/>
<path d="M129 54h1v6.5h-1z" fill="#d8188a"/>
<rect x="10" y="60" width="13" height="6.5" fill="#f20482"/>
<rect x="28" y="60" width="39" height="6.5" fill="#f20482"/>
<path d="M0 60h1v6.5h-1zM76 60h1v6.5h-1zM92 60h1v6.5h-1zM123 60h2v6.5h-2z" fill="#606c96"/>
<path d="M1 60h1v6.5h-1zM25 60h2v6.5h-2zM73 60h1v6.5h-1zM75 60h1v6.5h-1zM81 60h1v6.5h-1zM85 60h1v6.5h-1zM99 60h2v6.5h-2zM108 60h1v6.5h-1zM117 60h1v6.5h-1zM128 60h1v6.5h-1zM140 60h4v6.5h-4zM147 60h1v6.5h-1zM151 60h2v6.5h-2z" fill="#009686"/>
<path d="M2 60h1v6.5h-1zM70 60h2v6.5h-2z" fill="#009684"/>
<path d="M3 60h1v6.5h-1z" fill="#fcd2ea"/>
<path d="M4 60h1v6.5h-1z" fill="#fceaf6"/>
<path d="M5 60h1v6.5h-1z" fill="#ffffff"/>
<path d="M6 60h4v6.5h-4z" fill="#fc78ba"/>
<path d="M23 60h1v6.5h-1z" fill="#486c84"/>
<path d="M24 60h1v6.5h-1z" fill="#f660b4"/>
<path d="M27 60h1v6.5h-1z" fill="#fc90c6"/>
<path d="M67 60h1v6.5h-1zM82 60h1v6.5h-1zM109 60h1v6.5h-1z" fill="#b43090"/>
<path d="M68 60h1v6.5h-1zM139 60h1v6.5h-1zM144 60h2v6.5h-2z" fill="#8a4890"/>
<path d="M69 60h1v6.5h-1zM78 60h1v6.5h-1zM83 60h1v6.5h-1zM94 60h1v6.5h-1zM97 60h1v6.5h-1zM101 60h1v6.5h-1zM111 60h2v6.5h-2zM127 60h1v6.5h-1z" fill="#76609c"/>
<path d="M72 60h1v6.5h-1zM122 60h1v6.5h-1z" fill="#7e5a9c"/>
<path d="M74 60h1v6.5h-1zM126 60h1v6.5h-1z" fill="#60608a"/>
<path d="M77 60h1v6.5h-1zM158 60h1v6.5h-1z" fill="#3c788a"/>
<path d="M79 60h1v6.5h-1z" fill="#2a8490"/>
<path d="M80 60h1v6.5h-1z" fill="#546c96"/>
<path d="M84 60h1v6.5h-1z" fill="#307e90"/>
<path d="M86 60h1v6.5h-1zM154 60h1v6.5h-1z" fill="#66669c"/>
<path d="M87 60h1v6.5h-1z" fill="#367e90"/>
<path d="M88 60h1v6.5h-1zM130 60h1v6.5h-1z" fill="#a83c90"/>
<path d="M89 60h2v6.5h-2zM133 60h1v6.5h-1zM153 60h1v6.5h-1z" fill="#5a6c96"/>
<path d="M91 60h1v6.5h-1zM115 60h2v6.5h-2zM156 60h2v6.5h-2z" fill="#4e7296"/>
<path d="M93 60h1v6.5h-1zM138 60h1v6.5h-1z" fill="#547296"/>
<path d="M95 60h1v6.5h-1z" fill="#546c90"/>
<path d="M96 60h1v6.5h-1z" fill="#84549c"/>
<path d="M98 60h1v6.5h-1z" fill="#3c728a"/>
<path d="M102 60h1v6.5h-1z" fill="#308490"/>
<path d="M103 60h2v6.5h-2zM113 60h1v6.5h-1z" fill="#904e96"/>
<path d="M105 60h1v6.5h-1z" fill="#844e90"/>
<path d="M106 60h2v6.5h-2z" fill="#72548a"/>
<path d="M110 60h1v6.5h-1zM114 60h1v6.5h-1z" fill="#964290"/>
<path d="M118 60h1v6.5h-1zM160 60h2v6.5h-2z" fill="#069684"/>
<path d="M119 60h2v6.5h-2z" fill="#06908a"/>
<path d="M121 60h1v6.5h-1z" fill="#66608a"/>
<path d="M125 60h1v6.5h-1z" fill="#6c669c"/>
<path d="M129 60h1v6.5h-1z" fill="#7e548a"/>
<path d="M131 60h1v6.5h-1zM149 60h2v6.5h-2z" fill="#188a8a"/>
<path d="M132 60h1v6.5h-1z" fill="#4e6c90"/>
<path d="M134 60h1v6.5h-1z" fill="#36788a"/>
<path d="M135 60h1v6.5h-1z" fill="#6c5a8a"/>
<path d="M136 60h1v6.5h-1z" fill="#069084"/>
<path d="M137 60h1v6.5h-1zM159 60h1v6.5h-1z" fill="#487890"/>
<path d="M146 60h1v6.5h-1z" fill="#30788a"/>
<path d="M148 60h1v6.5h-1z" fill="#307e8a"/>
<path d="M155 60h1v6.5h-1z" fill="#2a7e8a"/>
<rect x="9" y="66" width="6" height="6.5" fill="#ffffff"/>
<path d="M0 66h1v6.5h-1z" fill="#f6369c"/>
<path d="M1 66h1v6.5h-1zM8 66h1v6.5h-1zM47 66h1v6.5h-1z" fill="#f62a96"/>
<path d="M2 66h1v6.5h-1z" fill="#f66cb4"/>
<path d="M3 66h1v6.5h-1zM25 66h1v6.5h-1zM66 66h1v6.5h-1z" fill="#ffa6d3"/>
<path d="M4 66h1v6.5h-1z" fill="#fcb4d8"/>
<path d="M5 66h1v6.5h-1zM15 66h2v6.5h-2z" fill="#fcdef0"/>
<path d="M6 66h1v6.5h-1zM48 66h1v6.5h-1z" fill="#fca2d2"/>
<path d="M7 66h1v6.5h-1zM28 66h1v6.5h-1zM31 66h1v6.5h-1zM44 66h1v6.5h-1zM49 66h1v6.5h-1zM61 66h1v6.5h-1z" fill="#f20482"/>
<path d="M17 66h3v6.5h-3zM21 66h2v6.5h-2z" fill="#ffffff"/>
<path d="M20 66h1v6.5h-1z" fill="#fcd2ea"/>
<path d="M23 66h1v6.5h-1zM27 66h1v6.5h-1z" fill="#fcfcfc"/>
<path d="M24 66h1v6.5h-1z" fill="#eaa8d8"/>
<path d="M26 66h1v6.5h-1z" fill="#f0f6fc"/>
<path d="M29 66h1v6.5h-1z" fill="#fc7ec0"/>
<path d="M30 66h1v6.5h-1z" fill="#fca2c0"/>
<path d="M32 66h1v6.5h-1z" fill="#fc6630"/>
<path d="M33 66h2v6.5h-2zM40 66h1v6.5h-1zM45 66h1v6.5h-1zM60 66h1v6.5h-1zM64 66h1v6.5h-1z" fill="#ff8c10"/>
<path d="M35 66h1v6.5h-1z" fill="#fc6c30"/>
<path d="M36 66h1v6.5h-1z" fill="#f0128a"/>
<path d="M37 66h2v6.5h-2z" fill="#f63c54"/>
<path d="M39 66h1v6.5h-1z" fill="#f62490"/>
<path d="M41 66h1v6.5h-1z" fill="#fc9c7e"/>
<path d="M42 66h1v6.5h-1z" fill="#f61e90"/>
<path d="M43 66h1v6.5h-1z" fill="#fc5a3c"/>
<path d="M46 66h1v6.5h-1z" fill="#fc9c78"/>
<path d="M50 66h1v6.5h-1z" fill="#f63060"/>
<path d="M51 66h1v6.5h-1z" fill="#fc4e48"/>
<path d="M52 66h1v6.5h-1z" fill="#fc6cb4"/>
<path d="M53 66h1v6.5h-1z" fill="#fc543c"/>
<path d="M54 66h1v6.5h-1z" fill="#fc66b4"/>
<path d="M55 66h1v6.5h-1z" fill="#fc9012"/>
<path d="M56 66h1v6.5h-1z" fill="#fc901e"/>
<path d="M57 66h1v6.5h-1z" fill="#f64ea8"/>
<path d="M58 66h1v6.5h-1z" fill="#f61e6c"/>
<path d="M59 66h1v6.5h-1z" fill="#fc9048"/>
<path d="M62 66h1v6.5h-1z" fill="#f62a60"/>
<path d="M63 66h1v6.5h-1z" fill="#fc9030"/>
<path d="M65 66h1v6.5h-1z" fill="#f01278"/>
<path d="M67 66h1v6.5h-1zM82 66h1v6.5h-1zM109 66h1v6.5h-1z" fill="#b43090"/>
<path d="M68 66h1v6.5h-1zM98 66h1v6.5h-1zM158 66h1v6.5h-1z" fill="#844e90"/>
<path d="M69 66h1v6.5h-1zM78 66h1v6.5h-1zM83 66h1v6.5h-1zM94 66h1v6.5h-1zM97 66h1v6.5h-1zM111 66h2v6.5h-2zM127 66h1v6.5h-1zM133 66h1v6.5h-1zM157 66h1v6.5h-1z" fill="#76609c"/>
<path d="M70 66h2v6.5h-2zM102 66h1v6.5h-1z" fill="#009684"/>
<path d="M72 66h1v6.5h-1zM122 66h1v6.5h-1z" fill="#7e5a9c"/>
<path d="M73 66h2v6.5h-2zM81 66h1v6.5h-1zM85 66h1v6.5h-1zM99 66h2v6.5h-2zM108 66h1v6.5h-1zM117 66h1v6.5h-1zM128 66h1v6.5h-1zM140 66h4v6.5h-4zM147 66h1v6.5h-1zM151 66h2v6.5h-2zM155 66h1v6.5h-1z" fill="#009686"/>
<path d="M75 66h1v6.5h-1z" fill="#1e848a"/>
<path d="M76 66h1v6.5h-1z" fill="#547296"/>
<path d="M77 66h1v6.5h-1z" fill="#2a8490"/>
<path d="M79 66h1v6.5h-1z" fill="#12908a"/>
<path d="M80 66h1v6.5h-1z" fill="#546c96"/>
<path d="M84 66h1v6.5h-1z" fill="#307e90"/>
<path d="M86 66h2v6.5h-2z" fill="#66669c"/>
<path d="M88 66h1v6.5h-1z" fill="#a83c90"/>
<path d="M89 66h1v6.5h-1z" fill="#3c7890"/>
<path d="M90 66h1v6.5h-1zM125 66h1v6.5h-1zM154 66h1v6.5h-1z" fill="#367e90"/>
<path d="M91 66h1v6.5h-1z" fill="#427890"/>
<path d="M92 66h1v6.5h-1zM120 66h1v6.5h-1z" fill="#487296"/>
<path d="M93 66h1v6.5h-1zM131 66h1v6.5h-1zM149 66h2v6.5h-2z" fill="#188a8a"/>
<path d="M95 66h2v6.5h-2z" fill="#84549c"/>
<path d="M101 66h1v6.5h-1zM137 66h2v6.5h-2zM159 66h1v6.5h-1z" fill="#487890"/>
<path d="M103 66h2v6.5h-2zM113 66h1v6.5h-1z" fill="#904e96"/>
<path d="M105 66h1v6.5h-1z" fill="#2a7e8a"/>
<path d="M106 66h1v6.5h-1zM139 66h1v6.5h-1zM144 66h1v6.5h-1z" fill="#8a4890"/>
<path d="M107 66h1v6.5h-1z" fill="#72548a"/>
<path d="M110 66h1v6.5h-1zM130 66h1v6.5h-1zM145 66h1v6.5h-1z" fill="#a23c90"/>
<path d="M114 66h1v6.5h-1z" fill="#964290"/>
<path d="M115 66h1v6.5h-1zM156 66h1v6.5h-1z" fill="#4e7296"/>
<path d="M116 66h1v6.5h-1zM123 66h2v6.5h-2z" fill="#606c96"/>
<path d="M118 66h2v6.5h-2zM121 66h1v6.5h-1z" fill="#06908a"/>
<path d="M126 66h1v6.5h-1zM132 66h1v6.5h-1z" fill="#308490"/>
<path d="M129 66h1v6.5h-1z" fill="#7e548a"/>
<path d="M134 66h1v6.5h-1z" fill="#36788a"/>
<path d="M135 66h1v6.5h-1z" fill="#6c5a8a"/>
<path d="M136 66h1v6.5h-1z" fill="#069084"/>
<path d="M146 66h1v6.5h-1z" fill="#30788a"/>
<path d="M148 66h1v6.5h-1z" fill="#307e8a"/>
<path d="M153 66h1v6.5h-1z" fill="#5a6c96"/>
<path d="M160 66h2v6.5h-2z" fill="#069684"/>
<rect x="9" y="72" width="6" height="6.5" fill="#ffffff"/>
<rect x="25" y="72" width="12" height="6.5" fill="#ffffff"/>
<rect x="38" y="72" width="6" height="6.5" fill="#ffffff"/>
<rect x="45" y="72" width="8" height="6.5" fill="#ffffff"/>
<rect x="74" y="72" width="7" height="6.5" fill="#009686"/>
<path d="M0 72h1v6.5h-1zM8 72h1v6.5h-1z" fill="#ffa6d3"/>
<path d="M1 72h1v6.5h-1z" fill="#fcd8ea"/>
<path d="M2 72h1v6.5h-1z" fill="#fc96cc"/>
<path d="M3 72h1v6.5h-1z" fill="#f20482"/>
<path d="M4 72h1v6.5h-1z" fill="#f00c84"/>
<path d="M5 72h1v6.5h-1zM122 72h1v6.5h-1z" fill="#fcfcfc"/>
<path d="M6 72h1v6.5h-1zM16 72h2v6.5h-2zM19 72h5v6.5h-5zM54 72h4v6.5h-4zM59 72h3v6.5h-3zM63 72h4v6.5h-4zM90 72h1v6.5h-1zM99 72h1v6.5h-1zM132 72h1v6.5h-1zM158 72h1v6.5h-1z" fill="#ffffff"/>
<path d="M7 72h1v6.5h-1zM15 72h1v6.5h-1z" fill="#fcf0f6"/>
<path d="M18 72h1v6.5h-1zM44 72h1v6.5h-1zM62 72h1v6.5h-1z" fill="#fce4f0"/>
<path d="M24 72h1v6.5h-1zM37 72h1v6.5h-1zM58 72h1v6.5h-1z" fill="#fceaf6"/>
<path d="M53 72h1v6.5h-1z" fill="#fcf0fc"/>
<path d="M67 72h1v6.5h-1z" fill="#36a89c"/>
<path d="M68 72h1v6.5h-1z" fill="#30a89c"/>
<path d="M69 72h4v6.5h-4zM82 72h1v6.5h-1zM84 72h1v6.5h-1zM86 72h1v6.5h-1zM88 72h1v6.5h-1zM92 72h1v6.5h-1zM96 72h1v6.5h-1zM107 72h1v6.5h-1zM114 72h1v6.5h-1zM120 72h2v6.5h-2zM126 72h2v6.5h-2zM130 72h1v6.5h-1zM142 72h1v6.5h-1zM146 72h1v6.5h-1zM150 72h1v6.5h-1zM152 72h1v6.5h-1zM154 72h1v6.5h-1zM156 72h2v6.5h-2zM159 72h1v6.5h-1z" fill="#009686"/>
<path d="M73 72h1v6.5h-1z" fill="#3caea2"/>
<path d="M81 72h1v6.5h-1z" fill="#66669c"/>
<path d="M83 72h1v6.5h-1z" fill="#6cc0ba"/>
<path d="M85 72h1v6.5h-1zM145 72h1v6.5h-1z" fill="#c0a2cc"/>
<path d="M87 72h1v6.5h-1z" fill="#aeded8"/>
<path d="M89 72h1v6.5h-1z" fill="#9cd8d2"/>
<path d="M91 72h1v6.5h-1zM98 72h1v6.5h-1zM110 72h1v6.5h-1zM129 72h1v6.5h-1zM148 72h1v6.5h-1z" fill="#cda5d2"/>
<path d="M93 72h1v6.5h-1z" fill="#489ca2"/>
<path d="M94 72h1v6.5h-1zM104 72h1v6.5h-1zM119 72h1v6.5h-1z" fill="#76609c"/>
<path d="M95 72h1v6.5h-1z" fill="#a8a2c6"/>
<path d="M97 72h1v6.5h-1z" fill="#009684"/>
<path d="M100 72h1v6.5h-1z" fill="#96d2cc"/>
<path d="M101 72h1v6.5h-1zM106 72h1v6.5h-1z" fill="#309c96"/>
<path d="M102 72h1v6.5h-1z" fill="#189c90"/>
<path d="M103 72h1v6.5h-1zM143 72h1v6.5h-1z" fill="#a884ba"/>
<path d="M105 72h1v6.5h-1z" fill="#78669c"/>
<path d="M108 72h1v6.5h-1z" fill="#487890"/>
<path d="M109 72h1v6.5h-1z" fill="#8ad2c6"/>
<path d="M111 72h1v6.5h-1z" fill="#cca8d2"/>
<path d="M112 72h1v6.5h-1z" fill="#5abaae"/>
<path d="M113 72h1v6.5h-1z" fill="#8a6ca8"/>
<path d="M115 72h1v6.5h-1zM118 72h1v6.5h-1z" fill="#3c7890"/>
<path d="M116 72h1v6.5h-1z" fill="#baa2cc"/>
<path d="M117 72h1v6.5h-1z" fill="#66c0b4"/>
<path d="M123 72h1v6.5h-1z" fill="#d2f0ea"/>
<path d="M124 72h1v6.5h-1z" fill="#e4d2e4"/>
<path d="M125 72h1v6.5h-1z" fill="#84a2ba"/>
<path d="M128 72h1v6.5h-1z" fill="#c69ccc"/>
<path d="M131 72h1v6.5h-1zM137 72h1v6.5h-1z" fill="#84a2b4"/>
<path d="M133 72h1v6.5h-1z" fill="#6c9cae"/>
<path d="M134 72h1v6.5h-1zM149 72h1v6.5h-1z" fill="#78609c"/>
<path d="M135 72h1v6.5h-1z" fill="#606c96"/>
<path d="M136 72h1v6.5h-1z" fill="#c0e4e4"/>
<path d="M138 72h1v6.5h-1z" fill="#c09ccc"/>
<path d="M139 72h1v6.5h-1z" fill="#789cb4"/>
<path d="M140 72h1v6.5h-1z" fill="#0c968a"/>
<path d="M141 72h1v6.5h-1z" fill="#90a2ba"/>
<path d="M144 72h1v6.5h-1z" fill="#249c96"/>
<path d="M147 72h1v6.5h-1z" fill="#f0e4f0"/>
<path d="M151 72h1v6.5h-1z" fill="#1e9690"/>
<path d="M153 72h1v6.5h-1z" fill="#427890"/>
<path d="M155 72h1v6.5h-1z" fill="#7e66a2"/>
<path d="M160 72h2v6.5h-2z" fill="#d2aed8"/>
<rect x="8" y="78" width="7" height="6.5" fill="#ffffff"/>
<rect x="29" y="78" width="7" height="6.5" fill="#ffffff"/>
<rect x="37" y="78" width="6" height="6.5" fill="#ffffff"/>
<path d="M0 78h2v6.5h-2zM3 78h1v6.5h-1zM5 78h2v6.5h-2zM16 78h1v6.5h-1zM18 78h1v6.5h-1zM21 78h3v6.5h-3zM25 78h3v6.5h-3zM45 78h1v6.5h-1zM47 78h2v6.5h-2zM51 78h2v6.5h-2zM56 78h5v6.5h-5zM62 78h1v6.5h-1zM66 78h2v6.5h-2zM69 78h2v6.5h-2zM73 78h3v6.5h-3zM77 78h1v6.5h-1zM80 78h1v6.5h-1zM83 78h1v6.5h-1zM85 78h2v6.5h-2zM89 78h3v6.5h-3zM93 78h5v6.5h-5zM99 78h1v6.5h-1zM101 78h1v6.5h-1zM103 78h1v6.5h-1zM106 78h1v6.5h-1zM109 78h2v6.5h-2zM113 78h1v6.5h-1zM115 78h2v6.5h-2zM120 78h3v6.5h-3zM124 78h2v6.5h-2zM127 78h1v6.5h-1zM129 78h2v6.5h-2zM133 78h4v6.5h-4zM140 78h1v6.5h-1zM143 78h3v6.5h-3zM147 78h1v6.5h-1zM151 78h1v6.5h-1zM155 78h3v6.5h-3zM159 78h3v6.5h-3z" fill="#ffffff"/>
<path d="M2 78h1v6.5h-1z" fill="#fcf6fc"/>
<path d="M4 78h1v6.5h-1zM43 78h1v6.5h-1z" fill="#fcdef0"/>
<path d="M7 78h1v6.5h-1z" fill="#def0fc"/>
<path d="M15 78h1v6.5h-1z" fill="#d2eafc"/>
<path d="M17 78h1v6.5h-1zM108 78h1v6.5h-1z" fill="#ccd8f6"/>
<path d="M19 78h1v6.5h-1z" fill="#eaf6fc"/>
<path d="M20 78h1v6.5h-1zM61 78h1v6.5h-1z" fill="#c6e4fc"/>
<path d="M24 78h1v6.5h-1zM50 78h1v6.5h-1zM54 78h1v6.5h-1zM65 78h1v6.5h-1z" fill="#fcf0f6"/>
<path d="M28 78h1v6.5h-1zM53 78h1v6.5h-1z" fill="#cce4fc"/>
<path d="M36 78h1v6.5h-1z" fill="#d8d8f0"/>
<path d="M44 78h1v6.5h-1z" fill="#b4d8fc"/>
<path d="M46 78h1v6.5h-1z" fill="#fceaf6"/>
<path d="M49 78h1v6.5h-1zM64 78h1v6.5h-1z" fill="#c0defc"/>
<path d="M55 78h1v6.5h-1z" fill="#fce4f0"/>
<path d="M63 78h1v6.5h-1z" fill="#fcf0fc"/>
<path d="M68 78h1v6.5h-1zM111 78h1v6.5h-1zM131 78h1v6.5h-1z" fill="#ccdef6"/>
<path d="M71 78h1v6.5h-1zM141 78h1v6.5h-1zM150 78h1v6.5h-1z" fill="#b4ccf0"/>
<path d="M72 78h1v6.5h-1zM126 78h1v6.5h-1z" fill="#c0d2f0"/>
<path d="M76 78h1v6.5h-1zM123 78h1v6.5h-1zM132 78h1v6.5h-1z" fill="#deeaf6"/>
<path d="M78 78h1v6.5h-1zM118 78h1v6.5h-1z" fill="#72a2e4"/>
<path d="M79 78h1v6.5h-1zM138 78h1v6.5h-1z" fill="#90b4ea"/>
<path d="M81 78h1v6.5h-1z" fill="#d2e4f6"/>
<path d="M82 78h1v6.5h-1z" fill="#e4f0fc"/>
<path d="M84 78h1v6.5h-1z" fill="#6c9ce4"/>
<path d="M87 78h1v6.5h-1z" fill="#a8c6f0"/>
<path d="M88 78h1v6.5h-1z" fill="#c0d8f0"/>
<path d="M92 78h1v6.5h-1z" fill="#9cc0ea"/>
<path d="M98 78h1v6.5h-1z" fill="#8aaee4"/>
<path d="M100 78h1v6.5h-1zM105 78h1v6.5h-1zM128 78h1v6.5h-1zM137 78h1v6.5h-1z" fill="#a2c0ea"/>
<path d="M102 78h1v6.5h-1z" fill="#6c9cde"/>
<path d="M104 78h1v6.5h-1z" fill="#aec6f0"/>
<path d="M107 78h1v6.5h-1zM148 78h1v6.5h-1z" fill="#78a2e4"/>
<path d="M112 78h1v6.5h-1z" fill="#e4eafc"/>
<path d="M114 78h1v6.5h-1z" fill="#84a8e4"/>
<path d="M117 78h1v6.5h-1z" fill="#d8e4f6"/>
<path d="M119 78h1v6.5h-1zM142 78h1v6.5h-1z" fill="#729ce4"/>
<path d="M139 78h1v6.5h-1zM146 78h1v6.5h-1zM149 78h1v6.5h-1z" fill="#84aee4"/>
<path d="M152 78h1v6.5h-1z" fill="#dee4f6"/>
<path d="M153 78h1v6.5h-1z" fill="#a8c0ea"/>
<path d="M154 78h1v6.5h-1z" fill="#c6d8f0"/>
<path d="M158 78h1v6.5h-1z" fill="#7ea8e4"/>
<rect x="0" y="84" width="37" height="6.5" fill="#0c5acc"/>
<rect x="38" y="84" width="68" height="6.5" fill="#0c5acc"/>
<rect x="107" y="84" width="11" height="6.5" fill="#0c5acc"/>
<rect x="119" y="84" width="43" height="6.5" fill="#0c5acc"/>
<path d="M37 84h1v6.5h-1z" fill="#2a6cd2"/>
<path d="M106 84h1v6.5h-1z" fill="#2a72d2"/>
<path d="M118 84h1v6.5h-1z" fill="#3072d2"/>
<path d="M0 90h1v6.5h-1zM4 90h1v6.5h-1zM8 90h4v6.5h-4zM14 90h1v6.5h-1zM16 90h2v6.5h-2zM25 90h1v6.5h-1zM36 90h3v6.5h-3zM45 90h1v6.5h-1zM50 90h2v6.5h-2zM53 90h1v6.5h-1zM57 90h1v6.5h-1zM60 90h1v6.5h-1zM62 90h2v6.5h-2zM69 90h4v6.5h-4zM78 90h1v6.5h-1zM84 90h1v6.5h-1zM88 90h1v6.5h-1zM92 90h1v6.5h-1zM96 90h1v6.5h-1zM99 90h1v6.5h-1zM102 90h1v6.5h-1zM107 90h3v6.5h-3zM111 90h1v6.5h-1zM113 90h1v6.5h-1zM128 90h1v6.5h-1zM134 90h1v6.5h-1zM139 90h1v6.5h-1zM141 90h1v6.5h-1zM143 90h1v6.5h-1zM147 90h1v6.5h-1zM152 90h1v6.5h-1zM158 90h1v6.5h-1zM160 90h2v6.5h-2z" fill="#ffffff"/>
<path d="M1 90h1v6.5h-1zM19 90h1v6.5h-1zM58 90h1v6.5h-1zM85 90h1v6.5h-1zM94 90h1v6.5h-1zM126 90h1v6.5h-1zM159 90h1v6.5h-1z" fill="#fcd2ea"/>
<path d="M2 90h1v6.5h-1zM13 90h1v6.5h-1zM31 90h1v6.5h-1zM46 90h1v6.5h-1zM49 90h1v6.5h-1zM64 90h1v6.5h-1zM73 90h1v6.5h-1zM98 90h1v6.5h-1zM110 90h1v6.5h-1zM118 90h1v6.5h-1zM124 90h1v6.5h-1zM129 90h1v6.5h-1zM135 90h1v6.5h-1zM145 90h1v6.5h-1zM151 90h1v6.5h-1zM157 90h1v6.5h-1z" fill="#fcc0de"/>
<path d="M3 90h1v6.5h-1zM12 90h1v6.5h-1zM18 90h1v6.5h-1zM29 90h1v6.5h-1zM42 90h1v6.5h-1zM56 90h1v6.5h-1zM67 90h1v6.5h-1zM74 90h1v6.5h-1zM86 90h1v6.5h-1zM89 90h1v6.5h-1zM91 90h1v6.5h-1zM100 90h1v6.5h-1zM114 90h1v6.5h-1zM138 90h1v6.5h-1zM140 90h1v6.5h-1zM150 90h1v6.5h-1zM154 90h1v6.5h-1zM156 90h1v6.5h-1z" fill="#fcc6e4"/>
<path d="M5 90h1v6.5h-1zM22 90h1v6.5h-1zM47 90h1v6.5h-1zM76 90h1v6.5h-1zM87 90h1v6.5h-1zM90 90h1v6.5h-1zM103 90h1v6.5h-1zM127 90h1v6.5h-1zM136 90h1v6.5h-1zM144 90h1v6.5h-1z" fill="#fcbade"/>
<path d="M6 90h2v6.5h-2zM24 90h1v6.5h-1zM26 90h1v6.5h-1zM40 90h1v6.5h-1zM52 90h1v6.5h-1zM68 90h1v6.5h-1zM75 90h1v6.5h-1zM77 90h1v6.5h-1zM80 90h1v6.5h-1zM82 90h1v6.5h-1zM93 90h1v6.5h-1zM106 90h1v6.5h-1zM116 90h1v6.5h-1zM121 90h2v6.5h-2zM130 90h1v6.5h-1zM137 90h1v6.5h-1zM149 90h1v6.5h-1z" fill="#fccce4"/>
<path d="M15 90h1v6.5h-1zM95 90h1v6.5h-1zM155 90h1v6.5h-1z" fill="#fcd8f0"/>
<path d="M20 90h1v6.5h-1zM30 90h1v6.5h-1zM41 90h1v6.5h-1zM44 90h1v6.5h-1zM48 90h1v6.5h-1zM61 90h1v6.5h-1zM66 90h1v6.5h-1zM81 90h1v6.5h-1zM117 90h1v6.5h-1zM119 90h2v6.5h-2zM153 90h1v6.5h-1z" fill="#fce4f0"/>
<path d="M21 90h1v6.5h-1zM43 90h1v6.5h-1zM101 90h1v6.5h-1zM105 90h1v6.5h-1zM112 90h1v6.5h-1zM131 90h1v6.5h-1zM146 90h1v6.5h-1z" fill="#fcd8ea"/>
<path d="M23 90h1v6.5h-1zM33 90h3v6.5h-3zM39 90h1v6.5h-1zM54 90h2v6.5h-2zM65 90h1v6.5h-1zM79 90h1v6.5h-1zM104 90h1v6.5h-1zM123 90h1v6.5h-1zM133 90h1v6.5h-1zM148 90h1v6.5h-1z" fill="#fcdef0"/>
<path d="M27 90h1v6.5h-1zM97 90h1v6.5h-1zM132 90h1v6.5h-1z" fill="#fcc0e4"/>
<path d="M28 90h1v6.5h-1zM59 90h1v6.5h-1zM83 90h1v6.5h-1zM115 90h1v6.5h-1zM125 90h1v6.5h-1zM142 90h1v6.5h-1z" fill="#fceaf6"/>
<path d="M32 90h1v6.5h-1z" fill="#fceaf0"/>
<rect x="0" y="96" width="25" height="6.5" fill="#ffffff"/>
<rect x="26" y="96" width="14" height="6.5" fill="#ffffff"/>
<rect x="41" y="96" width="19" height="6.5" fill="#ffffff"/>
<rect x="61" y="96" width="36" height="6.5" fill="#ffffff"/>
<rect x="98" y="96" width="64" height="6.5" fill="#ffffff"/>
<path d="M25 96h1v6.5h-1z" fill="#dee4f6"/>
<path d="M40 96h1v6.5h-1z" fill="#d8e4f6"/>
<path d="M60 96h1v6.5h-1z" fill="#aec6f0"/>
<path d="M97 96h1v6.5h-1z" fill="#ccd8f6"/>
<rect x="0" y="102" width="30" height="6.5" fill="#0c5acc"/>
<rect x="31" y="102" width="12" height="6.5" fill="#0c5acc"/>
<rect x="44" y="102" width="15" height="6.5" fill="#0c5acc"/>
<rect x="64" y="102" width="56" height="6.5" fill="#0c5acc"/>
<rect x="121" y="102" width="11" height="6.5" fill="#0c5acc"/>
<rect x="133" y="102" width="29" height="6.5" fill="#0c5acc"/>
<path d="M30 102h1v6.5h-1z" fill="#4e84d8"/>
<path d="M43 102h1v6.5h-1z" fill="#3c78d8"/>
<path d="M59 102h1v6.5h-1z" fill="#2a6cd2"/>
<path d="M60 102h3v6.5h-3z" fill="#0c5acc"/>
<path d="M63 102h1v6.5h-1zM132 102h1v6.5h-1z" fill="#3072d2"/>
<path d="M120 102h1v6.5h-1z" fill="#2466d2"/>
<rect x="0" y="108" width="17" height="6.5" fill="#0c5acc"/>
<rect x="23" y="108" width="8" height="6.5" fill="#0c5acc"/>
<rect x="32" y="108" width="7" height="6.5" fill="#0c5acc"/>
<rect x="48" y="108" width="49" height="6.5" fill="#0c5acc"/>
<rect x="98" y="108" width="17" height="6.5" fill="#0c5acc"/>
<rect x="116" y="108" width="10" height="6.5" fill="#0c5acc"/>
<rect x="127" y="108" width="27" height="6.5" fill="#0c5acc"/>
<rect x="155" y="108" width="7" height="6.5" fill="#0c5acc"/>
<path d="M17 108h1v6.5h-1z" fill="#3678d8"/>
<path d="M18 108h2v6.5h-2zM21 108h1v6.5h-1zM40 108h3v6.5h-3zM44 108h2v6.5h-2z" fill="#0c5acc"/>
<path d="M20 108h1v6.5h-1z" fill="#3072d2"/>
<path d="M22 108h1v6.5h-1z" fill="#4884d8"/>
<path d="M31 108h1v6.5h-1zM47 108h1v6.5h-1z" fill="#5a90de"/>
<path d="M39 108h1v6.5h-1z" fill="#3c78d8"/>
<path d="M43 108h1v6.5h-1zM97 108h1v6.5h-1zM154 108h1v6.5h-1z" fill="#246cd2"/>
<path d="M46 108h1v6.5h-1z" fill="#548ad8"/>
<path d="M115 108h1v6.5h-1z" fill="#2a6cd2"/>
<path d="M126 108h1v6.5h-1z" fill="#4e84d8"/>
<rect x="0" y="114" width="162" height="6" fill="#ffffff"/>
</g></g>
<g clip-path="url(#clipD)"><g filter="url(#soft)" transform="translate(331.00,183.30) scale(1.0000,1.0217)">
<rect x="0" y="0" width="162" height="6.5" fill="#ffffff"/>
<rect x="7" y="6" width="17" height="6.5" fill="#0c5acc"/>
<rect x="39" y="6" width="13" height="6.5" fill="#0c5acc"/>
<rect x="53" y="6" width="21" height="6.5" fill="#0c5acc"/>
<rect x="75" y="6" width="62" height="6.5" fill="#0c5acc"/>
<rect x="143" y="6" width="14" height="6.5" fill="#0c5acc"/>
<path d="M0 6h5v6.5h-5zM25 6h3v6.5h-3zM30 6h4v6.5h-4zM138 6h4v6.5h-4zM158 6h1v6.5h-1zM160 6h2v6.5h-2z" fill="#0c5acc"/>
<path d="M5 6h1v6.5h-1zM142 6h1v6.5h-1zM159 6h1v6.5h-1z" fill="#246cd2"/>
<path d="M6 6h1v6.5h-1z" fill="#2a6cd2"/>
<path d="M24 6h1v6.5h-1z" fill="#3678d2"/>
<path d="M28 6h1v6.5h-1z" fill="#78a2e4"/>
<path d="M29 6h1v6.5h-1z" fill="#3c78d8"/>
<path d="M34 6h1v6.5h-1zM52 6h1v6.5h-1zM157 6h1v6.5h-1z" fill="#4884d8"/>
<path d="M35 6h4v6.5h-4z" fill="#ffffff"/>
<path d="M74 6h1v6.5h-1zM137 6h1v6.5h-1z" fill="#3072d2"/>
<rect x="0" y="12" width="28" height="6.5" fill="#0c5acc"/>
<rect x="48" y="12" width="10" height="6.5" fill="#0c5acc"/>
<rect x="59" y="12" width="6" height="6.5" fill="#0c5acc"/>
<rect x="66" y="12" width="9" height="6.5" fill="#0c5acc"/>
<rect x="77" y="12" width="24" height="6.5" fill="#0c5acc"/>
<rect x="118" y="12" width="17" height="6.5" fill="#0c5acc"/>
<rect x="136" y="12" width="18" height="6.5" fill="#0c5acc"/>
<path d="M28 12h1v6.5h-1zM37 12h1v6.5h-1zM117 12h1v6.5h-1z" fill="#4e84d8"/>
<path d="M29 12h1v6.5h-1zM31 12h1v6.5h-1zM33 12h1v6.5h-1zM35 12h1v6.5h-1zM38 12h2v6.5h-2zM41 12h2v6.5h-2zM44 12h3v6.5h-3zM102 12h1v6.5h-1zM105 12h1v6.5h-1zM107 12h5v6.5h-5zM113 12h4v6.5h-4zM156 12h1v6.5h-1zM158 12h4v6.5h-4z" fill="#0c5acc"/>
<path d="M30 12h1v6.5h-1zM36 12h1v6.5h-1z" fill="#3c7ed8"/>
<path d="M32 12h1v6.5h-1zM34 12h1v6.5h-1zM106 12h1v6.5h-1zM112 12h1v6.5h-1z" fill="#3072d2"/>
<path d="M40 12h1v6.5h-1zM76 12h1v6.5h-1zM104 12h1v6.5h-1z" fill="#4884d8"/>
<path d="M43 12h1v6.5h-1z" fill="#6090de"/>
<path d="M47 12h1v6.5h-1z" fill="#427ed8"/>
<path d="M58 12h1v6.5h-1zM157 12h1v6.5h-1z" fill="#3678d8"/>
<path d="M65 12h1v6.5h-1z" fill="#2466d2"/>
<path d="M75 12h1v6.5h-1z" fill="#1e66d2"/>
<path d="M101 12h1v6.5h-1z" fill="#3c78d8"/>
<path d="M103 12h1v6.5h-1z" fill="#2a6cd2"/>
<path d="M135 12h1v6.5h-1zM154 12h1v6.5h-1z" fill="#246cd2"/>
<path d="M155 12h1v6.5h-1z" fill="#548ad8"/>
<rect x="6" y="18" width="21" height="6.5" fill="#ffffff"/>
<rect x="37" y="18" width="10" height="6.5" fill="#ffffff"/>
<rect x="48" y="18" width="13" height="6.5" fill="#ffffff"/>
<rect x="62" y="18" width="21" height="6.5" fill="#ffffff"/>
<rect x="84" y="18" width="22" height="6.5" fill="#ffffff"/>
<rect x="110" y="18" width="17" height="6.5" fill="#ffffff"/>
<rect x="128" y="18" width="34" height="6.5" fill="#ffffff"/>
<path d="M0 18h5v6.5h-5zM28 18h1v6.5h-1zM30 18h3v6.5h-3zM34 18h2v6.5h-2zM107 18h2v6.5h-2z" fill="#ffffff"/>
<path d="M5 18h1v6.5h-1z" fill="#d2e4f6"/>
<path d="M27 18h1v6.5h-1zM36 18h1v6.5h-1z" fill="#deeaf6"/>
<path d="M29 18h1v6.5h-1z" fill="#d2def6"/>
<path d="M33 18h1v6.5h-1zM109 18h1v6.5h-1z" fill="#bad2f0"/>
<path d="M47 18h1v6.5h-1z" fill="#ccdef6"/>
<path d="M61 18h1v6.5h-1z" fill="#e4eafc"/>
<path d="M83 18h1v6.5h-1zM127 18h1v6.5h-1z" fill="#e4f0fc"/>
<path d="M106 18h1v6.5h-1z" fill="#deeafc"/>
<path d="M0 24h1v6.5h-1zM41 24h1v6.5h-1zM55 24h1v6.5h-1zM99 24h1v6.5h-1z" fill="#3072d2"/>
<path d="M1 24h1v6.5h-1zM3 24h2v6.5h-2zM7 24h2v6.5h-2zM13 24h1v6.5h-1zM16 24h2v6.5h-2zM23 24h1v6.5h-1zM25 24h2v6.5h-2zM28 24h1v6.5h-1zM33 24h2v6.5h-2zM36 24h1v6.5h-1zM39 24h1v6.5h-1zM58 24h1v6.5h-1zM61 24h1v6.5h-1zM64 24h3v6.5h-3zM74 24h1v6.5h-1zM83 24h2v6.5h-2zM88 24h1v6.5h-1zM101 24h1v6.5h-1zM105 24h1v6.5h-1zM107 24h1v6.5h-1zM110 24h1v6.5h-1zM117 24h1v6.5h-1zM120 24h1v6.5h-1zM122 24h1v6.5h-1zM124 24h1v6.5h-1zM130 24h1v6.5h-1zM132 24h3v6.5h-3zM136 24h2v6.5h-2zM140 24h2v6.5h-2zM147 24h4v6.5h-4zM152 24h1v6.5h-1zM154 24h5v6.5h-5zM160 24h2v6.5h-2z" fill="#ffffff"/>
<path d="M2 24h1v6.5h-1z" fill="#246cd2"/>
<path d="M5 24h1v6.5h-1zM11 24h1v6.5h-1zM51 24h1v6.5h-1zM75 24h1v6.5h-1zM93 24h1v6.5h-1zM109 24h1v6.5h-1z" fill="#4884d8"/>
<path d="M6 24h1v6.5h-1zM43 24h1v6.5h-1zM49 24h1v6.5h-1zM100 24h1v6.5h-1z" fill="#5a90de"/>
<path d="M9 24h1v6.5h-1zM14 24h2v6.5h-2zM30 24h1v6.5h-1zM44 24h2v6.5h-2zM72 24h1v6.5h-1zM92 24h1v6.5h-1zM139 24h1v6.5h-1zM159 24h1v6.5h-1z" fill="#ccdef6"/>
<path d="M10 24h1v6.5h-1zM89 24h1v6.5h-1zM103 24h1v6.5h-1zM114 24h1v6.5h-1z" fill="#6096de"/>
<path d="M12 24h1v6.5h-1z" fill="#4e8ad8"/>
<path d="M18 24h1v6.5h-1zM22 24h1v6.5h-1zM108 24h1v6.5h-1zM112 24h1v6.5h-1zM126 24h1v6.5h-1z" fill="#427ed8"/>
<path d="M19 24h1v6.5h-1z" fill="#4e84d8"/>
<path d="M20 24h1v6.5h-1zM62 24h1v6.5h-1zM116 24h1v6.5h-1z" fill="#6090de"/>
<path d="M21 24h1v6.5h-1zM59 24h2v6.5h-2zM80 24h1v6.5h-1z" fill="#a2c0ea"/>
<path d="M24 24h1v6.5h-1zM121 24h1v6.5h-1z" fill="#8ab4e4"/>
<path d="M27 24h1v6.5h-1zM76 24h1v6.5h-1zM81 24h1v6.5h-1zM95 24h1v6.5h-1zM125 24h1v6.5h-1zM153 24h1v6.5h-1z" fill="#c0d2f0"/>
<path d="M29 24h1v6.5h-1zM90 24h1v6.5h-1z" fill="#78a2e4"/>
<path d="M31 24h1v6.5h-1zM143 24h1v6.5h-1z" fill="#96b4ea"/>
<path d="M32 24h1v6.5h-1z" fill="#6c9ce4"/>
<path d="M35 24h1v6.5h-1z" fill="#729ce4"/>
<path d="M37 24h1v6.5h-1zM57 24h1v6.5h-1z" fill="#72a2e4"/>
<path d="M38 24h1v6.5h-1zM40 24h1v6.5h-1zM98 24h1v6.5h-1z" fill="#6696de"/>
<path d="M42 24h1v6.5h-1z" fill="#aeccf0"/>
<path d="M46 24h1v6.5h-1z" fill="#3678d8"/>
<path d="M47 24h1v6.5h-1zM52 24h1v6.5h-1zM77 24h1v6.5h-1zM86 24h1v6.5h-1zM97 24h1v6.5h-1zM104 24h1v6.5h-1z" fill="#d8e4f6"/>
<path d="M48 24h1v6.5h-1zM115 24h1v6.5h-1zM129 24h1v6.5h-1zM135 24h1v6.5h-1z" fill="#aec6f0"/>
<path d="M50 24h1v6.5h-1zM79 24h1v6.5h-1zM94 24h1v6.5h-1z" fill="#6c9cde"/>
<path d="M53 24h1v6.5h-1z" fill="#78a8e4"/>
<path d="M54 24h1v6.5h-1zM69 24h1v6.5h-1z" fill="#8aaee4"/>
<path d="M56 24h1v6.5h-1zM68 24h1v6.5h-1zM111 24h1v6.5h-1z" fill="#548ad8"/>
<path d="M63 24h1v6.5h-1z" fill="#84a8e4"/>
<path d="M67 24h1v6.5h-1z" fill="#7ea8e4"/>
<path d="M70 24h1v6.5h-1zM102 24h1v6.5h-1zM144 24h1v6.5h-1z" fill="#9cbaea"/>
<path d="M71 24h1v6.5h-1zM78 24h1v6.5h-1z" fill="#90b4e4"/>
<path d="M73 24h1v6.5h-1zM128 24h1v6.5h-1z" fill="#a8c6f0"/>
<path d="M82 24h1v6.5h-1zM146 24h1v6.5h-1z" fill="#96baea"/>
<path d="M85 24h1v6.5h-1z" fill="#ccd8f6"/>
<path d="M87 24h1v6.5h-1zM119 24h1v6.5h-1z" fill="#baccf0"/>
<path d="M91 24h1v6.5h-1zM106 24h1v6.5h-1z" fill="#3c78d8"/>
<path d="M96 24h1v6.5h-1zM123 24h1v6.5h-1z" fill="#d2e4f6"/>
<path d="M113 24h1v6.5h-1z" fill="#3678d2"/>
<path d="M118 24h1v6.5h-1z" fill="#d2def6"/>
<path d="M127 24h1v6.5h-1z" fill="#bad2f0"/>
<path d="M131 24h1v6.5h-1z" fill="#c6d8f0"/>
<path d="M138 24h1v6.5h-1z" fill="#deeafc"/>
<path d="M142 24h1v6.5h-1z" fill="#e4eafc"/>
<path d="M145 24h1v6.5h-1zM151 24h1v6.5h-1z" fill="#b4ccf0"/>
<path d="M0 30h4v6.5h-4zM6 30h1v6.5h-1zM8 30h1v6.5h-1zM11 30h1v6.5h-1zM13 30h2v6.5h-2zM17 30h1v6.5h-1zM22 30h4v6.5h-4zM29 30h3v6.5h-3zM34 30h3v6.5h-3zM38 30h1v6.5h-1zM42 30h2v6.5h-2zM46 30h4v6.5h-4zM52 30h2v6.5h-2zM56 30h2v6.5h-2zM59 30h1v6.5h-1zM62 30h1v6.5h-1zM70 30h1v6.5h-1zM73 30h3v6.5h-3zM78 30h2v6.5h-2zM81 30h1v6.5h-1zM85 30h3v6.5h-3zM89 30h3v6.5h-3zM94 30h2v6.5h-2zM99 30h2v6.5h-2zM105 30h1v6.5h-1zM115 30h1v6.5h-1zM119 30h2v6.5h-2zM122 30h1v6.5h-1zM125 30h1v6.5h-1zM129 30h1v6.5h-1zM131 30h2v6.5h-2zM136 30h4v6.5h-4zM141 30h1v6.5h-1zM143 30h1v6.5h-1zM146 30h1v6.5h-1zM148 30h1v6.5h-1zM150 30h2v6.5h-2zM157 30h1v6.5h-1zM160 30h2v6.5h-2z" fill="#ffffff"/>
<path d="M4 30h1v6.5h-1zM10 30h1v6.5h-1zM16 30h1v6.5h-1zM20 30h1v6.5h-1zM50 30h1v6.5h-1zM64 30h1v6.5h-1zM83 30h1v6.5h-1zM98 30h1v6.5h-1zM111 30h1v6.5h-1zM124 30h1v6.5h-1z" fill="#fceaf6"/>
<path d="M5 30h1v6.5h-1zM7 30h1v6.5h-1zM12 30h1v6.5h-1zM19 30h1v6.5h-1zM51 30h1v6.5h-1zM60 30h1v6.5h-1zM66 30h1v6.5h-1zM76 30h1v6.5h-1zM82 30h1v6.5h-1zM93 30h1v6.5h-1zM103 30h2v6.5h-2zM109 30h1v6.5h-1zM113 30h1v6.5h-1zM118 30h1v6.5h-1zM123 30h1v6.5h-1zM130 30h1v6.5h-1zM135 30h1v6.5h-1zM142 30h1v6.5h-1zM147 30h1v6.5h-1zM152 30h1v6.5h-1z" fill="#fcf0f6"/>
<path d="M9 30h1v6.5h-1zM54 30h1v6.5h-1z" fill="#fceaf0"/>
<path d="M15 30h1v6.5h-1zM21 30h1v6.5h-1zM33 30h1v6.5h-1zM67 30h1v6.5h-1zM97 30h1v6.5h-1zM108 30h1v6.5h-1zM112 30h1v6.5h-1zM155 30h1v6.5h-1z" fill="#fcf6fc"/>
<path d="M18 30h1v6.5h-1zM26 30h1v6.5h-1zM37 30h1v6.5h-1zM68 30h2v6.5h-2zM72 30h1v6.5h-1zM84 30h1v6.5h-1zM92 30h1v6.5h-1zM101 30h1v6.5h-1zM107 30h1v6.5h-1zM114 30h1v6.5h-1zM116 30h2v6.5h-2zM134 30h1v6.5h-1zM140 30h1v6.5h-1zM145 30h1v6.5h-1z" fill="#fcdef0"/>
<path d="M27 30h1v6.5h-1zM39 30h3v6.5h-3zM44 30h1v6.5h-1zM61 30h1v6.5h-1zM71 30h1v6.5h-1zM106 30h1v6.5h-1zM121 30h1v6.5h-1zM127 30h2v6.5h-2zM149 30h1v6.5h-1zM153 30h2v6.5h-2zM158 30h1v6.5h-1z" fill="#fce4f0"/>
<path d="M28 30h1v6.5h-1zM32 30h1v6.5h-1zM159 30h1v6.5h-1z" fill="#fcf0fc"/>
<path d="M45 30h1v6.5h-1zM55 30h1v6.5h-1zM65 30h1v6.5h-1zM77 30h1v6.5h-1zM96 30h1v6.5h-1zM102 30h1v6.5h-1zM133 30h1v6.5h-1z" fill="#fcd8ea"/>
<path d="M58 30h1v6.5h-1zM63 30h1v6.5h-1zM80 30h1v6.5h-1zM88 30h1v6.5h-1zM110 30h1v6.5h-1zM126 30h1v6.5h-1zM144 30h1v6.5h-1zM156 30h1v6.5h-1z" fill="#fcd8f0"/>
<path d="M0 36h1v6.5h-1z" fill="#cc4296"/>
<path d="M1 36h1v6.5h-1z" fill="#fc90c6"/>
<path d="M2 36h1v6.5h-1zM4 36h1v6.5h-1zM8 36h2v6.5h-2zM11 36h1v6.5h-1zM13 36h1v6.5h-1zM15 36h1v6.5h-1zM17 36h1v6.5h-1zM27 36h1v6.5h-1zM30 36h1v6.5h-1zM34 36h2v6.5h-2zM38 36h3v6.5h-3zM43 36h1v6.5h-1zM45 36h1v6.5h-1zM52 36h2v6.5h-2zM56 36h2v6.5h-2zM64 36h4v6.5h-4zM69 36h1v6.5h-1zM75 36h2v6.5h-2zM79 36h1v6.5h-1zM84 36h5v6.5h-5zM96 36h2v6.5h-2zM100 36h1v6.5h-1zM102 36h1v6.5h-1zM104 36h1v6.5h-1zM106 36h1v6.5h-1zM112 36h3v6.5h-3zM117 36h3v6.5h-3zM121 36h1v6.5h-1zM131 36h1v6.5h-1zM133 36h2v6.5h-2zM143 36h2v6.5h-2zM149 36h1v6.5h-1zM153 36h3v6.5h-3zM158 36h1v6.5h-1z" fill="#ffffff"/>
<path d="M3 36h1v6.5h-1zM20 36h1v6.5h-1zM23 36h1v6.5h-1zM42 36h1v6.5h-1zM63 36h1v6.5h-1zM78 36h1v6.5h-1zM92 36h2v6.5h-2zM99 36h1v6.5h-1zM103 36h1v6.5h-1z" fill="#fcdef0"/>
<path d="M5 36h1v6.5h-1zM14 36h1v6.5h-1zM18 36h1v6.5h-1zM26 36h1v6.5h-1zM29 36h1v6.5h-1zM48 36h1v6.5h-1zM51 36h1v6.5h-1zM60 36h2v6.5h-2zM80 36h1v6.5h-1zM89 36h1v6.5h-1zM98 36h1v6.5h-1zM122 36h1v6.5h-1zM137 36h3v6.5h-3z" fill="#fcf0f6"/>
<path d="M6 36h1v6.5h-1z" fill="#fcd8f0"/>
<path d="M7 36h1v6.5h-1zM19 36h1v6.5h-1zM32 36h1v6.5h-1zM36 36h1v6.5h-1zM50 36h1v6.5h-1zM58 36h1v6.5h-1zM71 36h1v6.5h-1zM73 36h1v6.5h-1zM109 36h1v6.5h-1zM115 36h1v6.5h-1zM126 36h1v6.5h-1zM128 36h1v6.5h-1zM132 36h1v6.5h-1zM147 36h1v6.5h-1zM160 36h2v6.5h-2z" fill="#fccce4"/>
<path d="M10 36h1v6.5h-1zM12 36h1v6.5h-1zM25 36h1v6.5h-1zM33 36h1v6.5h-1zM55 36h1v6.5h-1zM77 36h1v6.5h-1zM83 36h1v6.5h-1zM105 36h1v6.5h-1zM116 36h1v6.5h-1zM130 36h1v6.5h-1zM140 36h1v6.5h-1zM152 36h1v6.5h-1z" fill="#fceaf6"/>
<path d="M16 36h1v6.5h-1zM22 36h1v6.5h-1zM44 36h1v6.5h-1zM72 36h1v6.5h-1zM81 36h1v6.5h-1zM120 36h1v6.5h-1zM135 36h1v6.5h-1zM145 36h2v6.5h-2zM148 36h1v6.5h-1z" fill="#fcd8ea"/>
<path d="M21 36h1v6.5h-1zM31 36h1v6.5h-1zM37 36h1v6.5h-1zM41 36h1v6.5h-1zM46 36h2v6.5h-2zM49 36h1v6.5h-1zM59 36h1v6.5h-1zM68 36h1v6.5h-1zM70 36h1v6.5h-1zM74 36h1v6.5h-1zM82 36h1v6.5h-1zM90 36h2v6.5h-2zM101 36h1v6.5h-1zM110 36h2v6.5h-2zM123 36h3v6.5h-3zM127 36h1v6.5h-1zM136 36h1v6.5h-1zM142 36h1v6.5h-1zM157 36h1v6.5h-1zM159 36h1v6.5h-1z" fill="#fce4f0"/>
<path d="M24 36h1v6.5h-1zM54 36h1v6.5h-1zM62 36h1v6.5h-1zM94 36h2v6.5h-2zM107 36h2v6.5h-2zM129 36h1v6.5h-1zM141 36h1v6.5h-1zM150 36h2v6.5h-2zM156 36h1v6.5h-1z" fill="#fcd2ea"/>
<path d="M28 36h1v6.5h-1z" fill="#fceaf0"/>
<rect x="2" y="42" width="160" height="6.5" fill="#ffa6d3"/>
<path d="M0 42h1v6.5h-1z" fill="#cc3690"/>
<path d="M1 42h1v6.5h-1z" fill="#fc6cb4"/>
<rect x="2" y="48" width="13" height="6.5" fill="#ffffff"/>
<rect x="16" y="48" width="23" height="6.5" fill="#ffffff"/>
<rect x="62" y="48" width="13" height="6.5" fill="#ffffff"/>
<rect x="76" y="48" width="7" height="6.5" fill="#ffffff"/>
<rect x="143" y="48" width="13" height="6.5" fill="#ffffff"/>
<path d="M0 48h1v6.5h-1z" fill="#cc4e9c"/>
<path d="M1 48h1v6.5h-1z" fill="#fca8d2"/>
<path d="M15 48h1v6.5h-1zM52 48h1v6.5h-1z" fill="#fcf0f6"/>
<path d="M39 48h1v6.5h-1zM42 48h1v6.5h-1zM54 48h1v6.5h-1zM93 48h2v6.5h-2zM120 48h1v6.5h-1zM134 48h1v6.5h-1z" fill="#fcc6e4"/>
<path d="M40 48h1v6.5h-1zM43 48h2v6.5h-2zM48 48h1v6.5h-1zM50 48h1v6.5h-1zM59 48h2v6.5h-2zM84 48h1v6.5h-1zM86 48h1v6.5h-1zM91 48h1v6.5h-1zM96 48h3v6.5h-3zM100 48h1v6.5h-1zM104 48h2v6.5h-2zM107 48h1v6.5h-1zM114 48h2v6.5h-2zM118 48h1v6.5h-1zM122 48h1v6.5h-1zM125 48h2v6.5h-2zM128 48h1v6.5h-1zM130 48h3v6.5h-3zM135 48h1v6.5h-1zM137 48h5v6.5h-5zM158 48h4v6.5h-4z" fill="#ffffff"/>
<path d="M41 48h1v6.5h-1zM45 48h1v6.5h-1zM57 48h1v6.5h-1zM101 48h1v6.5h-1zM108 48h1v6.5h-1zM127 48h1v6.5h-1zM133 48h1v6.5h-1zM156 48h1v6.5h-1z" fill="#fce4f0"/>
<path d="M46 48h1v6.5h-1zM53 48h1v6.5h-1zM110 48h1v6.5h-1zM121 48h1v6.5h-1z" fill="#fcd8ea"/>
<path d="M47 48h1v6.5h-1zM88 48h1v6.5h-1z" fill="#fcc0e4"/>
<path d="M49 48h1v6.5h-1zM55 48h1v6.5h-1zM92 48h1v6.5h-1zM111 48h1v6.5h-1zM123 48h1v6.5h-1z" fill="#fcd2ea"/>
<path d="M51 48h1v6.5h-1zM87 48h1v6.5h-1zM89 48h2v6.5h-2zM95 48h1v6.5h-1zM99 48h1v6.5h-1zM102 48h2v6.5h-2zM106 48h1v6.5h-1zM112 48h1v6.5h-1zM116 48h1v6.5h-1zM129 48h1v6.5h-1z" fill="#fccce4"/>
<path d="M56 48h1v6.5h-1zM58 48h1v6.5h-1zM75 48h1v6.5h-1zM83 48h1v6.5h-1zM85 48h1v6.5h-1zM109 48h1v6.5h-1zM136 48h1v6.5h-1z" fill="#fceaf6"/>
<path d="M61 48h1v6.5h-1zM117 48h1v6.5h-1z" fill="#fcdef0"/>
<path d="M113 48h1v6.5h-1zM124 48h1v6.5h-1z" fill="#fcc0de"/>
<path d="M119 48h1v6.5h-1z" fill="#fcd8f0"/>
<path d="M142 48h1v6.5h-1zM157 48h1v6.5h-1z" fill="#fcf6fc"/>
<rect x="5" y="54" width="11" height="6.5" fill="#ffffff"/>
<rect x="19" y="54" width="19" height="6.5" fill="#ffffff"/>
<rect x="39" y="54" width="16" height="6.5" fill="#ffffff"/>
<rect x="61" y="54" width="6" height="6.5" fill="#ffffff"/>
<rect x="68" y="54" width="38" height="6.5" fill="#ffffff"/>
<rect x="107" y="54" width="6" height="6.5" fill="#ffffff"/>
<rect x="151" y="54" width="11" height="6.5" fill="#ffffff"/>
<path d="M0 54h1v6.5h-1z" fill="#cc4e9c"/>
<path d="M1 54h1v6.5h-1z" fill="#fca8d2"/>
<path d="M2 54h2v6.5h-2zM17 54h1v6.5h-1zM56 54h4v6.5h-4zM114 54h2v6.5h-2zM117 54h1v6.5h-1zM120 54h1v6.5h-1zM122 54h5v6.5h-5zM128 54h5v6.5h-5zM136 54h3v6.5h-3zM141 54h4v6.5h-4zM146 54h4v6.5h-4z" fill="#ffffff"/>
<path d="M4 54h1v6.5h-1zM38 54h1v6.5h-1zM55 54h1v6.5h-1zM67 54h1v6.5h-1zM119 54h1v6.5h-1zM133 54h1v6.5h-1zM135 54h1v6.5h-1zM150 54h1v6.5h-1z" fill="#fcf0f6"/>
<path d="M16 54h1v6.5h-1zM18 54h1v6.5h-1zM60 54h1v6.5h-1zM118 54h1v6.5h-1z" fill="#fcf6fc"/>
<path d="M106 54h1v6.5h-1zM113 54h1v6.5h-1zM116 54h1v6.5h-1zM127 54h1v6.5h-1zM140 54h1v6.5h-1zM145 54h1v6.5h-1z" fill="#fce4f0"/>
<path d="M121 54h1v6.5h-1zM134 54h1v6.5h-1zM139 54h1v6.5h-1z" fill="#fceaf6"/>
<rect x="4" y="60" width="11" height="6.5" fill="#f20482"/>
<rect x="16" y="60" width="13" height="6.5" fill="#f20482"/>
<rect x="60" y="60" width="8" height="6.5" fill="#f20482"/>
<rect x="130" y="60" width="7" height="6.5" fill="#f20482"/>
<rect x="144" y="60" width="6" height="6.5" fill="#f20482"/>
<rect x="151" y="60" width="7" height="6.5" fill="#f20482"/>
<path d="M0 60h1v6.5h-1z" fill="#cc4296"/>
<path d="M1 60h1v6.5h-1z" fill="#fc8ac6"/>
<path d="M2 60h2v6.5h-2z" fill="#fc78ba"/>
<path d="M15 60h1v6.5h-1zM99 60h1v6.5h-1zM123 60h1v6.5h-1z" fill="#f61e90"/>
<path d="M29 60h1v6.5h-1zM70 60h1v6.5h-1z" fill="#f6188a"/>
<path d="M30 60h1v6.5h-1z" fill="#f0188a"/>
<path d="M31 60h1v6.5h-1zM88 60h1v6.5h-1zM106 60h1v6.5h-1zM118 60h1v6.5h-1z" fill="#8a4284"/>
<path d="M32 60h1v6.5h-1zM46 60h1v6.5h-1zM48 60h1v6.5h-1zM91 60h1v6.5h-1zM110 60h1v6.5h-1z" fill="#486c84"/>
<path d="M33 60h1v6.5h-1zM117 60h1v6.5h-1z" fill="#784e84"/>
<path d="M34 60h1v6.5h-1zM36 60h1v6.5h-1z" fill="#606084"/>
<path d="M35 60h1v6.5h-1zM55 60h1v6.5h-1zM107 60h1v6.5h-1z" fill="#7e4884"/>
<path d="M37 60h5v6.5h-5zM49 60h3v6.5h-3zM56 60h3v6.5h-3zM69 60h1v6.5h-1zM71 60h5v6.5h-5zM77 60h3v6.5h-3zM81 60h3v6.5h-3zM86 60h2v6.5h-2zM92 60h1v6.5h-1zM98 60h1v6.5h-1zM101 60h1v6.5h-1zM103 60h1v6.5h-1zM108 60h1v6.5h-1zM111 60h2v6.5h-2zM121 60h2v6.5h-2zM124 60h5v6.5h-5zM138 60h1v6.5h-1zM141 60h2v6.5h-2zM159 60h3v6.5h-3z" fill="#f20482"/>
<path d="M42 60h1v6.5h-1zM47 60h1v6.5h-1zM104 60h1v6.5h-1z" fill="#605a84"/>
<path d="M43 60h1v6.5h-1z" fill="#845a90"/>
<path d="M44 60h1v6.5h-1z" fill="#6c608a"/>
<path d="M45 60h1v6.5h-1z" fill="#546084"/>
<path d="M52 60h2v6.5h-2z" fill="#904284"/>
<path d="M54 60h1v6.5h-1zM100 60h1v6.5h-1z" fill="#546684"/>
<path d="M59 60h1v6.5h-1zM158 60h1v6.5h-1z" fill="#f63c9c"/>
<path d="M68 60h1v6.5h-1z" fill="#f6309c"/>
<path d="M76 60h1v6.5h-1zM139 60h1v6.5h-1zM150 60h1v6.5h-1z" fill="#f63096"/>
<path d="M80 60h1v6.5h-1zM85 60h1v6.5h-1zM97 60h1v6.5h-1zM143 60h1v6.5h-1z" fill="#f6369c"/>
<path d="M84 60h1v6.5h-1zM105 60h1v6.5h-1z" fill="#f62a96"/>
<path d="M89 60h1v6.5h-1z" fill="#30788a"/>
<path d="M90 60h1v6.5h-1z" fill="#5a6084"/>
<path d="M93 60h1v6.5h-1z" fill="#665a84"/>
<path d="M94 60h1v6.5h-1z" fill="#4e6c84"/>
<path d="M95 60h1v6.5h-1z" fill="#844884"/>
<path d="M96 60h1v6.5h-1z" fill="#48788a"/>
<path d="M102 60h1v6.5h-1z" fill="#3c788a"/>
<path d="M109 60h1v6.5h-1z" fill="#785484"/>
<path d="M113 60h1v6.5h-1z" fill="#725484"/>
<path d="M114 60h1v6.5h-1z" fill="#4e6684"/>
<path d="M115 60h1v6.5h-1z" fill="#84548a"/>
<path d="M116 60h1v6.5h-1zM119 60h1v6.5h-1z" fill="#7e4e84"/>
<path d="M120 60h1v6.5h-1z" fill="#6c5484"/>
<path d="M129 60h1v6.5h-1z" fill="#f62496"/>
<path d="M137 60h1v6.5h-1z" fill="#f61890"/>
<path d="M140 60h1v6.5h-1z" fill="#f62490"/>
<rect x="20" y="66" width="11" height="6.5" fill="#f20482"/>
<rect x="59" y="66" width="29" height="6.5" fill="#f20482"/>
<rect x="128" y="66" width="34" height="6.5" fill="#f20482"/>
<path d="M0 66h1v6.5h-1z" fill="#cc4296"/>
<path d="M1 66h1v6.5h-1z" fill="#fc8ac6"/>
<path d="M2 66h2v6.5h-2z" fill="#fc78ba"/>
<path d="M4 66h1v6.5h-1z" fill="#f6369c"/>
<path d="M5 66h3v6.5h-3zM9 66h4v6.5h-4zM16 66h3v6.5h-3zM37 66h1v6.5h-1zM40 66h2v6.5h-2zM50 66h2v6.5h-2zM57 66h1v6.5h-1zM92 66h1v6.5h-1zM97 66h1v6.5h-1zM99 66h1v6.5h-1zM101 66h1v6.5h-1zM103 66h1v6.5h-1zM105 66h1v6.5h-1zM108 66h1v6.5h-1zM112 66h1v6.5h-1zM121 66h3v6.5h-3zM126 66h1v6.5h-1z" fill="#f20482"/>
<path d="M8 66h1v6.5h-1zM19 66h1v6.5h-1z" fill="#f62490"/>
<path d="M13 66h1v6.5h-1zM125 66h1v6.5h-1z" fill="#f6309c"/>
<path d="M14 66h2v6.5h-2z" fill="#f62a96"/>
<path d="M31 66h1v6.5h-1z" fill="#8a4284"/>
<path d="M32 66h1v6.5h-1zM48 66h1v6.5h-1zM96 66h1v6.5h-1zM110 66h1v6.5h-1z" fill="#486c84"/>
<path d="M33 66h1v6.5h-1z" fill="#784e84"/>
<path d="M34 66h1v6.5h-1zM36 66h1v6.5h-1z" fill="#606084"/>
<path d="M35 66h1v6.5h-1zM55 66h1v6.5h-1zM107 66h1v6.5h-1zM115 66h1v6.5h-1z" fill="#7e4884"/>
<path d="M38 66h1v6.5h-1zM49 66h1v6.5h-1zM111 66h1v6.5h-1z" fill="#f0188a"/>
<path d="M39 66h1v6.5h-1zM127 66h1v6.5h-1z" fill="#f61890"/>
<path d="M42 66h1v6.5h-1zM47 66h1v6.5h-1z" fill="#605a84"/>
<path d="M43 66h1v6.5h-1zM95 66h1v6.5h-1z" fill="#844884"/>
<path d="M44 66h1v6.5h-1z" fill="#6c6690"/>
<path d="M45 66h1v6.5h-1z" fill="#546084"/>
<path d="M46 66h1v6.5h-1zM94 66h1v6.5h-1z" fill="#4e6c8a"/>
<path d="M52 66h2v6.5h-2z" fill="#904284"/>
<path d="M54 66h1v6.5h-1z" fill="#546684"/>
<path d="M56 66h1v6.5h-1zM58 66h1v6.5h-1zM98 66h1v6.5h-1z" fill="#f61e90"/>
<path d="M88 66h1v6.5h-1z" fill="#8a548a"/>
<path d="M89 66h1v6.5h-1z" fill="#30848a"/>
<path d="M90 66h1v6.5h-1z" fill="#606c90"/>
<path d="M91 66h1v6.5h-1z" fill="#48788a"/>
<path d="M93 66h1v6.5h-1z" fill="#6c6c90"/>
<path d="M100 66h1v6.5h-1z" fill="#547290"/>
<path d="M102 66h1v6.5h-1z" fill="#3c788a"/>
<path d="M104 66h1v6.5h-1z" fill="#66608a"/>
<path d="M106 66h1v6.5h-1z" fill="#906090"/>
<path d="M109 66h1v6.5h-1zM117 66h1v6.5h-1z" fill="#786090"/>
<path d="M113 66h1v6.5h-1z" fill="#725484"/>
<path d="M114 66h1v6.5h-1z" fill="#4e6684"/>
<path d="M116 66h1v6.5h-1zM119 66h1v6.5h-1z" fill="#7e4e84"/>
<path d="M118 66h1v6.5h-1z" fill="#904e8a"/>
<path d="M120 66h1v6.5h-1z" fill="#6c5484"/>
<path d="M124 66h1v6.5h-1z" fill="#f6188a"/>
<rect x="0" y="72" width="18" height="6.5" fill="#ffffff"/>
<rect x="19" y="72" width="12" height="6.5" fill="#ffffff"/>
<rect x="56" y="72" width="16" height="6.5" fill="#ffffff"/>
<rect x="73" y="72" width="15" height="6.5" fill="#ffffff"/>
<rect x="121" y="72" width="35" height="6.5" fill="#ffffff"/>
<path d="M18 72h1v6.5h-1z" fill="#fcf0fc"/>
<path d="M31 72h1v6.5h-1zM53 72h1v6.5h-1zM88 72h1v6.5h-1zM106 72h1v6.5h-1zM118 72h1v6.5h-1z" fill="#78c6c0"/>
<path d="M32 72h1v6.5h-1zM48 72h1v6.5h-1zM96 72h1v6.5h-1zM110 72h1v6.5h-1z" fill="#1ea296"/>
<path d="M33 72h1v6.5h-1z" fill="#60bab4"/>
<path d="M34 72h1v6.5h-1zM90 72h1v6.5h-1z" fill="#3caea2"/>
<path d="M35 72h1v6.5h-1zM43 72h1v6.5h-1zM55 72h1v6.5h-1zM107 72h1v6.5h-1zM115 72h1v6.5h-1z" fill="#6cc0ba"/>
<path d="M36 72h1v6.5h-1zM42 72h1v6.5h-1zM47 72h1v6.5h-1zM104 72h1v6.5h-1z" fill="#42b4a8"/>
<path d="M37 72h5v6.5h-5zM49 72h3v6.5h-3zM92 72h1v6.5h-1zM97 72h1v6.5h-1zM99 72h1v6.5h-1zM101 72h1v6.5h-1zM103 72h1v6.5h-1zM105 72h1v6.5h-1zM108 72h1v6.5h-1zM111 72h2v6.5h-2zM157 72h5v6.5h-5z" fill="#ffffff"/>
<path d="M44 72h1v6.5h-1z" fill="#48b4a8"/>
<path d="M45 72h1v6.5h-1zM54 72h1v6.5h-1z" fill="#30a89c"/>
<path d="M46 72h1v6.5h-1z" fill="#24a896"/>
<path d="M52 72h1v6.5h-1z" fill="#90c6c6"/>
<path d="M72 72h1v6.5h-1zM156 72h1v6.5h-1z" fill="#fcf0f6"/>
<path d="M89 72h1v6.5h-1z" fill="#009684"/>
<path d="M91 72h1v6.5h-1z" fill="#1ea290"/>
<path d="M93 72h1v6.5h-1z" fill="#60b4ae"/>
<path d="M94 72h1v6.5h-1z" fill="#24a89c"/>
<path d="M95 72h1v6.5h-1z" fill="#72c6ba"/>
<path d="M98 72h1v6.5h-1z" fill="#fceaf6"/>
<path d="M100 72h1v6.5h-1z" fill="#54a8a8"/>
<path d="M102 72h1v6.5h-1z" fill="#0c9c8a"/>
<path d="M109 72h1v6.5h-1zM117 72h1v6.5h-1z" fill="#5abab4"/>
<path d="M113 72h1v6.5h-1z" fill="#6cb4b4"/>
<path d="M114 72h1v6.5h-1z" fill="#2aa89c"/>
<path d="M116 72h1v6.5h-1zM119 72h1v6.5h-1z" fill="#66c0b4"/>
<path d="M120 72h1v6.5h-1z" fill="#54b4ae"/>
<rect x="0" y="78" width="162" height="6.5" fill="#ffffff"/>
<rect x="152" y="84" width="7" height="6.5" fill="#ffffff"/>
<path d="M0 84h1v6.5h-1zM55 84h1v6.5h-1zM99 84h1v6.5h-1z" fill="#3072d2"/>
<path d="M1 84h1v6.5h-1zM68 84h1v6.5h-1zM111 84h1v6.5h-1z" fill="#548ad8"/>
<path d="M2 84h1v6.5h-1z" fill="#2a72d2"/>
<path d="M3 84h1v6.5h-1zM20 84h1v6.5h-1zM40 84h1v6.5h-1z" fill="#6090de"/>
<path d="M4 84h1v6.5h-1zM6 84h1v6.5h-1zM43 84h1v6.5h-1zM100 84h1v6.5h-1zM123 84h1v6.5h-1z" fill="#5a90de"/>
<path d="M5 84h1v6.5h-1zM7 84h2v6.5h-2zM10 84h1v6.5h-1zM15 84h4v6.5h-4zM23 84h1v6.5h-1zM25 84h2v6.5h-2zM28 84h1v6.5h-1zM33 84h2v6.5h-2zM36 84h1v6.5h-1zM39 84h1v6.5h-1zM41 84h1v6.5h-1zM44 84h1v6.5h-1zM47 84h1v6.5h-1zM49 84h1v6.5h-1zM61 84h2v6.5h-2zM64 84h3v6.5h-3zM70 84h1v6.5h-1zM74 84h1v6.5h-1zM83 84h2v6.5h-2zM88 84h1v6.5h-1zM101 84h1v6.5h-1zM105 84h1v6.5h-1zM107 84h2v6.5h-2zM110 84h1v6.5h-1zM114 84h1v6.5h-1zM117 84h1v6.5h-1zM120 84h1v6.5h-1zM122 84h1v6.5h-1zM124 84h1v6.5h-1zM132 84h3v6.5h-3zM139 84h3v6.5h-3zM147 84h1v6.5h-1zM149 84h2v6.5h-2zM160 84h2v6.5h-2z" fill="#ffffff"/>
<path d="M9 84h1v6.5h-1z" fill="#c0d8f0"/>
<path d="M11 84h1v6.5h-1zM14 84h1v6.5h-1zM75 84h1v6.5h-1zM93 84h1v6.5h-1zM109 84h1v6.5h-1z" fill="#4884d8"/>
<path d="M12 84h1v6.5h-1z" fill="#4e8ad8"/>
<path d="M13 84h1v6.5h-1zM130 84h2v6.5h-2zM148 84h1v6.5h-1z" fill="#c6d8f0"/>
<path d="M19 84h1v6.5h-1z" fill="#4e84d8"/>
<path d="M21 84h1v6.5h-1zM59 84h2v6.5h-2zM80 84h1v6.5h-1zM137 84h1v6.5h-1z" fill="#a2c0ea"/>
<path d="M22 84h1v6.5h-1zM112 84h1v6.5h-1zM126 84h1v6.5h-1z" fill="#427ed8"/>
<path d="M24 84h1v6.5h-1zM48 84h1v6.5h-1zM115 84h1v6.5h-1zM135 84h1v6.5h-1z" fill="#aec6f0"/>
<path d="M27 84h1v6.5h-1zM76 84h1v6.5h-1zM81 84h1v6.5h-1zM95 84h1v6.5h-1z" fill="#c0d2f0"/>
<path d="M29 84h1v6.5h-1z" fill="#3c7ed8"/>
<path d="M30 84h1v6.5h-1zM58 84h1v6.5h-1zM91 84h1v6.5h-1zM106 84h1v6.5h-1z" fill="#3c78d8"/>
<path d="M31 84h1v6.5h-1zM143 84h1v6.5h-1z" fill="#96b4ea"/>
<path d="M32 84h1v6.5h-1zM125 84h1v6.5h-1z" fill="#6c9ce4"/>
<path d="M35 84h1v6.5h-1zM63 84h1v6.5h-1z" fill="#729ce4"/>
<path d="M37 84h1v6.5h-1z" fill="#72a2e4"/>
<path d="M38 84h1v6.5h-1zM98 84h1v6.5h-1z" fill="#6696de"/>
<path d="M42 84h1v6.5h-1zM71 84h1v6.5h-1zM78 84h1v6.5h-1z" fill="#90b4e4"/>
<path d="M45 84h1v6.5h-1zM67 84h1v6.5h-1zM72 84h1v6.5h-1zM92 84h1v6.5h-1zM159 84h1v6.5h-1z" fill="#ccdef6"/>
<path d="M46 84h1v6.5h-1zM56 84h1v6.5h-1z" fill="#3678d8"/>
<path d="M50 84h1v6.5h-1z" fill="#6c9cde"/>
<path d="M51 84h2v6.5h-2zM77 84h1v6.5h-1zM86 84h1v6.5h-1zM90 84h1v6.5h-1zM97 84h1v6.5h-1zM104 84h1v6.5h-1z" fill="#d8e4f6"/>
<path d="M53 84h1v6.5h-1z" fill="#78a8e4"/>
<path d="M54 84h1v6.5h-1z" fill="#8aaee4"/>
<path d="M57 84h1v6.5h-1zM96 84h1v6.5h-1z" fill="#d2e4f6"/>
<path d="M69 84h1v6.5h-1z" fill="#7ea8e4"/>
<path d="M73 84h1v6.5h-1zM121 84h1v6.5h-1zM128 84h1v6.5h-1zM136 84h1v6.5h-1z" fill="#a8c6f0"/>
<path d="M79 84h1v6.5h-1zM102 84h1v6.5h-1zM144 84h1v6.5h-1z" fill="#9cbaea"/>
<path d="M82 84h1v6.5h-1zM85 84h1v6.5h-1zM146 84h1v6.5h-1z" fill="#96baea"/>
<path d="M87 84h1v6.5h-1zM119 84h1v6.5h-1z" fill="#baccf0"/>
<path d="M89 84h1v6.5h-1zM103 84h1v6.5h-1z" fill="#6096de"/>
<path d="M94 84h1v6.5h-1zM118 84h1v6.5h-1z" fill="#d2def6"/>
<path d="M113 84h1v6.5h-1z" fill="#3678d2"/>
<path d="M116 84h1v6.5h-1zM127 84h1v6.5h-1z" fill="#bad2f0"/>
<path d="M129 84h1v6.5h-1z" fill="#9cc0ea"/>
<path d="M138 84h1v6.5h-1z" fill="#deeafc"/>
<path d="M142 84h1v6.5h-1z" fill="#e4eafc"/>
<path d="M145 84h1v6.5h-1zM151 84h1v6.5h-1z" fill="#b4ccf0"/>
<path d="M0 90h1v6.5h-1zM6 90h1v6.5h-1zM10 90h1v6.5h-1zM20 90h1v6.5h-1zM32 90h1v6.5h-1zM36 90h1v6.5h-1zM51 90h2v6.5h-2zM58 90h1v6.5h-1zM89 90h1v6.5h-1zM113 90h1v6.5h-1zM126 90h1v6.5h-1zM140 90h1v6.5h-1zM148 90h1v6.5h-1zM153 90h1v6.5h-1z" fill="#fcc6e4"/>
<path d="M1 90h5v6.5h-5zM16 90h1v6.5h-1zM22 90h2v6.5h-2zM26 90h3v6.5h-3zM31 90h1v6.5h-1zM34 90h2v6.5h-2zM37 90h1v6.5h-1zM40 90h1v6.5h-1zM44 90h1v6.5h-1zM46 90h2v6.5h-2zM50 90h1v6.5h-1zM53 90h2v6.5h-2zM57 90h1v6.5h-1zM60 90h3v6.5h-3zM67 90h1v6.5h-1zM71 90h1v6.5h-1zM73 90h1v6.5h-1zM75 90h3v6.5h-3zM79 90h1v6.5h-1zM82 90h1v6.5h-1zM86 90h2v6.5h-2zM91 90h1v6.5h-1zM94 90h1v6.5h-1zM96 90h1v6.5h-1zM98 90h1v6.5h-1zM102 90h1v6.5h-1zM109 90h1v6.5h-1zM111 90h1v6.5h-1zM114 90h2v6.5h-2zM117 90h2v6.5h-2zM121 90h3v6.5h-3zM129 90h1v6.5h-1zM134 90h1v6.5h-1zM141 90h1v6.5h-1zM146 90h2v6.5h-2zM150 90h3v6.5h-3zM157 90h1v6.5h-1zM160 90h2v6.5h-2z" fill="#ffffff"/>
<path d="M7 90h1v6.5h-1zM15 90h1v6.5h-1zM21 90h1v6.5h-1zM30 90h1v6.5h-1zM42 90h1v6.5h-1zM80 90h1v6.5h-1z" fill="#fcc0e4"/>
<path d="M8 90h1v6.5h-1zM14 90h1v6.5h-1zM25 90h1v6.5h-1zM39 90h1v6.5h-1zM43 90h1v6.5h-1zM65 90h2v6.5h-2zM85 90h1v6.5h-1zM92 90h1v6.5h-1zM128 90h1v6.5h-1zM143 90h1v6.5h-1zM145 90h1v6.5h-1z" fill="#fceaf6"/>
<path d="M9 90h1v6.5h-1zM11 90h2v6.5h-2zM18 90h2v6.5h-2zM83 90h1v6.5h-1zM101 90h1v6.5h-1zM105 90h1v6.5h-1zM125 90h1v6.5h-1zM133 90h1v6.5h-1zM135 90h1v6.5h-1zM142 90h1v6.5h-1zM155 90h1v6.5h-1zM158 90h1v6.5h-1z" fill="#fcd8ea"/>
<path d="M13 90h1v6.5h-1zM41 90h1v6.5h-1zM49 90h1v6.5h-1zM55 90h1v6.5h-1zM100 90h1v6.5h-1zM104 90h1v6.5h-1zM120 90h1v6.5h-1z" fill="#fccce4"/>
<path d="M17 90h1v6.5h-1zM136 90h1v6.5h-1zM138 90h1v6.5h-1z" fill="#fcd2ea"/>
<path d="M24 90h1v6.5h-1zM68 90h1v6.5h-1zM99 90h1v6.5h-1zM106 90h2v6.5h-2z" fill="#fcd8f0"/>
<path d="M29 90h1v6.5h-1z" fill="#ded8f6"/>
<path d="M33 90h1v6.5h-1zM116 90h1v6.5h-1z" fill="#fcc0de"/>
<path d="M38 90h1v6.5h-1zM48 90h1v6.5h-1zM59 90h1v6.5h-1zM70 90h1v6.5h-1zM78 90h1v6.5h-1zM90 90h1v6.5h-1zM93 90h1v6.5h-1zM108 90h1v6.5h-1zM119 90h1v6.5h-1zM137 90h1v6.5h-1zM154 90h1v6.5h-1zM156 90h1v6.5h-1zM159 90h1v6.5h-1z" fill="#fcdef0"/>
<path d="M45 90h1v6.5h-1zM56 90h1v6.5h-1zM63 90h1v6.5h-1zM72 90h1v6.5h-1zM74 90h1v6.5h-1zM81 90h1v6.5h-1zM84 90h1v6.5h-1zM95 90h1v6.5h-1zM110 90h1v6.5h-1zM124 90h1v6.5h-1zM131 90h2v6.5h-2zM139 90h1v6.5h-1zM149 90h1v6.5h-1z" fill="#fce4f0"/>
<path d="M64 90h1v6.5h-1zM112 90h1v6.5h-1z" fill="#d8eafc"/>
<path d="M69 90h1v6.5h-1z" fill="#cce4fc"/>
<path d="M88 90h1v6.5h-1z" fill="#d2eafc"/>
<path d="M97 90h1v6.5h-1z" fill="#d2d8f6"/>
<path d="M103 90h1v6.5h-1zM127 90h1v6.5h-1z" fill="#fcf0f6"/>
<path d="M130 90h1v6.5h-1z" fill="#c6d2f6"/>
<path d="M144 90h1v6.5h-1z" fill="#c0e4fc"/>
<rect x="0" y="96" width="162" height="6.5" fill="#ffffff"/>
<rect x="5" y="102" width="27" height="6.5" fill="#0c5acc"/>
<rect x="45" y="102" width="19" height="6.5" fill="#0c5acc"/>
<rect x="68" y="102" width="24" height="6.5" fill="#0c5acc"/>
<rect x="93" y="102" width="8" height="6.5" fill="#0c5acc"/>
<rect x="102" y="102" width="16" height="6.5" fill="#0c5acc"/>
<rect x="119" y="102" width="9" height="6.5" fill="#0c5acc"/>
<rect x="129" y="102" width="11" height="6.5" fill="#0c5acc"/>
<rect x="141" y="102" width="12" height="6.5" fill="#0c5acc"/>
<rect x="154" y="102" width="8" height="6.5" fill="#0c5acc"/>
<path d="M0 102h4v6.5h-4zM33 102h2v6.5h-2zM37 102h4v6.5h-4zM42 102h1v6.5h-1zM65 102h2v6.5h-2z" fill="#0c5acc"/>
<path d="M4 102h1v6.5h-1zM64 102h1v6.5h-1zM140 102h1v6.5h-1z" fill="#4884d8"/>
<path d="M32 102h1v6.5h-1z" fill="#2a6cd2"/>
<path d="M35 102h1v6.5h-1z" fill="#5a90de"/>
<path d="M36 102h1v6.5h-1z" fill="#6c9ce4"/>
<path d="M41 102h1v6.5h-1z" fill="#3678d8"/>
<path d="M43 102h1v6.5h-1zM67 102h1v6.5h-1z" fill="#427ed8"/>
<path d="M44 102h1v6.5h-1z" fill="#6090de"/>
<path d="M92 102h1v6.5h-1z" fill="#3072d2"/>
<path d="M101 102h1v6.5h-1z" fill="#3c78d8"/>
<path d="M118 102h1v6.5h-1z" fill="#3c7ed8"/>
<path d="M128 102h1v6.5h-1z" fill="#246cd2"/>
<path d="M153 102h1v6.5h-1z" fill="#4e8ad8"/>
<rect x="3" y="108" width="22" height="6.5" fill="#0c5acc"/>
<rect x="40" y="108" width="31" height="6.5" fill="#0c5acc"/>
<rect x="72" y="108" width="13" height="6.5" fill="#0c5acc"/>
<rect x="86" y="108" width="18" height="6.5" fill="#0c5acc"/>
<rect x="105" y="108" width="12" height="6.5" fill="#0c5acc"/>
<rect x="122" y="108" width="31" height="6.5" fill="#0c5acc"/>
<rect x="154" y="108" width="8" height="6.5" fill="#0c5acc"/>
<path d="M0 108h2v6.5h-2zM26 108h5v6.5h-5zM119 108h2v6.5h-2z" fill="#0c5acc"/>
<path d="M2 108h1v6.5h-1z" fill="#427ed8"/>
<path d="M25 108h1v6.5h-1zM121 108h1v6.5h-1z" fill="#3072d2"/>
<path d="M31 108h1v6.5h-1zM117 108h2v6.5h-2z" fill="#3c78d8"/>
<path d="M32 108h1v6.5h-1zM34 108h1v6.5h-1z" fill="#78a2e4"/>
<path d="M33 108h1v6.5h-1zM85 108h1v6.5h-1z" fill="#4e84d8"/>
<path d="M35 108h4v6.5h-4z" fill="#ffffff"/>
<path d="M39 108h1v6.5h-1z" fill="#4e8ad8"/>
<path d="M71 108h1v6.5h-1zM104 108h1v6.5h-1z" fill="#3678d8"/>
<path d="M153 108h1v6.5h-1z" fill="#4884d8"/>
<rect x="0" y="114" width="162" height="6" fill="#ffffff"/>
</g></g>
<path d="M50.40 28.90H212.00V150.90" fill="none" stroke="#a6a6a6" stroke-width="1.1"/>
<path d="M50.40 28.90V150.90H212.00" fill="none" stroke="#6e6e6e" stroke-width="1.05"/>
<path d="M50.40 34.89h5" stroke="#555" stroke-width="0.8"/>
<text transform="translate(46.40,40.39)" font-size="11.40" text-anchor="end">498</text>
<path d="M50.40 65.34h5" stroke="#555" stroke-width="0.8"/>
<text transform="translate(46.40,70.84)" font-size="11.40" text-anchor="end">493</text>
<path d="M50.40 95.79h5" stroke="#555" stroke-width="0.8"/>
<text transform="translate(46.40,101.29)" font-size="11.40" text-anchor="end">488</text>
<path d="M50.40 126.24h5" stroke="#555" stroke-width="0.8"/>
<text transform="translate(46.40,131.74)" font-size="11.40" text-anchor="end">483</text>
<path d="M50.40 150.90v-3.2" stroke="#555" stroke-width="0.8"/>
<path d="M82.72 150.90v-3.2" stroke="#555" stroke-width="0.8"/>
<path d="M115.04 150.90v-3.2" stroke="#555" stroke-width="0.8"/>
<path d="M147.36 150.90v-3.2" stroke="#555" stroke-width="0.8"/>
<path d="M179.68 150.90v-3.2" stroke="#555" stroke-width="0.8"/>
<path d="M212.00 150.90v-3.2" stroke="#555" stroke-width="0.8"/>
<text transform="translate(130.00,22.20) scale(1.025,1)" font-size="15.20" text-anchor="middle">apo-FGFR1</text>
<text transform="translate(22.40,90.80) rotate(-90) scale(1,1.07)" font-size="13.05" text-anchor="middle">Residue Number</text>
<rect x="219.50" y="28.90" width="8.50" height="15.36" fill="#ffa6d3"/>
<path d="M219.50 36.56h3M228.00 36.56h-3" stroke="#3a3a3a" stroke-width="0.9"/>
<text transform="translate(234.10,42.16) scale(1.070,1)" font-size="10.80" text-anchor="start">Bend</text>
<rect x="219.50" y="44.21" width="8.50" height="15.36" fill="#f20482"/>
<path d="M219.50 51.87h3M228.00 51.87h-3" stroke="#3a3a3a" stroke-width="0.9"/>
<text transform="translate(234.10,57.52) scale(1.070,1)" font-size="10.80" text-anchor="start">Turn</text>
<rect x="219.50" y="59.52" width="8.50" height="15.36" fill="#62b0f6"/>
<path d="M219.50 67.18h3M228.00 67.18h-3" stroke="#3a3a3a" stroke-width="0.9"/>
<text transform="translate(234.10,72.88) scale(1.070,1)" font-size="10.80" text-anchor="start">Pi</text>
<rect x="219.50" y="74.84" width="8.50" height="15.36" fill="#fff478"/>
<path d="M219.50 82.49h3M228.00 82.49h-3" stroke="#3a3a3a" stroke-width="0.9"/>
<text transform="translate(234.10,88.24) scale(1.070,1)" font-size="10.80" text-anchor="start">Alpha</text>
<rect x="219.50" y="90.15" width="8.50" height="15.36" fill="#009686"/>
<path d="M219.50 97.81h3M228.00 97.81h-3" stroke="#3a3a3a" stroke-width="0.9"/>
<text transform="translate(234.10,103.61) scale(1.070,1)" font-size="10.80" text-anchor="start">3-10</text>
<rect x="219.50" y="105.46" width="8.50" height="15.36" fill="#0c5acc"/>
<path d="M219.50 113.12h3M228.00 113.12h-3" stroke="#3a3a3a" stroke-width="0.9"/>
<text transform="translate(234.10,118.97) scale(1.070,1)" font-size="10.80" text-anchor="start">Anti</text>
<rect x="219.50" y="120.78" width="8.50" height="15.36" fill="#ff8c10"/>
<path d="M219.50 128.43h3M228.00 128.43h-3" stroke="#3a3a3a" stroke-width="0.9"/>
<text transform="translate(234.10,134.33) scale(1.070,1)" font-size="10.80" text-anchor="start">Para</text>
<rect x="219.50" y="136.09" width="8.50" height="14.91" fill="#ffffff"/>
<path d="M219.50 143.74h3M228.00 143.74h-3" stroke="#3a3a3a" stroke-width="0.9"/>
<text transform="translate(234.10,149.69) scale(1.070,1)" font-size="10.80" text-anchor="start">None</text>
<rect x="219.50" y="28.90" width="8.50" height="122.10" fill="none" stroke="#999" stroke-width="0.9"/>
<path d="M330.40 28.40H492.60V150.60" fill="none" stroke="#a6a6a6" stroke-width="1.1"/>
<path d="M330.40 28.40V150.60H492.60" fill="none" stroke="#6e6e6e" stroke-width="1.05"/>
<path d="M330.40 34.41h5" stroke="#555" stroke-width="0.8"/>
<text transform="translate(326.40,38.85)" font-size="11.40" text-anchor="end">501</text>
<path d="M330.40 64.93h5" stroke="#555" stroke-width="0.8"/>
<text transform="translate(326.40,69.38)" font-size="11.40" text-anchor="end">496</text>
<path d="M330.40 95.45h5" stroke="#555" stroke-width="0.8"/>
<text transform="translate(326.40,99.90)" font-size="11.40" text-anchor="end">491</text>
<path d="M330.40 125.98h5" stroke="#555" stroke-width="0.8"/>
<text transform="translate(326.40,130.43)" font-size="11.40" text-anchor="end">486</text>
<path d="M330.40 150.60v-3.2" stroke="#555" stroke-width="0.8"/>
<path d="M362.84 150.60v-3.2" stroke="#555" stroke-width="0.8"/>
<path d="M395.28 150.60v-3.2" stroke="#555" stroke-width="0.8"/>
<path d="M427.72 150.60v-3.2" stroke="#555" stroke-width="0.8"/>
<path d="M460.16 150.60v-3.2" stroke="#555" stroke-width="0.8"/>
<path d="M492.60 150.60v-3.2" stroke="#555" stroke-width="0.8"/>
<text transform="translate(413.30,21.80) scale(1.025,1)" font-size="15.20" text-anchor="middle">apo-FGFR2</text>
<text transform="translate(303.30,89.50) rotate(-90) scale(1,1.07)" font-size="13.05" text-anchor="middle">Residue Number</text>
<rect x="499.60" y="28.10" width="8.90" height="15.38" fill="#ffa6d3"/>
<path d="M499.60 35.76h3M508.50 35.76h-3" stroke="#3a3a3a" stroke-width="0.9"/>
<text transform="translate(514.90,39.86) scale(1.070,1)" font-size="10.80" text-anchor="start">Bend</text>
<rect x="499.60" y="43.42" width="8.90" height="15.38" fill="#f20482"/>
<path d="M499.60 51.09h3M508.50 51.09h-3" stroke="#3a3a3a" stroke-width="0.9"/>
<text transform="translate(514.90,55.24) scale(1.070,1)" font-size="10.80" text-anchor="start">Turn</text>
<rect x="499.60" y="58.75" width="8.90" height="15.38" fill="#62b0f6"/>
<path d="M499.60 66.41h3M508.50 66.41h-3" stroke="#3a3a3a" stroke-width="0.9"/>
<text transform="translate(514.90,70.61) scale(1.070,1)" font-size="10.80" text-anchor="start">Pi</text>
<rect x="499.60" y="74.07" width="8.90" height="15.38" fill="#fff478"/>
<path d="M499.60 81.74h3M508.50 81.74h-3" stroke="#3a3a3a" stroke-width="0.9"/>
<text transform="translate(514.90,85.99) scale(1.070,1)" font-size="10.80" text-anchor="start">Alpha</text>
<rect x="499.60" y="89.40" width="8.90" height="15.38" fill="#009686"/>
<path d="M499.60 97.06h3M508.50 97.06h-3" stroke="#3a3a3a" stroke-width="0.9"/>
<text transform="translate(514.90,101.36) scale(1.070,1)" font-size="10.80" text-anchor="start">3-10</text>
<rect x="499.60" y="104.72" width="8.90" height="15.38" fill="#0c5acc"/>
<path d="M499.60 112.39h3M508.50 112.39h-3" stroke="#3a3a3a" stroke-width="0.9"/>
<text transform="translate(514.90,116.74) scale(1.070,1)" font-size="10.80" text-anchor="start">Anti</text>
<rect x="499.60" y="120.05" width="8.90" height="15.38" fill="#ff8c10"/>
<path d="M499.60 127.71h3M508.50 127.71h-3" stroke="#3a3a3a" stroke-width="0.9"/>
<text transform="translate(514.90,132.11) scale(1.070,1)" font-size="10.80" text-anchor="start">Para</text>
<rect x="499.60" y="135.38" width="8.90" height="15.03" fill="#ffffff"/>
<path d="M499.60 143.04h3M508.50 143.04h-3" stroke="#3a3a3a" stroke-width="0.9"/>
<text transform="translate(514.90,147.49) scale(1.070,1)" font-size="10.80" text-anchor="start">None</text>
<rect x="499.60" y="28.10" width="8.90" height="122.30" fill="none" stroke="#999" stroke-width="0.9"/>
<path d="M50.40 183.40H212.70V305.50" fill="none" stroke="#a6a6a6" stroke-width="1.1"/>
<path d="M50.40 183.40V305.50H212.70" fill="none" stroke="#6e6e6e" stroke-width="1.05"/>
<path d="M50.40 189.43h5" stroke="#555" stroke-width="0.8"/>
<text transform="translate(46.40,196.13)" font-size="11.40" text-anchor="end">498</text>
<path d="M50.40 220.05h5" stroke="#555" stroke-width="0.8"/>
<text transform="translate(46.40,226.75)" font-size="11.40" text-anchor="end">493</text>
<path d="M50.40 250.68h5" stroke="#555" stroke-width="0.8"/>
<text transform="translate(46.40,257.38)" font-size="11.40" text-anchor="end">488</text>
<path d="M50.40 281.30h5" stroke="#555" stroke-width="0.8"/>
<text transform="translate(46.40,288.00)" font-size="11.40" text-anchor="end">483</text>
<path d="M50.40 305.50v-3.2" stroke="#555" stroke-width="0.8"/>
<text transform="translate(50.90,319.20) scale(1.040,1)" font-size="11.00" text-anchor="middle">0</text>
<path d="M82.86 305.50v-3.2" stroke="#555" stroke-width="0.8"/>
<text transform="translate(84.06,319.20) scale(1.040,1)" font-size="11.00" text-anchor="middle">0.2</text>
<path d="M115.32 305.50v-3.2" stroke="#555" stroke-width="0.8"/>
<text transform="translate(117.02,319.20) scale(1.040,1)" font-size="11.00" text-anchor="middle">0.4</text>
<path d="M147.78 305.50v-3.2" stroke="#555" stroke-width="0.8"/>
<text transform="translate(149.48,319.20) scale(1.040,1)" font-size="11.00" text-anchor="middle">0.6</text>
<path d="M180.24 305.50v-3.2" stroke="#555" stroke-width="0.8"/>
<text transform="translate(181.94,319.20) scale(1.040,1)" font-size="11.00" text-anchor="middle">0.8</text>
<path d="M212.70 305.50v-3.2" stroke="#555" stroke-width="0.8"/>
<text transform="translate(213.70,319.20) scale(1.040,1)" font-size="11.00" text-anchor="middle">1</text>
<text transform="translate(132.25,340.10)" font-size="15.50" text-anchor="middle">Time (μs)</text>
<text transform="translate(128.15,177.30) scale(1.025,1)" font-size="15.20" text-anchor="middle">FGFR1-38</text>
<text transform="translate(23.10,245.85) rotate(-90) scale(1,1.07)" font-size="13.05" text-anchor="middle">Residue Number</text>
<rect x="220.40" y="183.50" width="8.40" height="15.39" fill="#ffa6d3"/>
<path d="M220.40 191.17h3M228.80 191.17h-3" stroke="#3a3a3a" stroke-width="0.9"/>
<text transform="translate(235.20,195.97) scale(1.070,1)" font-size="10.80" text-anchor="start">Bend</text>
<rect x="220.40" y="198.84" width="8.40" height="15.39" fill="#f20482"/>
<path d="M220.40 206.51h3M228.80 206.51h-3" stroke="#3a3a3a" stroke-width="0.9"/>
<text transform="translate(235.20,211.27) scale(1.070,1)" font-size="10.80" text-anchor="start">Turn</text>
<rect x="220.40" y="214.18" width="8.40" height="15.39" fill="#62b0f6"/>
<path d="M220.40 221.84h3M228.80 221.84h-3" stroke="#3a3a3a" stroke-width="0.9"/>
<text transform="translate(235.20,226.56) scale(1.070,1)" font-size="10.80" text-anchor="start">Pi</text>
<rect x="220.40" y="229.51" width="8.40" height="15.39" fill="#fff478"/>
<path d="M220.40 237.18h3M228.80 237.18h-3" stroke="#3a3a3a" stroke-width="0.9"/>
<text transform="translate(235.20,241.86) scale(1.070,1)" font-size="10.80" text-anchor="start">Alpha</text>
<rect x="220.40" y="244.85" width="8.40" height="15.39" fill="#009686"/>
<path d="M220.40 252.52h3M228.80 252.52h-3" stroke="#3a3a3a" stroke-width="0.9"/>
<text transform="translate(235.20,257.16) scale(1.070,1)" font-size="10.80" text-anchor="start">3-10</text>
<rect x="220.40" y="260.19" width="8.40" height="15.39" fill="#0c5acc"/>
<path d="M220.40 267.86h3M228.80 267.86h-3" stroke="#3a3a3a" stroke-width="0.9"/>
<text transform="translate(235.20,272.46) scale(1.070,1)" font-size="10.80" text-anchor="start">Anti</text>
<rect x="220.40" y="275.52" width="8.40" height="15.39" fill="#ff8c10"/>
<path d="M220.40 283.19h3M228.80 283.19h-3" stroke="#3a3a3a" stroke-width="0.9"/>
<text transform="translate(235.20,287.75) scale(1.070,1)" font-size="10.80" text-anchor="start">Para</text>
<rect x="220.40" y="290.86" width="8.40" height="14.84" fill="#ffffff"/>
<path d="M220.40 298.53h3M228.80 298.53h-3" stroke="#3a3a3a" stroke-width="0.9"/>
<text transform="translate(235.20,303.05) scale(1.070,1)" font-size="10.80" text-anchor="start">None</text>
<rect x="220.40" y="183.50" width="8.40" height="122.20" fill="none" stroke="#999" stroke-width="0.9"/>
<path d="M330.40 183.40H492.00V305.90" fill="none" stroke="#a6a6a6" stroke-width="1.1"/>
<path d="M330.40 183.40V305.90H492.00" fill="none" stroke="#6e6e6e" stroke-width="1.05"/>
<path d="M330.40 189.43h5" stroke="#555" stroke-width="0.8"/>
<text transform="translate(326.40,195.43)" font-size="11.40" text-anchor="end">501</text>
<path d="M330.40 220.08h5" stroke="#555" stroke-width="0.8"/>
<text transform="translate(326.40,226.08)" font-size="11.40" text-anchor="end">496</text>
<path d="M330.40 250.73h5" stroke="#555" stroke-width="0.8"/>
<text transform="translate(326.40,256.73)" font-size="11.40" text-anchor="end">491</text>
<path d="M330.40 281.38h5" stroke="#555" stroke-width="0.8"/>
<text transform="translate(326.40,287.38)" font-size="11.40" text-anchor="end">486</text>
<path d="M330.40 305.90v-3.2" stroke="#555" stroke-width="0.8"/>
<text transform="translate(330.90,319.60) scale(1.040,1)" font-size="11.00" text-anchor="middle">0</text>
<path d="M362.72 305.90v-3.2" stroke="#555" stroke-width="0.8"/>
<text transform="translate(363.92,319.60) scale(1.040,1)" font-size="11.00" text-anchor="middle">0.2</text>
<path d="M395.04 305.90v-3.2" stroke="#555" stroke-width="0.8"/>
<text transform="translate(396.74,319.60) scale(1.040,1)" font-size="11.00" text-anchor="middle">0.4</text>
<path d="M427.36 305.90v-3.2" stroke="#555" stroke-width="0.8"/>
<text transform="translate(429.06,319.60) scale(1.040,1)" font-size="11.00" text-anchor="middle">0.6</text>
<path d="M459.68 305.90v-3.2" stroke="#555" stroke-width="0.8"/>
<text transform="translate(461.38,319.60) scale(1.040,1)" font-size="11.00" text-anchor="middle">0.8</text>
<path d="M492.00 305.90v-3.2" stroke="#555" stroke-width="0.8"/>
<text transform="translate(493.00,319.60) scale(1.040,1)" font-size="11.00" text-anchor="middle">1</text>
<text transform="translate(411.90,340.50)" font-size="15.50" text-anchor="middle">Time (μs)</text>
<text transform="translate(412.40,177.30) scale(1.025,1)" font-size="15.20" text-anchor="middle">FGFR2-38</text>
<text transform="translate(303.30,245.75) rotate(-90) scale(1,1.07)" font-size="13.05" text-anchor="middle">Residue Number</text>
<rect x="499.60" y="183.50" width="8.70" height="15.40" fill="#ffa6d3"/>
<path d="M499.60 191.18h3M508.30 191.18h-3" stroke="#3a3a3a" stroke-width="0.9"/>
<text transform="translate(515.20,195.98) scale(1.070,1)" font-size="10.80" text-anchor="start">Bend</text>
<rect x="499.60" y="198.85" width="8.70" height="15.40" fill="#f20482"/>
<path d="M499.60 206.53h3M508.30 206.53h-3" stroke="#3a3a3a" stroke-width="0.9"/>
<text transform="translate(515.20,211.29) scale(1.070,1)" font-size="10.80" text-anchor="start">Turn</text>
<rect x="499.60" y="214.20" width="8.70" height="15.40" fill="#62b0f6"/>
<path d="M499.60 221.88h3M508.30 221.88h-3" stroke="#3a3a3a" stroke-width="0.9"/>
<text transform="translate(515.20,226.59) scale(1.070,1)" font-size="10.80" text-anchor="start">Pi</text>
<rect x="499.60" y="229.55" width="8.70" height="15.40" fill="#fff478"/>
<path d="M499.60 237.23h3M508.30 237.23h-3" stroke="#3a3a3a" stroke-width="0.9"/>
<text transform="translate(515.20,241.91) scale(1.070,1)" font-size="10.80" text-anchor="start">Alpha</text>
<rect x="499.60" y="244.90" width="8.70" height="15.40" fill="#009686"/>
<path d="M499.60 252.57h3M508.30 252.57h-3" stroke="#3a3a3a" stroke-width="0.9"/>
<text transform="translate(515.20,257.21) scale(1.070,1)" font-size="10.80" text-anchor="start">3-10</text>
<rect x="499.60" y="260.25" width="8.70" height="15.40" fill="#0c5acc"/>
<path d="M499.60 267.93h3M508.30 267.93h-3" stroke="#3a3a3a" stroke-width="0.9"/>
<text transform="translate(515.20,272.53) scale(1.070,1)" font-size="10.80" text-anchor="start">Anti</text>
<rect x="499.60" y="275.60" width="8.70" height="15.40" fill="#ff8c10"/>
<path d="M499.60 283.27h3M508.30 283.27h-3" stroke="#3a3a3a" stroke-width="0.9"/>
<text transform="translate(515.20,287.83) scale(1.070,1)" font-size="10.80" text-anchor="start">Para</text>
<rect x="499.60" y="290.95" width="8.70" height="14.95" fill="#ffffff"/>
<path d="M499.60 298.62h3M508.30 298.62h-3" stroke="#3a3a3a" stroke-width="0.9"/>
<text transform="translate(515.20,303.15) scale(1.070,1)" font-size="10.80" text-anchor="start">None</text>
<rect x="499.60" y="183.50" width="8.70" height="122.40" fill="none" stroke="#999" stroke-width="0.9"/>
<text transform="translate(6.00,16.60) scale(1.030,1)" font-size="15.30" text-anchor="start">(A)</text>
<text transform="translate(288.20,16.20) scale(1.030,1)" font-size="15.30" text-anchor="start">(B)</text>
<text transform="translate(2.50,169.40) scale(1.030,1)" font-size="15.30" text-anchor="start">(C)</text>
<text transform="translate(288.20,169.80) scale(1.030,1)" font-size="15.30" text-anchor="start">(D)</text>
</svg></body></html>
